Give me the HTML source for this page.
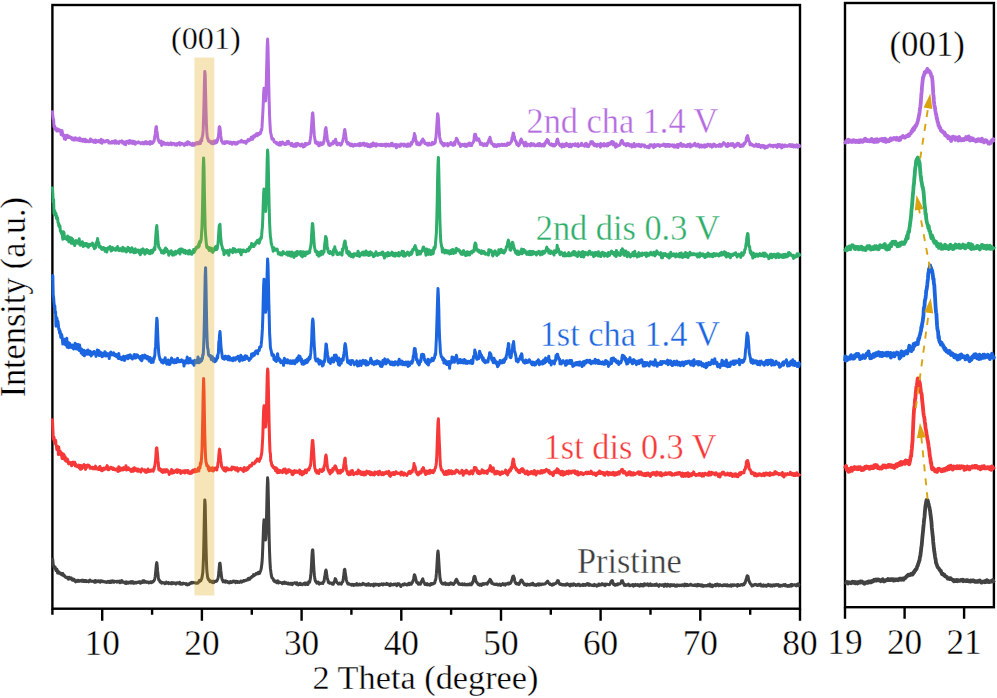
<!DOCTYPE html><html><head><meta charset="utf-8"><style>text{stroke:#fff;stroke-width:0.35px}html,body{margin:0;padding:0;background:#fff;overflow:hidden}svg{display:block}</style></head><body><svg width="997" height="698" viewBox="0 0 997 698">
<rect width="997" height="698" fill="#fff"/>
<g fill="none" stroke="#000" stroke-width="2.4">
<rect x="52.4" y="5" width="747.6" height="603.7"/>
<rect x="845.0" y="3" width="148.89999999999998" height="604.2"/>
<path d="M52.4,608.7 v6 M102.2,608.7 v12 M152.1,608.7 v6 M201.9,608.7 v12 M251.8,608.7 v6 M301.6,608.7 v12 M351.4,608.7 v6 M401.3,608.7 v12 M451.1,608.7 v6 M501.0,608.7 v12 M550.8,608.7 v6 M600.6,608.7 v12 M650.5,608.7 v6 M700.3,608.7 v12 M750.2,608.7 v6 M800.0,608.7 v12 M845.0,607.2 v11.5 M904.6,607.2 v11.5 M964.1,607.2 v11.5" stroke-linecap="butt"/>
</g>
<g fill="none" stroke-width="3.0" stroke-linejoin="round" stroke-linecap="butt">
<path stroke="#B46BE0" d="M52.4,110.3 L52.8,115.6 L53.2,119.2 L53.6,119.3 L54.0,126.6 L54.4,126.8 L54.8,126.2 L55.2,129.3 L55.6,129.7 L56.0,130.1 L56.4,130.0 L56.8,130.9 L57.2,128.8 L57.6,129.7 L58.0,129.2 L58.4,130.9 L58.8,130.3 L59.2,130.1 L59.6,129.8 L60.0,130.9 L60.4,131.7 L60.8,131.9 L61.2,134.7 L61.6,134.9 L62.0,130.6 L62.4,132.4 L62.8,135.1 L63.2,135.1 L63.6,136.2 L64.0,136.4 L64.4,139.0 L64.8,135.2 L65.2,136.3 L65.6,139.4 L66.0,137.8 L66.4,137.9 L66.8,136.5 L67.2,135.2 L67.6,137.4 L68.0,137.4 L68.4,135.9 L68.8,136.7 L69.2,137.4 L69.6,136.6 L70.0,137.6 L70.4,137.8 L70.8,137.9 L71.2,137.4 L71.6,138.8 L72.0,139.3 L72.4,138.9 L72.8,138.0 L73.2,139.8 L73.6,138.6 L74.0,140.1 L74.4,138.1 L74.8,140.1 L75.2,139.1 L75.6,137.9 L76.0,138.9 L76.4,139.4 L76.8,139.8 L77.2,138.7 L77.6,138.7 L78.0,140.0 L78.4,139.4 L78.8,140.0 L79.2,140.4 L79.6,138.1 L80.0,139.8 L80.4,140.7 L80.8,139.4 L81.2,139.0 L81.6,140.6 L82.0,140.4 L82.4,141.2 L82.8,140.3 L83.2,139.4 L83.6,140.7 L84.0,140.4 L84.4,141.4 L84.8,140.9 L85.2,139.3 L85.6,139.8 L86.0,141.7 L86.4,141.6 L86.8,140.5 L87.2,141.1 L87.6,141.4 L88.0,141.4 L88.4,141.7 L88.8,141.1 L89.2,140.7 L89.6,140.6 L90.0,141.6 L90.4,138.9 L90.8,140.7 L91.2,140.8 L91.6,139.7 L92.0,141.2 L92.4,140.4 L92.8,141.7 L93.2,141.0 L93.6,141.7 L94.0,142.2 L94.4,141.5 L94.8,140.5 L95.2,140.0 L95.6,142.6 L96.0,141.1 L96.4,140.6 L96.8,141.2 L97.2,140.9 L97.6,141.8 L98.0,141.1 L98.4,141.2 L98.8,140.7 L99.2,141.7 L99.6,140.6 L100.0,141.9 L100.4,142.6 L100.8,140.2 L101.2,139.4 L101.6,141.7 L102.0,143.2 L102.4,140.5 L102.8,140.4 L103.2,141.9 L103.6,140.9 L104.0,141.2 L104.4,141.3 L104.8,142.0 L105.2,141.2 L105.6,141.6 L106.0,141.2 L106.4,140.6 L106.8,141.0 L107.2,140.5 L107.6,141.3 L108.0,140.6 L108.4,140.9 L108.8,143.1 L109.2,142.2 L109.6,142.4 L110.0,143.0 L110.4,142.3 L110.8,142.5 L111.2,142.9 L111.6,142.7 L112.0,141.5 L112.4,142.9 L112.8,141.7 L113.2,141.2 L113.6,141.3 L114.0,141.7 L114.4,143.2 L114.8,141.1 L115.2,142.3 L115.6,140.6 L116.0,142.3 L116.4,143.1 L116.8,142.2 L117.2,141.9 L117.6,142.4 L118.0,142.7 L118.4,142.5 L118.8,143.4 L119.2,142.0 L119.6,141.3 L120.0,141.6 L120.4,141.6 L120.8,141.8 L121.2,141.8 L121.6,142.0 L122.0,140.8 L122.4,142.9 L122.8,142.0 L123.2,141.8 L123.6,143.3 L124.0,144.0 L124.4,143.4 L124.8,143.0 L125.2,142.1 L125.6,144.8 L126.0,143.1 L126.4,141.5 L126.8,141.7 L127.2,142.4 L127.6,141.2 L128.0,142.5 L128.4,142.1 L128.8,143.4 L129.2,143.2 L129.6,140.4 L130.0,142.4 L130.4,141.1 L130.8,143.1 L131.2,142.2 L131.6,142.4 L132.0,141.1 L132.4,143.3 L132.8,143.5 L133.2,141.3 L133.6,142.5 L134.0,141.9 L134.4,142.5 L134.8,141.7 L135.2,144.2 L135.6,142.1 L136.0,142.6 L136.4,143.2 L136.8,142.3 L137.2,142.5 L137.6,142.2 L138.0,142.6 L138.4,141.8 L138.8,142.4 L139.2,142.7 L139.6,142.7 L140.0,143.0 L140.4,142.8 L140.8,143.6 L141.2,142.8 L141.6,143.0 L142.0,142.7 L142.4,142.9 L142.8,142.4 L143.2,143.9 L143.6,142.7 L144.0,143.0 L144.4,143.8 L144.8,143.7 L145.2,142.9 L145.6,141.6 L146.0,143.3 L146.4,143.2 L146.8,142.0 L147.2,143.8 L147.6,142.9 L148.0,142.6 L148.4,143.5 L148.8,143.2 L149.2,143.3 L149.6,141.7 L150.0,144.2 L150.4,142.3 L150.8,141.7 L151.2,143.4 L151.6,142.8 L152.0,143.4 L152.4,142.8 L152.8,142.8 L153.2,142.6 L153.6,141.2 L154.0,141.3 L154.4,139.0 L154.8,136.4 L155.2,134.0 L155.6,130.5 L156.0,127.0 L156.4,126.6 L156.8,130.7 L157.2,132.6 L157.6,136.3 L158.0,139.3 L158.4,139.5 L158.8,141.3 L159.2,141.7 L159.6,142.7 L160.0,141.6 L160.4,142.0 L160.8,142.9 L161.2,141.0 L161.6,145.4 L162.0,142.7 L162.4,142.8 L162.8,144.1 L163.2,143.5 L163.6,142.2 L164.0,144.1 L164.4,144.3 L164.8,143.4 L165.2,143.6 L165.6,144.2 L166.0,143.3 L166.4,144.4 L166.8,144.3 L167.2,143.6 L167.6,143.1 L168.0,143.9 L168.4,143.4 L168.8,144.7 L169.2,143.9 L169.6,144.3 L170.0,143.7 L170.4,143.7 L170.8,142.9 L171.2,143.9 L171.6,144.8 L172.0,143.3 L172.4,143.2 L172.8,143.6 L173.2,143.5 L173.6,143.4 L174.0,144.0 L174.4,143.7 L174.8,145.0 L175.2,144.0 L175.6,144.3 L176.0,144.8 L176.4,143.9 L176.8,145.2 L177.2,143.7 L177.6,143.5 L178.0,143.8 L178.4,144.0 L178.8,143.0 L179.2,143.9 L179.6,142.6 L180.0,144.9 L180.4,143.8 L180.8,143.4 L181.2,143.3 L181.6,143.8 L182.0,144.0 L182.4,143.5 L182.8,143.8 L183.2,144.4 L183.6,144.2 L184.0,145.3 L184.4,145.4 L184.8,144.4 L185.2,144.6 L185.6,143.1 L186.0,144.5 L186.4,143.8 L186.8,144.1 L187.2,144.8 L187.6,141.7 L188.0,143.6 L188.4,142.5 L188.8,143.8 L189.2,142.5 L189.6,143.3 L190.0,144.1 L190.4,144.6 L190.8,144.4 L191.2,143.9 L191.6,144.2 L192.0,145.3 L192.4,144.7 L192.8,143.4 L193.2,145.3 L193.6,144.9 L194.0,145.2 L194.4,144.2 L194.8,144.9 L195.2,143.2 L195.6,144.2 L196.0,143.1 L196.4,143.8 L196.8,143.9 L197.2,142.5 L197.6,143.0 L198.0,143.1 L198.4,144.0 L198.8,143.6 L199.2,142.0 L199.6,143.0 L200.0,142.9 L200.4,143.5 L200.8,140.1 L201.2,140.3 L201.6,141.0 L202.0,137.9 L202.4,136.4 L202.8,134.7 L203.2,129.4 L203.6,117.9 L204.0,103.0 L204.4,83.6 L204.8,71.6 L205.2,75.2 L205.6,93.5 L206.0,110.0 L206.4,123.5 L206.8,131.4 L207.2,136.5 L207.6,138.4 L208.0,138.7 L208.4,140.7 L208.8,141.4 L209.2,141.2 L209.6,141.6 L210.0,142.0 L210.4,141.2 L210.8,142.9 L211.2,143.1 L211.6,142.4 L212.0,143.5 L212.4,141.8 L212.8,142.2 L213.2,142.1 L213.6,143.8 L214.0,140.9 L214.4,142.5 L214.8,142.7 L215.2,142.3 L215.6,142.9 L216.0,141.2 L216.4,140.3 L216.8,142.4 L217.2,140.5 L217.6,140.2 L218.0,137.8 L218.4,136.6 L218.8,132.6 L219.2,127.3 L219.6,126.7 L220.0,128.0 L220.4,131.8 L220.8,135.9 L221.2,138.6 L221.6,141.1 L222.0,141.9 L222.4,142.0 L222.8,143.3 L223.2,142.1 L223.6,142.8 L224.0,142.8 L224.4,143.4 L224.8,141.8 L225.2,143.4 L225.6,142.2 L226.0,142.0 L226.4,141.7 L226.8,142.8 L227.2,142.5 L227.6,141.7 L228.0,141.7 L228.4,142.1 L228.8,142.0 L229.2,143.2 L229.6,143.4 L230.0,143.0 L230.4,142.7 L230.8,142.2 L231.2,142.6 L231.6,143.3 L232.0,144.3 L232.4,143.4 L232.8,142.5 L233.2,142.8 L233.6,142.4 L234.0,142.2 L234.4,142.6 L234.8,142.9 L235.2,144.1 L235.6,142.7 L236.0,143.7 L236.4,144.0 L236.8,142.7 L237.2,143.8 L237.6,143.1 L238.0,142.1 L238.4,142.5 L238.8,142.1 L239.2,141.8 L239.6,141.7 L240.0,141.8 L240.4,142.0 L240.8,140.9 L241.2,141.6 L241.6,140.4 L242.0,141.8 L242.4,142.0 L242.8,141.7 L243.2,141.9 L243.6,142.1 L244.0,141.3 L244.4,141.6 L244.8,142.2 L245.2,142.5 L245.6,141.9 L246.0,143.4 L246.4,141.2 L246.8,141.8 L247.2,141.8 L247.6,140.5 L248.0,139.8 L248.4,139.3 L248.8,140.1 L249.2,140.6 L249.6,139.8 L250.0,139.6 L250.4,139.0 L250.8,139.6 L251.2,137.3 L251.6,138.8 L252.0,138.3 L252.4,136.9 L252.8,139.2 L253.2,136.2 L253.6,136.1 L254.0,135.7 L254.4,137.1 L254.8,135.2 L255.2,136.1 L255.6,135.7 L256.0,135.2 L256.4,133.8 L256.8,134.2 L257.2,135.7 L257.6,133.4 L258.0,133.6 L258.4,134.0 L258.8,134.6 L259.2,134.1 L259.6,134.2 L260.0,132.5 L260.4,133.6 L260.8,132.5 L261.2,129.7 L261.6,130.1 L262.0,127.4 L262.4,119.9 L262.8,113.1 L263.2,104.8 L263.6,93.5 L264.0,88.3 L264.4,90.9 L264.8,97.1 L265.2,101.0 L265.6,100.9 L266.0,93.4 L266.4,78.7 L266.8,62.2 L267.2,46.3 L267.6,39.0 L268.0,47.3 L268.4,65.3 L268.8,86.4 L269.2,102.2 L269.6,116.2 L270.0,124.2 L270.4,130.6 L270.8,133.6 L271.2,134.7 L271.6,137.2 L272.0,139.1 L272.4,138.2 L272.8,139.2 L273.2,139.5 L273.6,139.3 L274.0,141.5 L274.4,142.1 L274.8,142.0 L275.2,142.0 L275.6,142.2 L276.0,142.8 L276.4,142.4 L276.8,143.9 L277.2,144.3 L277.6,144.3 L278.0,143.3 L278.4,143.8 L278.8,143.6 L279.2,145.1 L279.6,143.9 L280.0,142.3 L280.4,144.0 L280.8,145.0 L281.2,144.0 L281.6,144.1 L282.0,143.5 L282.4,142.0 L282.8,142.2 L283.2,142.7 L283.6,143.6 L284.0,144.0 L284.4,144.3 L284.8,143.5 L285.2,144.5 L285.6,143.6 L286.0,143.2 L286.4,144.3 L286.8,143.0 L287.2,141.5 L287.6,142.7 L288.0,143.6 L288.4,141.3 L288.8,143.6 L289.2,143.8 L289.6,143.3 L290.0,143.4 L290.4,144.3 L290.8,144.3 L291.2,145.6 L291.6,144.9 L292.0,143.4 L292.4,143.9 L292.8,145.1 L293.2,146.1 L293.6,145.1 L294.0,145.1 L294.4,146.4 L294.8,145.0 L295.2,144.7 L295.6,143.8 L296.0,144.4 L296.4,146.3 L296.8,143.5 L297.2,144.4 L297.6,143.3 L298.0,144.4 L298.4,145.0 L298.8,144.2 L299.2,145.1 L299.6,145.1 L300.0,145.0 L300.4,146.0 L300.8,145.3 L301.2,144.4 L301.6,144.1 L302.0,144.0 L302.4,145.1 L302.8,144.6 L303.2,147.0 L303.6,146.4 L304.0,145.0 L304.4,144.9 L304.8,146.4 L305.2,143.5 L305.6,144.4 L306.0,145.2 L306.4,143.6 L306.8,143.7 L307.2,143.6 L307.6,144.2 L308.0,143.7 L308.4,143.9 L308.8,143.8 L309.2,143.1 L309.6,143.4 L310.0,141.0 L310.4,138.7 L310.8,135.4 L311.2,130.9 L311.6,125.4 L312.0,119.5 L312.4,113.5 L312.8,112.9 L313.2,117.7 L313.6,125.2 L314.0,131.5 L314.4,136.0 L314.8,138.4 L315.2,140.9 L315.6,143.1 L316.0,141.4 L316.4,143.2 L316.8,142.1 L317.2,144.0 L317.6,143.5 L318.0,142.6 L318.4,144.4 L318.8,145.9 L319.2,144.7 L319.6,145.5 L320.0,144.5 L320.4,142.8 L320.8,144.7 L321.2,143.9 L321.6,143.0 L322.0,144.6 L322.4,144.1 L322.8,143.2 L323.2,143.9 L323.6,141.8 L324.0,141.5 L324.4,137.9 L324.8,135.5 L325.2,130.0 L325.6,128.6 L326.0,127.6 L326.4,131.8 L326.8,134.3 L327.2,138.2 L327.6,141.7 L328.0,140.7 L328.4,142.9 L328.8,145.0 L329.2,144.9 L329.6,145.5 L330.0,144.6 L330.4,145.2 L330.8,144.2 L331.2,143.6 L331.6,143.3 L332.0,144.1 L332.4,144.1 L332.8,143.9 L333.2,141.6 L333.6,142.4 L334.0,142.9 L334.4,142.7 L334.8,141.0 L335.2,140.1 L335.6,139.2 L336.0,143.2 L336.4,141.7 L336.8,144.5 L337.2,144.8 L337.6,144.1 L338.0,143.5 L338.4,144.1 L338.8,143.2 L339.2,144.3 L339.6,144.1 L340.0,144.5 L340.4,144.7 L340.8,145.2 L341.2,143.4 L341.6,144.2 L342.0,142.4 L342.4,141.7 L342.8,140.8 L343.2,138.8 L343.6,137.6 L344.0,134.1 L344.4,131.2 L344.8,129.4 L345.2,132.0 L345.6,135.0 L346.0,137.7 L346.4,141.2 L346.8,142.4 L347.2,142.2 L347.6,143.9 L348.0,142.5 L348.4,143.9 L348.8,143.8 L349.2,144.0 L349.6,143.6 L350.0,145.3 L350.4,145.1 L350.8,145.7 L351.2,145.0 L351.6,144.1 L352.0,144.8 L352.4,144.3 L352.8,145.6 L353.2,146.2 L353.6,145.5 L354.0,144.9 L354.4,145.1 L354.8,145.5 L355.2,144.3 L355.6,145.6 L356.0,145.6 L356.4,144.9 L356.8,144.9 L357.2,145.2 L357.6,144.3 L358.0,144.1 L358.4,145.2 L358.8,144.7 L359.2,145.8 L359.6,143.8 L360.0,143.3 L360.4,145.4 L360.8,145.4 L361.2,144.3 L361.6,143.8 L362.0,145.0 L362.4,143.8 L362.8,144.8 L363.2,143.4 L363.6,144.8 L364.0,143.2 L364.4,144.5 L364.8,145.7 L365.2,144.3 L365.6,145.1 L366.0,144.2 L366.4,144.1 L366.8,143.8 L367.2,145.9 L367.6,145.1 L368.0,146.5 L368.4,144.4 L368.8,145.1 L369.2,145.4 L369.6,146.4 L370.0,146.8 L370.4,144.9 L370.8,144.5 L371.2,144.0 L371.6,146.2 L372.0,145.0 L372.4,144.5 L372.8,144.8 L373.2,142.9 L373.6,143.5 L374.0,145.5 L374.4,145.1 L374.8,145.0 L375.2,144.1 L375.6,145.2 L376.0,146.1 L376.4,143.8 L376.8,144.8 L377.2,144.5 L377.6,145.2 L378.0,145.1 L378.4,145.0 L378.8,144.5 L379.2,145.2 L379.6,144.7 L380.0,145.0 L380.4,145.0 L380.8,145.4 L381.2,144.4 L381.6,144.6 L382.0,145.6 L382.4,144.6 L382.8,144.6 L383.2,145.5 L383.6,145.1 L384.0,145.1 L384.4,145.3 L384.8,144.2 L385.2,145.6 L385.6,146.3 L386.0,145.7 L386.4,144.1 L386.8,145.5 L387.2,144.6 L387.6,145.0 L388.0,145.2 L388.4,144.2 L388.8,146.0 L389.2,144.9 L389.6,145.5 L390.0,145.3 L390.4,145.8 L390.8,145.6 L391.2,143.6 L391.6,144.8 L392.0,143.2 L392.4,144.6 L392.8,145.6 L393.2,145.8 L393.6,146.0 L394.0,144.7 L394.4,145.2 L394.8,144.9 L395.2,145.7 L395.6,145.9 L396.0,144.5 L396.4,147.7 L396.8,145.0 L397.2,144.8 L397.6,145.6 L398.0,145.8 L398.4,145.7 L398.8,144.8 L399.2,146.4 L399.6,145.3 L400.0,146.4 L400.4,146.2 L400.8,144.1 L401.2,144.2 L401.6,144.1 L402.0,145.0 L402.4,144.8 L402.8,145.0 L403.2,144.2 L403.6,145.2 L404.0,146.0 L404.4,144.1 L404.8,145.0 L405.2,145.4 L405.6,145.1 L406.0,145.0 L406.4,146.4 L406.8,145.9 L407.2,145.5 L407.6,144.1 L408.0,146.3 L408.4,144.8 L408.8,144.1 L409.2,144.2 L409.6,144.1 L410.0,146.1 L410.4,144.6 L410.8,144.4 L411.2,142.5 L411.6,144.4 L412.0,142.6 L412.4,141.8 L412.8,141.9 L413.2,139.2 L413.6,138.6 L414.0,136.9 L414.4,133.6 L414.8,135.2 L415.2,135.8 L415.6,139.0 L416.0,141.5 L416.4,141.1 L416.8,144.3 L417.2,143.2 L417.6,142.8 L418.0,143.8 L418.4,144.6 L418.8,143.1 L419.2,144.1 L419.6,143.0 L420.0,144.8 L420.4,143.7 L420.8,142.9 L421.2,143.4 L421.6,140.8 L422.0,140.5 L422.4,141.1 L422.8,139.0 L423.2,140.2 L423.6,140.3 L424.0,140.9 L424.4,142.3 L424.8,143.4 L425.2,143.6 L425.6,143.6 L426.0,143.8 L426.4,143.4 L426.8,144.6 L427.2,144.8 L427.6,145.1 L428.0,143.2 L428.4,145.1 L428.8,144.4 L429.2,143.2 L429.6,144.3 L430.0,144.8 L430.4,144.5 L430.8,144.6 L431.2,144.8 L431.6,144.7 L432.0,144.0 L432.4,142.4 L432.8,143.3 L433.2,144.0 L433.6,143.2 L434.0,143.8 L434.4,143.5 L434.8,142.3 L435.2,142.7 L435.6,138.9 L436.0,137.4 L436.4,131.9 L436.8,125.6 L437.2,119.7 L437.6,113.7 L438.0,114.8 L438.4,118.3 L438.8,126.1 L439.2,131.5 L439.6,136.4 L440.0,139.1 L440.4,140.2 L440.8,142.5 L441.2,141.6 L441.6,142.2 L442.0,144.0 L442.4,144.3 L442.8,144.4 L443.2,144.4 L443.6,146.0 L444.0,143.5 L444.4,143.8 L444.8,143.6 L445.2,145.0 L445.6,144.4 L446.0,145.0 L446.4,144.9 L446.8,144.0 L447.2,143.6 L447.6,143.5 L448.0,145.9 L448.4,145.0 L448.8,144.7 L449.2,144.0 L449.6,144.1 L450.0,144.0 L450.4,144.0 L450.8,142.5 L451.2,144.3 L451.6,144.1 L452.0,144.7 L452.4,144.7 L452.8,145.2 L453.2,144.6 L453.6,145.2 L454.0,142.5 L454.4,143.2 L454.8,144.7 L455.2,141.6 L455.6,141.0 L456.0,140.3 L456.4,138.2 L456.8,139.7 L457.2,139.4 L457.6,140.4 L458.0,141.8 L458.4,142.2 L458.8,143.8 L459.2,143.9 L459.6,144.6 L460.0,143.7 L460.4,146.6 L460.8,144.8 L461.2,144.9 L461.6,145.3 L462.0,144.7 L462.4,144.4 L462.8,144.8 L463.2,145.4 L463.6,145.1 L464.0,145.3 L464.4,144.2 L464.8,144.1 L465.2,146.2 L465.6,144.7 L466.0,145.4 L466.4,145.7 L466.8,146.3 L467.2,144.3 L467.6,145.0 L468.0,145.0 L468.4,145.0 L468.8,143.4 L469.2,145.1 L469.6,143.0 L470.0,145.4 L470.4,145.5 L470.8,145.5 L471.2,144.1 L471.6,145.5 L472.0,144.0 L472.4,143.4 L472.8,143.0 L473.2,142.3 L473.6,141.7 L474.0,140.2 L474.4,135.6 L474.8,134.3 L475.2,134.2 L475.6,134.5 L476.0,136.7 L476.4,137.2 L476.8,140.3 L477.2,138.8 L477.6,139.6 L478.0,139.4 L478.4,139.1 L478.8,138.8 L479.2,140.7 L479.6,141.2 L480.0,142.5 L480.4,144.4 L480.8,143.9 L481.2,144.0 L481.6,143.2 L482.0,144.5 L482.4,144.9 L482.8,143.9 L483.2,144.2 L483.6,145.7 L484.0,144.7 L484.4,144.4 L484.8,143.7 L485.2,144.1 L485.6,144.4 L486.0,145.5 L486.4,143.9 L486.8,145.5 L487.2,143.1 L487.6,143.1 L488.0,143.4 L488.4,141.6 L488.8,140.0 L489.2,139.3 L489.6,138.8 L490.0,137.2 L490.4,139.3 L490.8,140.8 L491.2,141.8 L491.6,143.6 L492.0,143.3 L492.4,143.9 L492.8,144.5 L493.2,145.3 L493.6,144.8 L494.0,146.3 L494.4,144.6 L494.8,146.3 L495.2,144.7 L495.6,145.2 L496.0,145.5 L496.4,146.6 L496.8,145.7 L497.2,144.7 L497.6,146.0 L498.0,145.0 L498.4,144.6 L498.8,145.5 L499.2,145.3 L499.6,145.8 L500.0,144.6 L500.4,145.2 L500.8,145.2 L501.2,144.9 L501.6,144.7 L502.0,144.2 L502.4,145.5 L502.8,145.1 L503.2,145.4 L503.6,144.8 L504.0,145.1 L504.4,144.2 L504.8,145.0 L505.2,145.4 L505.6,144.7 L506.0,145.2 L506.4,144.7 L506.8,145.4 L507.2,144.2 L507.6,143.1 L508.0,144.6 L508.4,144.1 L508.8,143.3 L509.2,144.4 L509.6,143.9 L510.0,143.8 L510.4,142.8 L510.8,142.5 L511.2,141.6 L511.6,141.4 L512.0,138.0 L512.4,136.8 L512.8,135.5 L513.2,133.0 L513.6,133.4 L514.0,137.5 L514.4,136.3 L514.8,139.7 L515.2,140.1 L515.6,141.3 L516.0,141.2 L516.4,142.7 L516.8,144.4 L517.2,143.0 L517.6,144.7 L518.0,144.6 L518.4,145.9 L518.8,143.9 L519.2,145.0 L519.6,144.2 L520.0,142.6 L520.4,140.6 L520.8,141.9 L521.2,139.1 L521.6,139.9 L522.0,141.7 L522.4,142.8 L522.8,142.0 L523.2,143.2 L523.6,143.4 L524.0,144.7 L524.4,145.9 L524.8,142.9 L525.2,145.1 L525.6,142.3 L526.0,144.6 L526.4,143.8 L526.8,146.1 L527.2,144.8 L527.6,144.1 L528.0,144.4 L528.4,144.4 L528.8,145.0 L529.2,144.7 L529.6,145.3 L530.0,145.9 L530.4,145.3 L530.8,143.8 L531.2,143.4 L531.6,144.1 L532.0,145.4 L532.4,144.4 L532.8,144.3 L533.2,145.0 L533.6,143.9 L534.0,144.3 L534.4,145.7 L534.8,145.2 L535.2,145.2 L535.6,145.7 L536.0,145.0 L536.4,144.8 L536.8,144.8 L537.2,145.4 L537.6,144.9 L538.0,143.8 L538.4,144.3 L538.8,145.0 L539.2,145.8 L539.6,143.5 L540.0,144.7 L540.4,144.4 L540.8,145.3 L541.2,145.2 L541.6,146.0 L542.0,145.3 L542.4,144.5 L542.8,144.4 L543.2,145.0 L543.6,144.8 L544.0,146.1 L544.4,145.5 L544.8,143.1 L545.2,144.0 L545.6,142.3 L546.0,141.4 L546.4,142.4 L546.8,141.3 L547.2,139.4 L547.6,141.4 L548.0,140.1 L548.4,140.9 L548.8,143.2 L549.2,143.7 L549.6,144.0 L550.0,144.4 L550.4,145.0 L550.8,144.9 L551.2,145.0 L551.6,143.8 L552.0,144.2 L552.4,145.6 L552.8,144.5 L553.2,145.3 L553.6,145.8 L554.0,144.5 L554.4,144.8 L554.8,145.9 L555.2,144.6 L555.6,144.9 L556.0,144.0 L556.4,142.4 L556.8,140.6 L557.2,139.3 L557.6,139.1 L558.0,141.3 L558.4,142.5 L558.8,143.1 L559.2,144.7 L559.6,144.1 L560.0,145.7 L560.4,145.0 L560.8,145.1 L561.2,145.1 L561.6,145.1 L562.0,147.1 L562.4,144.0 L562.8,145.3 L563.2,146.1 L563.6,145.7 L564.0,145.0 L564.4,146.5 L564.8,144.4 L565.2,144.2 L565.6,145.6 L566.0,144.0 L566.4,143.3 L566.8,145.7 L567.2,145.5 L567.6,145.5 L568.0,144.7 L568.4,145.3 L568.8,144.6 L569.2,146.7 L569.6,146.1 L570.0,146.1 L570.4,144.1 L570.8,146.2 L571.2,146.6 L571.6,146.2 L572.0,145.6 L572.4,144.8 L572.8,144.3 L573.2,144.8 L573.6,144.5 L574.0,144.4 L574.4,144.1 L574.8,145.7 L575.2,143.7 L575.6,144.7 L576.0,144.4 L576.4,145.6 L576.8,145.9 L577.2,145.7 L577.6,145.4 L578.0,143.8 L578.4,146.5 L578.8,145.4 L579.2,145.0 L579.6,145.2 L580.0,145.0 L580.4,145.6 L580.8,145.5 L581.2,144.9 L581.6,143.2 L582.0,145.0 L582.4,145.3 L582.8,145.3 L583.2,144.8 L583.6,145.3 L584.0,145.8 L584.4,144.8 L584.8,146.3 L585.2,143.7 L585.6,144.2 L586.0,144.5 L586.4,143.4 L586.8,144.5 L587.2,146.3 L587.6,146.3 L588.0,145.5 L588.4,146.7 L588.8,145.4 L589.2,144.6 L589.6,144.8 L590.0,144.0 L590.4,144.0 L590.8,141.7 L591.2,143.0 L591.6,141.8 L592.0,143.1 L592.4,141.8 L592.8,143.1 L593.2,143.9 L593.6,144.8 L594.0,143.4 L594.4,145.7 L594.8,144.9 L595.2,144.1 L595.6,145.4 L596.0,144.6 L596.4,145.4 L596.8,146.3 L597.2,145.2 L597.6,144.3 L598.0,144.5 L598.4,145.3 L598.8,145.2 L599.2,144.5 L599.6,144.7 L600.0,145.8 L600.4,147.1 L600.8,143.4 L601.2,145.9 L601.6,145.1 L602.0,145.8 L602.4,145.8 L602.8,145.1 L603.2,144.3 L603.6,144.0 L604.0,143.6 L604.4,145.9 L604.8,144.9 L605.2,144.8 L605.6,145.0 L606.0,144.2 L606.4,145.4 L606.8,146.0 L607.2,145.7 L607.6,143.6 L608.0,145.7 L608.4,144.0 L608.8,143.2 L609.2,143.6 L609.6,143.8 L610.0,144.3 L610.4,143.1 L610.8,142.3 L611.2,142.6 L611.6,143.8 L612.0,141.5 L612.4,142.4 L612.8,142.5 L613.2,145.0 L613.6,142.1 L614.0,144.8 L614.4,143.4 L614.8,144.1 L615.2,144.7 L615.6,147.3 L616.0,144.5 L616.4,143.9 L616.8,146.4 L617.2,145.0 L617.6,145.5 L618.0,145.7 L618.4,145.7 L618.8,145.3 L619.2,145.4 L619.6,145.1 L620.0,145.0 L620.4,143.4 L620.8,142.3 L621.2,141.0 L621.6,141.2 L622.0,140.3 L622.4,141.0 L622.8,141.8 L623.2,143.6 L623.6,143.3 L624.0,144.4 L624.4,143.5 L624.8,143.9 L625.2,144.7 L625.6,144.2 L626.0,145.8 L626.4,144.3 L626.8,145.4 L627.2,143.5 L627.6,144.5 L628.0,145.0 L628.4,145.0 L628.8,143.8 L629.2,145.2 L629.6,145.9 L630.0,145.7 L630.4,144.8 L630.8,145.0 L631.2,144.7 L631.6,146.2 L632.0,147.0 L632.4,145.6 L632.8,144.7 L633.2,146.1 L633.6,146.3 L634.0,143.5 L634.4,145.4 L634.8,146.7 L635.2,145.6 L635.6,145.4 L636.0,145.3 L636.4,145.9 L636.8,144.6 L637.2,144.8 L637.6,145.8 L638.0,145.1 L638.4,145.8 L638.8,144.2 L639.2,146.2 L639.6,146.2 L640.0,145.6 L640.4,145.7 L640.8,146.8 L641.2,144.8 L641.6,144.9 L642.0,144.8 L642.4,145.4 L642.8,145.0 L643.2,145.8 L643.6,145.4 L644.0,144.9 L644.4,144.9 L644.8,147.0 L645.2,146.1 L645.6,146.1 L646.0,146.4 L646.4,146.5 L646.8,147.3 L647.2,147.3 L647.6,146.5 L648.0,146.4 L648.4,146.2 L648.8,146.0 L649.2,147.8 L649.6,145.8 L650.0,144.7 L650.4,145.3 L650.8,145.1 L651.2,145.7 L651.6,144.7 L652.0,145.8 L652.4,145.7 L652.8,146.4 L653.2,147.1 L653.6,147.6 L654.0,146.5 L654.4,144.5 L654.8,144.9 L655.2,145.3 L655.6,146.5 L656.0,145.4 L656.4,145.7 L656.8,144.7 L657.2,145.3 L657.6,145.4 L658.0,144.5 L658.4,145.5 L658.8,145.8 L659.2,144.9 L659.6,145.8 L660.0,146.3 L660.4,145.2 L660.8,145.2 L661.2,145.0 L661.6,144.9 L662.0,145.5 L662.4,145.1 L662.8,145.2 L663.2,144.8 L663.6,144.2 L664.0,144.7 L664.4,145.6 L664.8,144.4 L665.2,144.8 L665.6,146.5 L666.0,146.1 L666.4,144.6 L666.8,145.5 L667.2,144.5 L667.6,146.1 L668.0,144.5 L668.4,145.1 L668.8,146.3 L669.2,144.7 L669.6,146.4 L670.0,144.8 L670.4,145.6 L670.8,145.3 L671.2,145.4 L671.6,145.7 L672.0,145.5 L672.4,144.8 L672.8,146.3 L673.2,146.2 L673.6,146.7 L674.0,146.9 L674.4,145.0 L674.8,147.0 L675.2,147.1 L675.6,145.7 L676.0,146.8 L676.4,147.0 L676.8,145.4 L677.2,144.6 L677.6,145.3 L678.0,147.6 L678.4,145.6 L678.8,144.5 L679.2,145.1 L679.6,144.6 L680.0,145.0 L680.4,145.3 L680.8,143.3 L681.2,145.5 L681.6,146.3 L682.0,145.2 L682.4,145.1 L682.8,146.3 L683.2,144.6 L683.6,144.7 L684.0,144.7 L684.4,145.7 L684.8,146.1 L685.2,145.8 L685.6,146.3 L686.0,146.5 L686.4,146.2 L686.8,145.1 L687.2,145.4 L687.6,146.4 L688.0,144.5 L688.4,145.0 L688.8,144.7 L689.2,144.9 L689.6,144.2 L690.0,144.1 L690.4,147.1 L690.8,146.0 L691.2,144.9 L691.6,145.4 L692.0,146.0 L692.4,145.2 L692.8,145.8 L693.2,144.7 L693.6,144.8 L694.0,144.9 L694.4,144.6 L694.8,143.2 L695.2,145.3 L695.6,145.7 L696.0,146.0 L696.4,145.0 L696.8,146.1 L697.2,146.0 L697.6,144.4 L698.0,144.0 L698.4,146.0 L698.8,144.9 L699.2,146.3 L699.6,147.1 L700.0,145.1 L700.4,145.1 L700.8,145.7 L701.2,146.3 L701.6,145.1 L702.0,147.0 L702.4,146.9 L702.8,146.7 L703.2,145.7 L703.6,146.8 L704.0,146.6 L704.4,144.9 L704.8,147.3 L705.2,145.4 L705.6,145.8 L706.0,145.1 L706.4,145.8 L706.8,146.4 L707.2,144.9 L707.6,144.2 L708.0,145.1 L708.4,144.4 L708.8,144.8 L709.2,145.3 L709.6,145.3 L710.0,146.2 L710.4,144.5 L710.8,145.5 L711.2,144.9 L711.6,146.3 L712.0,147.2 L712.4,145.5 L712.8,146.5 L713.2,144.9 L713.6,144.1 L714.0,144.4 L714.4,144.2 L714.8,144.7 L715.2,145.4 L715.6,146.6 L716.0,146.3 L716.4,146.2 L716.8,145.6 L717.2,145.4 L717.6,146.0 L718.0,146.1 L718.4,146.2 L718.8,146.2 L719.2,145.7 L719.6,144.2 L720.0,144.6 L720.4,144.6 L720.8,146.4 L721.2,144.7 L721.6,145.4 L722.0,145.8 L722.4,144.7 L722.8,143.9 L723.2,143.6 L723.6,142.6 L724.0,143.3 L724.4,143.8 L724.8,143.6 L725.2,144.2 L725.6,144.7 L726.0,146.2 L726.4,144.6 L726.8,145.5 L727.2,146.0 L727.6,146.4 L728.0,143.6 L728.4,144.9 L728.8,145.0 L729.2,144.2 L729.6,145.5 L730.0,145.0 L730.4,144.6 L730.8,143.7 L731.2,144.0 L731.6,144.3 L732.0,145.4 L732.4,144.2 L732.8,143.6 L733.2,144.1 L733.6,144.7 L734.0,146.5 L734.4,147.2 L734.8,145.0 L735.2,146.0 L735.6,146.3 L736.0,146.1 L736.4,144.9 L736.8,143.8 L737.2,144.3 L737.6,143.2 L738.0,144.7 L738.4,145.2 L738.8,143.4 L739.2,145.0 L739.6,145.5 L740.0,146.4 L740.4,146.6 L740.8,146.3 L741.2,145.1 L741.6,145.3 L742.0,146.3 L742.4,144.8 L742.8,145.0 L743.2,146.0 L743.6,144.6 L744.0,143.2 L744.4,143.6 L744.8,143.8 L745.2,142.4 L745.6,142.4 L746.0,141.2 L746.4,138.3 L746.8,137.0 L747.2,136.4 L747.6,135.6 L748.0,137.6 L748.4,138.6 L748.8,140.8 L749.2,141.1 L749.6,142.0 L750.0,144.8 L750.4,143.3 L750.8,143.9 L751.2,144.1 L751.6,144.7 L752.0,144.4 L752.4,145.3 L752.8,144.9 L753.2,145.3 L753.6,146.0 L754.0,146.3 L754.4,146.1 L754.8,145.2 L755.2,145.9 L755.6,145.5 L756.0,145.4 L756.4,144.1 L756.8,145.9 L757.2,145.2 L757.6,146.6 L758.0,145.8 L758.4,144.6 L758.8,144.5 L759.2,146.6 L759.6,145.2 L760.0,146.4 L760.4,145.6 L760.8,147.4 L761.2,145.8 L761.6,146.8 L762.0,146.7 L762.4,145.4 L762.8,145.6 L763.2,147.1 L763.6,146.1 L764.0,145.6 L764.4,147.2 L764.8,148.3 L765.2,146.4 L765.6,147.5 L766.0,146.3 L766.4,147.5 L766.8,146.3 L767.2,147.4 L767.6,146.7 L768.0,145.9 L768.4,146.1 L768.8,145.4 L769.2,144.9 L769.6,144.9 L770.0,145.7 L770.4,145.0 L770.8,146.2 L771.2,146.3 L771.6,146.3 L772.0,145.6 L772.4,146.0 L772.8,145.9 L773.2,146.9 L773.6,145.3 L774.0,145.6 L774.4,145.7 L774.8,145.8 L775.2,145.3 L775.6,145.3 L776.0,146.6 L776.4,145.3 L776.8,146.5 L777.2,147.4 L777.6,146.8 L778.0,144.5 L778.4,146.4 L778.8,146.1 L779.2,146.2 L779.6,144.5 L780.0,146.4 L780.4,145.0 L780.8,146.9 L781.2,146.8 L781.6,147.9 L782.0,145.7 L782.4,144.9 L782.8,146.8 L783.2,146.6 L783.6,145.6 L784.0,146.9 L784.4,146.4 L784.8,145.0 L785.2,145.8 L785.6,145.8 L786.0,146.1 L786.4,146.3 L786.8,145.6 L787.2,145.9 L787.6,146.4 L788.0,145.9 L788.4,145.7 L788.8,145.7 L789.2,145.8 L789.6,144.5 L790.0,146.1 L790.4,145.2 L790.8,146.1 L791.2,144.8 L791.6,146.6 L792.0,146.0 L792.4,144.7 L792.8,145.8 L793.2,145.1 L793.6,147.0 L794.0,146.1 L794.4,145.2 L794.8,146.1 L795.2,145.9 L795.6,146.9 L796.0,146.2 L796.4,146.2 L796.8,144.9 L797.2,146.3 L797.6,147.3 L798.0,146.3 L798.4,145.9 L798.8,146.1 L799.2,145.4 L799.6,146.4 L800.0,145.4"/>
<path stroke="#2EAE6A" d="M52.4,186.5 L52.8,193.0 L53.2,202.0 L53.6,199.5 L54.0,213.8 L54.4,213.5 L54.8,210.8 L55.2,215.0 L55.6,214.5 L56.0,213.3 L56.4,218.4 L56.8,216.3 L57.2,217.6 L57.6,218.0 L58.0,222.6 L58.4,222.8 L58.8,225.9 L59.2,224.5 L59.6,227.3 L60.0,226.1 L60.4,231.3 L60.8,231.0 L61.2,232.5 L61.6,233.8 L62.0,231.8 L62.4,236.1 L62.8,239.2 L63.2,231.8 L63.6,231.9 L64.0,232.7 L64.4,237.7 L64.8,236.6 L65.2,238.7 L65.6,238.4 L66.0,237.8 L66.4,238.1 L66.8,237.5 L67.2,239.7 L67.6,236.1 L68.0,237.5 L68.4,238.8 L68.8,241.7 L69.2,237.4 L69.6,237.3 L70.0,238.7 L70.4,241.9 L70.8,240.3 L71.2,243.3 L71.6,238.1 L72.0,243.3 L72.4,243.3 L72.8,239.3 L73.2,242.0 L73.6,243.8 L74.0,242.0 L74.4,243.5 L74.8,245.6 L75.2,242.2 L75.6,241.3 L76.0,240.6 L76.4,242.9 L76.8,241.7 L77.2,241.8 L77.6,242.0 L78.0,243.2 L78.4,240.7 L78.8,240.1 L79.2,238.9 L79.6,244.5 L80.0,243.1 L80.4,245.3 L80.8,243.2 L81.2,242.2 L81.6,244.1 L82.0,243.4 L82.4,241.8 L82.8,242.5 L83.2,246.5 L83.6,244.7 L84.0,244.9 L84.4,244.0 L84.8,243.5 L85.2,245.7 L85.6,244.3 L86.0,243.5 L86.4,244.4 L86.8,243.6 L87.2,245.2 L87.6,246.7 L88.0,244.2 L88.4,247.3 L88.8,244.6 L89.2,245.7 L89.6,244.4 L90.0,245.1 L90.4,245.4 L90.8,244.6 L91.2,244.1 L91.6,244.1 L92.0,244.0 L92.4,243.1 L92.8,245.0 L93.2,246.0 L93.6,246.7 L94.0,246.4 L94.4,248.7 L94.8,245.8 L95.2,244.7 L95.6,247.5 L96.0,243.3 L96.4,245.1 L96.8,241.7 L97.2,242.3 L97.6,238.6 L98.0,242.6 L98.4,242.3 L98.8,242.6 L99.2,247.1 L99.6,247.0 L100.0,246.8 L100.4,246.4 L100.8,247.7 L101.2,247.8 L101.6,249.2 L102.0,249.4 L102.4,247.8 L102.8,248.1 L103.2,248.4 L103.6,247.6 L104.0,248.7 L104.4,249.5 L104.8,250.5 L105.2,251.3 L105.6,248.6 L106.0,250.3 L106.4,249.0 L106.8,252.0 L107.2,249.2 L107.6,249.7 L108.0,247.8 L108.4,247.7 L108.8,248.9 L109.2,248.0 L109.6,248.9 L110.0,246.6 L110.4,249.4 L110.8,247.7 L111.2,251.1 L111.6,248.8 L112.0,250.6 L112.4,247.5 L112.8,249.7 L113.2,248.0 L113.6,248.5 L114.0,249.1 L114.4,248.8 L114.8,249.6 L115.2,250.3 L115.6,250.3 L116.0,249.4 L116.4,247.8 L116.8,248.4 L117.2,249.0 L117.6,246.6 L118.0,250.0 L118.4,248.9 L118.8,249.0 L119.2,250.6 L119.6,250.4 L120.0,250.0 L120.4,248.6 L120.8,250.2 L121.2,250.2 L121.6,248.7 L122.0,251.0 L122.4,250.3 L122.8,247.2 L123.2,249.7 L123.6,248.0 L124.0,251.0 L124.4,250.7 L124.8,248.5 L125.2,248.9 L125.6,250.2 L126.0,249.8 L126.4,252.0 L126.8,251.0 L127.2,249.7 L127.6,250.6 L128.0,247.3 L128.4,250.0 L128.8,250.5 L129.2,249.2 L129.6,248.6 L130.0,250.3 L130.4,252.1 L130.8,250.1 L131.2,248.6 L131.6,251.8 L132.0,247.8 L132.4,250.8 L132.8,249.6 L133.2,251.7 L133.6,249.9 L134.0,252.8 L134.4,251.7 L134.8,249.3 L135.2,248.9 L135.6,250.7 L136.0,252.4 L136.4,250.8 L136.8,250.5 L137.2,250.1 L137.6,251.3 L138.0,251.1 L138.4,251.3 L138.8,250.1 L139.2,253.0 L139.6,253.5 L140.0,250.4 L140.4,254.8 L140.8,252.9 L141.2,251.4 L141.6,249.6 L142.0,252.6 L142.4,252.3 L142.8,250.6 L143.2,248.9 L143.6,252.2 L144.0,250.0 L144.4,250.1 L144.8,254.2 L145.2,253.6 L145.6,252.4 L146.0,251.1 L146.4,252.7 L146.8,249.4 L147.2,252.5 L147.6,251.6 L148.0,251.0 L148.4,250.7 L148.8,253.2 L149.2,252.7 L149.6,252.8 L150.0,253.6 L150.4,251.5 L150.8,251.0 L151.2,250.3 L151.6,251.9 L152.0,253.0 L152.4,251.6 L152.8,252.2 L153.2,249.7 L153.6,250.1 L154.0,249.1 L154.4,247.5 L154.8,249.5 L155.2,245.4 L155.6,238.9 L156.0,233.2 L156.4,228.7 L156.8,225.6 L157.2,231.5 L157.6,235.2 L158.0,241.5 L158.4,244.5 L158.8,247.5 L159.2,247.7 L159.6,248.1 L160.0,249.1 L160.4,249.6 L160.8,250.3 L161.2,250.9 L161.6,252.8 L162.0,252.2 L162.4,251.0 L162.8,252.3 L163.2,250.7 L163.6,253.3 L164.0,252.2 L164.4,249.8 L164.8,252.2 L165.2,252.2 L165.6,248.0 L166.0,250.3 L166.4,250.8 L166.8,249.2 L167.2,250.4 L167.6,250.7 L168.0,252.6 L168.4,252.4 L168.8,255.3 L169.2,251.8 L169.6,253.8 L170.0,252.7 L170.4,253.1 L170.8,251.5 L171.2,250.7 L171.6,252.1 L172.0,254.0 L172.4,255.1 L172.8,254.0 L173.2,253.9 L173.6,252.3 L174.0,255.0 L174.4,254.6 L174.8,252.1 L175.2,252.5 L175.6,251.2 L176.0,254.0 L176.4,252.7 L176.8,252.0 L177.2,252.6 L177.6,252.6 L178.0,251.5 L178.4,250.4 L178.8,250.3 L179.2,249.6 L179.6,252.1 L180.0,254.0 L180.4,249.0 L180.8,250.9 L181.2,250.9 L181.6,249.1 L182.0,250.5 L182.4,249.1 L182.8,252.1 L183.2,250.3 L183.6,251.6 L184.0,252.7 L184.4,251.6 L184.8,250.2 L185.2,251.9 L185.6,253.5 L186.0,252.4 L186.4,252.7 L186.8,250.9 L187.2,252.1 L187.6,252.7 L188.0,251.8 L188.4,254.1 L188.8,251.6 L189.2,250.8 L189.6,250.3 L190.0,253.7 L190.4,252.3 L190.8,253.6 L191.2,252.9 L191.6,254.3 L192.0,253.7 L192.4,251.6 L192.8,252.1 L193.2,252.8 L193.6,249.6 L194.0,252.4 L194.4,251.8 L194.8,251.1 L195.2,249.3 L195.6,249.6 L196.0,247.5 L196.4,248.5 L196.8,247.2 L197.2,247.4 L197.6,246.2 L198.0,246.6 L198.4,247.2 L198.8,243.8 L199.2,246.0 L199.6,241.9 L200.0,241.0 L200.4,242.6 L200.8,241.3 L201.2,239.6 L201.6,232.8 L202.0,226.6 L202.4,212.7 L202.8,193.3 L203.2,168.6 L203.6,158.0 L204.0,167.7 L204.4,191.9 L204.8,212.6 L205.2,228.5 L205.6,235.0 L206.0,239.9 L206.4,244.3 L206.8,247.4 L207.2,246.7 L207.6,247.3 L208.0,247.0 L208.4,249.0 L208.8,248.7 L209.2,250.4 L209.6,249.0 L210.0,247.8 L210.4,248.5 L210.8,248.3 L211.2,248.2 L211.6,251.4 L212.0,251.1 L212.4,248.7 L212.8,252.4 L213.2,250.5 L213.6,249.0 L214.0,250.4 L214.4,249.7 L214.8,248.7 L215.2,247.1 L215.6,249.5 L216.0,249.7 L216.4,246.2 L216.8,249.6 L217.2,248.9 L217.6,246.0 L218.0,243.8 L218.4,238.7 L218.8,231.8 L219.2,225.9 L219.6,224.9 L220.0,224.3 L220.4,232.5 L220.8,238.5 L221.2,242.0 L221.6,245.3 L222.0,246.0 L222.4,247.9 L222.8,249.7 L223.2,250.7 L223.6,249.7 L224.0,254.7 L224.4,250.6 L224.8,251.6 L225.2,251.2 L225.6,251.0 L226.0,253.0 L226.4,250.9 L226.8,253.1 L227.2,252.9 L227.6,250.4 L228.0,253.0 L228.4,251.1 L228.8,255.3 L229.2,251.6 L229.6,251.0 L230.0,249.9 L230.4,250.7 L230.8,251.5 L231.2,250.9 L231.6,250.4 L232.0,250.8 L232.4,251.0 L232.8,252.7 L233.2,248.6 L233.6,249.8 L234.0,249.3 L234.4,248.8 L234.8,249.3 L235.2,249.9 L235.6,252.0 L236.0,250.9 L236.4,250.4 L236.8,251.7 L237.2,251.1 L237.6,250.4 L238.0,251.1 L238.4,249.7 L238.8,251.5 L239.2,251.5 L239.6,250.6 L240.0,249.7 L240.4,253.1 L240.8,251.3 L241.2,254.8 L241.6,250.2 L242.0,252.0 L242.4,250.3 L242.8,251.1 L243.2,251.8 L243.6,249.9 L244.0,250.7 L244.4,250.9 L244.8,250.8 L245.2,251.3 L245.6,251.8 L246.0,251.7 L246.4,251.1 L246.8,250.4 L247.2,249.5 L247.6,249.9 L248.0,249.9 L248.4,250.9 L248.8,249.2 L249.2,247.6 L249.6,249.3 L250.0,247.0 L250.4,246.5 L250.8,246.7 L251.2,247.2 L251.6,243.4 L252.0,244.7 L252.4,246.1 L252.8,245.3 L253.2,244.5 L253.6,244.6 L254.0,246.6 L254.4,244.0 L254.8,245.0 L255.2,244.6 L255.6,242.7 L256.0,243.4 L256.4,242.0 L256.8,241.5 L257.2,240.6 L257.6,242.7 L258.0,241.0 L258.4,240.6 L258.8,239.8 L259.2,243.2 L259.6,241.7 L260.0,240.4 L260.4,239.3 L260.8,237.6 L261.2,238.5 L261.6,236.3 L262.0,230.4 L262.4,227.3 L262.8,218.0 L263.2,204.7 L263.6,194.2 L264.0,188.9 L264.4,193.0 L264.8,200.8 L265.2,205.8 L265.6,211.4 L266.0,205.4 L266.4,195.1 L266.8,178.5 L267.2,159.3 L267.6,150.1 L268.0,155.3 L268.4,172.1 L268.8,191.1 L269.2,208.4 L269.6,222.6 L270.0,230.7 L270.4,236.8 L270.8,238.7 L271.2,243.7 L271.6,244.1 L272.0,246.0 L272.4,247.6 L272.8,248.8 L273.2,251.2 L273.6,249.5 L274.0,247.8 L274.4,249.8 L274.8,249.0 L275.2,250.3 L275.6,249.1 L276.0,249.3 L276.4,249.8 L276.8,250.1 L277.2,249.1 L277.6,250.9 L278.0,252.2 L278.4,254.0 L278.8,252.5 L279.2,252.6 L279.6,253.8 L280.0,253.7 L280.4,254.9 L280.8,253.6 L281.2,252.9 L281.6,254.7 L282.0,255.0 L282.4,252.8 L282.8,253.7 L283.2,251.6 L283.6,253.3 L284.0,252.7 L284.4,253.5 L284.8,253.2 L285.2,253.5 L285.6,253.5 L286.0,254.1 L286.4,253.8 L286.8,252.8 L287.2,252.0 L287.6,255.1 L288.0,255.4 L288.4,253.2 L288.8,254.5 L289.2,252.0 L289.6,252.0 L290.0,253.7 L290.4,255.9 L290.8,252.9 L291.2,253.2 L291.6,256.2 L292.0,252.0 L292.4,255.1 L292.8,254.9 L293.2,254.0 L293.6,254.5 L294.0,257.4 L294.4,252.9 L294.8,253.9 L295.2,253.9 L295.6,253.3 L296.0,252.4 L296.4,255.8 L296.8,254.0 L297.2,251.5 L297.6,252.7 L298.0,254.0 L298.4,254.1 L298.8,252.0 L299.2,253.7 L299.6,254.2 L300.0,254.4 L300.4,254.3 L300.8,251.6 L301.2,255.9 L301.6,253.8 L302.0,255.7 L302.4,256.9 L302.8,253.2 L303.2,251.8 L303.6,254.4 L304.0,253.2 L304.4,252.9 L304.8,252.4 L305.2,255.7 L305.6,253.3 L306.0,252.1 L306.4,253.3 L306.8,252.3 L307.2,253.7 L307.6,252.8 L308.0,251.7 L308.4,253.3 L308.8,251.4 L309.2,252.5 L309.6,252.5 L310.0,249.6 L310.4,247.6 L310.8,245.9 L311.2,242.3 L311.6,235.3 L312.0,228.7 L312.4,223.5 L312.8,224.0 L313.2,229.6 L313.6,234.9 L314.0,241.3 L314.4,246.3 L314.8,248.2 L315.2,250.6 L315.6,251.7 L316.0,251.5 L316.4,251.1 L316.8,251.3 L317.2,254.8 L317.6,254.2 L318.0,252.1 L318.4,252.8 L318.8,256.2 L319.2,255.8 L319.6,254.2 L320.0,255.3 L320.4,252.1 L320.8,253.8 L321.2,254.6 L321.6,251.3 L322.0,252.4 L322.4,254.0 L322.8,254.1 L323.2,251.5 L323.6,251.9 L324.0,252.2 L324.4,247.7 L324.8,243.3 L325.2,240.6 L325.6,236.4 L326.0,237.2 L326.4,238.4 L326.8,241.2 L327.2,248.7 L327.6,247.9 L328.0,250.8 L328.4,252.0 L328.8,252.8 L329.2,252.6 L329.6,253.4 L330.0,252.9 L330.4,251.5 L330.8,253.2 L331.2,253.3 L331.6,253.5 L332.0,253.8 L332.4,252.8 L332.8,254.9 L333.2,254.8 L333.6,249.6 L334.0,251.4 L334.4,249.6 L334.8,246.7 L335.2,250.4 L335.6,249.8 L336.0,250.9 L336.4,251.3 L336.8,253.9 L337.2,254.5 L337.6,253.7 L338.0,254.4 L338.4,253.7 L338.8,254.1 L339.2,253.1 L339.6,254.0 L340.0,252.9 L340.4,254.0 L340.8,254.2 L341.2,253.2 L341.6,253.8 L342.0,255.1 L342.4,248.9 L342.8,250.7 L343.2,249.0 L343.6,247.6 L344.0,244.1 L344.4,243.1 L344.8,241.0 L345.2,241.3 L345.6,244.5 L346.0,247.0 L346.4,247.2 L346.8,252.8 L347.2,252.2 L347.6,252.1 L348.0,254.0 L348.4,253.2 L348.8,251.6 L349.2,255.4 L349.6,252.4 L350.0,254.3 L350.4,254.8 L350.8,256.4 L351.2,256.4 L351.6,255.3 L352.0,254.3 L352.4,254.7 L352.8,256.5 L353.2,257.1 L353.6,255.5 L354.0,253.8 L354.4,255.7 L354.8,253.9 L355.2,253.8 L355.6,253.8 L356.0,254.8 L356.4,254.4 L356.8,255.2 L357.2,255.6 L357.6,254.7 L358.0,251.2 L358.4,252.0 L358.8,254.2 L359.2,254.0 L359.6,256.6 L360.0,253.9 L360.4,253.7 L360.8,254.9 L361.2,255.0 L361.6,253.3 L362.0,254.1 L362.4,252.2 L362.8,252.4 L363.2,255.1 L363.6,252.0 L364.0,254.9 L364.4,254.7 L364.8,254.9 L365.2,255.0 L365.6,254.4 L366.0,251.0 L366.4,252.3 L366.8,252.8 L367.2,254.7 L367.6,252.3 L368.0,252.9 L368.4,253.5 L368.8,255.6 L369.2,252.4 L369.6,252.6 L370.0,255.0 L370.4,251.8 L370.8,254.8 L371.2,254.0 L371.6,252.7 L372.0,254.3 L372.4,253.7 L372.8,255.3 L373.2,255.5 L373.6,256.8 L374.0,254.8 L374.4,254.7 L374.8,253.6 L375.2,254.1 L375.6,255.4 L376.0,251.8 L376.4,255.0 L376.8,253.6 L377.2,254.4 L377.6,254.7 L378.0,255.3 L378.4,254.5 L378.8,253.6 L379.2,254.4 L379.6,253.8 L380.0,253.4 L380.4,253.8 L380.8,254.5 L381.2,253.7 L381.6,253.8 L382.0,252.2 L382.4,253.8 L382.8,252.0 L383.2,255.2 L383.6,253.3 L384.0,256.0 L384.4,258.0 L384.8,253.9 L385.2,255.9 L385.6,254.8 L386.0,253.7 L386.4,253.4 L386.8,255.1 L387.2,256.1 L387.6,254.8 L388.0,252.4 L388.4,252.9 L388.8,253.8 L389.2,255.6 L389.6,254.1 L390.0,254.1 L390.4,255.1 L390.8,253.4 L391.2,253.7 L391.6,253.8 L392.0,252.1 L392.4,255.0 L392.8,255.1 L393.2,255.8 L393.6,253.3 L394.0,253.7 L394.4,255.8 L394.8,255.0 L395.2,256.2 L395.6,253.3 L396.0,254.5 L396.4,253.3 L396.8,254.4 L397.2,253.5 L397.6,254.9 L398.0,255.7 L398.4,255.4 L398.8,252.6 L399.2,256.0 L399.6,255.4 L400.0,253.5 L400.4,253.5 L400.8,254.3 L401.2,254.7 L401.6,253.1 L402.0,251.3 L402.4,253.4 L402.8,253.1 L403.2,255.8 L403.6,251.5 L404.0,256.2 L404.4,255.6 L404.8,254.1 L405.2,256.0 L405.6,254.3 L406.0,255.3 L406.4,253.2 L406.8,254.1 L407.2,252.7 L407.6,252.0 L408.0,253.5 L408.4,253.1 L408.8,254.6 L409.2,255.5 L409.6,253.8 L410.0,254.2 L410.4,254.4 L410.8,252.1 L411.2,254.3 L411.6,253.7 L412.0,253.2 L412.4,251.3 L412.8,249.4 L413.2,250.3 L413.6,249.4 L414.0,249.0 L414.4,247.1 L414.8,246.5 L415.2,245.6 L415.6,247.9 L416.0,247.9 L416.4,250.4 L416.8,251.9 L417.2,254.8 L417.6,252.4 L418.0,250.9 L418.4,254.3 L418.8,251.8 L419.2,252.6 L419.6,252.3 L420.0,251.4 L420.4,254.0 L420.8,252.9 L421.2,251.3 L421.6,251.7 L422.0,250.5 L422.4,250.9 L422.8,248.6 L423.2,247.2 L423.6,247.0 L424.0,247.9 L424.4,249.8 L424.8,249.4 L425.2,251.3 L425.6,252.6 L426.0,255.2 L426.4,253.6 L426.8,249.1 L427.2,252.1 L427.6,252.2 L428.0,253.0 L428.4,254.4 L428.8,253.4 L429.2,249.7 L429.6,252.9 L430.0,252.8 L430.4,253.3 L430.8,254.5 L431.2,251.6 L431.6,254.1 L432.0,250.5 L432.4,252.1 L432.8,252.0 L433.2,253.7 L433.6,249.4 L434.0,247.5 L434.4,249.4 L434.8,246.7 L435.2,247.6 L435.6,242.2 L436.0,237.5 L436.4,232.3 L436.8,218.6 L437.2,202.4 L437.6,178.9 L438.0,164.7 L438.4,157.4 L438.8,171.1 L439.2,188.9 L439.6,207.4 L440.0,223.7 L440.4,234.0 L440.8,241.8 L441.2,243.9 L441.6,246.5 L442.0,247.9 L442.4,252.0 L442.8,248.2 L443.2,251.4 L443.6,250.4 L444.0,251.4 L444.4,250.8 L444.8,253.1 L445.2,250.3 L445.6,250.3 L446.0,251.6 L446.4,250.5 L446.8,252.7 L447.2,252.9 L447.6,250.9 L448.0,252.7 L448.4,250.9 L448.8,251.6 L449.2,251.6 L449.6,253.9 L450.0,251.7 L450.4,250.7 L450.8,250.8 L451.2,253.5 L451.6,250.1 L452.0,251.6 L452.4,251.8 L452.8,249.4 L453.2,251.8 L453.6,253.5 L454.0,252.6 L454.4,251.0 L454.8,252.5 L455.2,251.7 L455.6,252.7 L456.0,248.5 L456.4,248.3 L456.8,248.9 L457.2,249.3 L457.6,250.3 L458.0,250.7 L458.4,250.5 L458.8,249.7 L459.2,251.3 L459.6,250.6 L460.0,251.3 L460.4,252.2 L460.8,253.6 L461.2,254.2 L461.6,252.1 L462.0,253.7 L462.4,254.3 L462.8,253.2 L463.2,251.2 L463.6,250.5 L464.0,254.1 L464.4,254.3 L464.8,253.8 L465.2,252.4 L465.6,255.6 L466.0,255.4 L466.4,254.0 L466.8,253.9 L467.2,251.8 L467.6,255.0 L468.0,252.1 L468.4,254.7 L468.8,254.5 L469.2,253.5 L469.6,254.9 L470.0,252.3 L470.4,253.0 L470.8,253.0 L471.2,252.1 L471.6,251.2 L472.0,253.1 L472.4,252.0 L472.8,251.1 L473.2,250.6 L473.6,250.1 L474.0,251.4 L474.4,246.9 L474.8,244.7 L475.2,242.9 L475.6,243.5 L476.0,244.5 L476.4,248.9 L476.8,250.1 L477.2,249.7 L477.6,249.7 L478.0,251.3 L478.4,251.1 L478.8,250.1 L479.2,252.1 L479.6,251.9 L480.0,251.7 L480.4,252.7 L480.8,251.0 L481.2,253.5 L481.6,250.8 L482.0,252.8 L482.4,253.1 L482.8,252.2 L483.2,253.2 L483.6,251.4 L484.0,251.4 L484.4,253.1 L484.8,252.5 L485.2,254.1 L485.6,253.5 L486.0,254.2 L486.4,253.8 L486.8,253.7 L487.2,253.6 L487.6,253.0 L488.0,252.6 L488.4,255.1 L488.8,249.8 L489.2,250.8 L489.6,251.3 L490.0,250.1 L490.4,251.7 L490.8,251.5 L491.2,250.3 L491.6,252.3 L492.0,251.8 L492.4,255.1 L492.8,255.9 L493.2,253.6 L493.6,254.5 L494.0,253.0 L494.4,251.4 L494.8,252.4 L495.2,250.9 L495.6,252.3 L496.0,253.5 L496.4,254.5 L496.8,255.5 L497.2,253.7 L497.6,254.5 L498.0,254.5 L498.4,254.3 L498.8,249.7 L499.2,251.7 L499.6,253.1 L500.0,250.4 L500.4,251.8 L500.8,252.4 L501.2,249.3 L501.6,251.5 L502.0,252.2 L502.4,252.2 L502.8,250.5 L503.2,252.8 L503.6,251.6 L504.0,253.1 L504.4,252.3 L504.8,250.8 L505.2,251.2 L505.6,249.6 L506.0,248.9 L506.4,246.8 L506.8,246.9 L507.2,246.3 L507.6,243.3 L508.0,241.3 L508.4,240.1 L508.8,241.5 L509.2,245.0 L509.6,244.3 L510.0,249.8 L510.4,247.9 L510.8,250.3 L511.2,248.2 L511.6,244.6 L512.0,244.1 L512.4,242.2 L512.8,242.6 L513.2,244.9 L513.6,245.6 L514.0,247.7 L514.4,249.6 L514.8,249.5 L515.2,251.6 L515.6,252.7 L516.0,253.1 L516.4,253.3 L516.8,252.8 L517.2,254.3 L517.6,251.0 L518.0,253.1 L518.4,253.2 L518.8,254.5 L519.2,254.1 L519.6,253.9 L520.0,252.7 L520.4,253.5 L520.8,250.8 L521.2,251.9 L521.6,249.1 L522.0,253.7 L522.4,253.6 L522.8,251.0 L523.2,250.8 L523.6,249.5 L524.0,250.3 L524.4,252.4 L524.8,252.2 L525.2,250.7 L525.6,252.0 L526.0,252.0 L526.4,253.7 L526.8,254.3 L527.2,253.5 L527.6,254.2 L528.0,254.2 L528.4,251.8 L528.8,254.5 L529.2,254.0 L529.6,254.7 L530.0,251.3 L530.4,254.2 L530.8,252.4 L531.2,253.5 L531.6,254.6 L532.0,251.5 L532.4,251.6 L532.8,254.3 L533.2,251.6 L533.6,251.7 L534.0,253.4 L534.4,252.3 L534.8,253.4 L535.2,252.9 L535.6,252.5 L536.0,253.7 L536.4,255.0 L536.8,252.2 L537.2,254.0 L537.6,253.5 L538.0,252.3 L538.4,252.8 L538.8,251.3 L539.2,251.9 L539.6,253.2 L540.0,253.1 L540.4,254.9 L540.8,251.9 L541.2,253.2 L541.6,252.7 L542.0,253.1 L542.4,254.4 L542.8,251.3 L543.2,253.6 L543.6,251.6 L544.0,251.8 L544.4,253.1 L544.8,251.3 L545.2,252.1 L545.6,250.8 L546.0,249.9 L546.4,249.1 L546.8,247.1 L547.2,248.4 L547.6,250.0 L548.0,250.7 L548.4,249.4 L548.8,253.0 L549.2,253.0 L549.6,251.0 L550.0,251.5 L550.4,253.5 L550.8,250.9 L551.2,252.1 L551.6,252.9 L552.0,252.7 L552.4,252.7 L552.8,253.2 L553.2,251.7 L553.6,252.0 L554.0,255.0 L554.4,250.8 L554.8,251.8 L555.2,252.2 L555.6,250.9 L556.0,252.5 L556.4,250.2 L556.8,250.0 L557.2,245.3 L557.6,249.7 L558.0,250.2 L558.4,248.8 L558.8,252.2 L559.2,251.7 L559.6,253.1 L560.0,254.7 L560.4,253.0 L560.8,252.1 L561.2,253.6 L561.6,252.4 L562.0,253.1 L562.4,253.3 L562.8,253.4 L563.2,255.8 L563.6,255.5 L564.0,253.5 L564.4,256.0 L564.8,252.7 L565.2,253.9 L565.6,254.4 L566.0,255.8 L566.4,255.1 L566.8,254.6 L567.2,255.5 L567.6,254.8 L568.0,255.7 L568.4,253.3 L568.8,252.5 L569.2,254.2 L569.6,255.8 L570.0,255.1 L570.4,255.8 L570.8,255.4 L571.2,254.9 L571.6,255.0 L572.0,253.0 L572.4,255.0 L572.8,252.3 L573.2,253.2 L573.6,251.6 L574.0,253.8 L574.4,251.4 L574.8,255.1 L575.2,252.0 L575.6,254.2 L576.0,254.0 L576.4,253.4 L576.8,256.1 L577.2,254.2 L577.6,256.5 L578.0,253.4 L578.4,253.5 L578.8,251.9 L579.2,254.8 L579.6,255.1 L580.0,254.1 L580.4,253.6 L580.8,252.7 L581.2,256.8 L581.6,255.1 L582.0,252.2 L582.4,254.2 L582.8,251.6 L583.2,256.6 L583.6,257.0 L584.0,256.2 L584.4,254.3 L584.8,253.5 L585.2,252.4 L585.6,254.6 L586.0,253.0 L586.4,253.3 L586.8,252.8 L587.2,253.0 L587.6,254.2 L588.0,254.9 L588.4,252.9 L588.8,252.7 L589.2,251.2 L589.6,251.1 L590.0,251.4 L590.4,253.8 L590.8,253.3 L591.2,254.4 L591.6,254.1 L592.0,253.5 L592.4,252.8 L592.8,254.0 L593.2,252.8 L593.6,256.7 L594.0,254.4 L594.4,253.2 L594.8,255.7 L595.2,252.5 L595.6,253.5 L596.0,252.7 L596.4,253.5 L596.8,252.9 L597.2,254.3 L597.6,255.7 L598.0,252.7 L598.4,251.7 L598.8,256.1 L599.2,254.6 L599.6,255.5 L600.0,254.0 L600.4,256.2 L600.8,256.5 L601.2,252.9 L601.6,255.0 L602.0,253.4 L602.4,252.2 L602.8,253.8 L603.2,254.9 L603.6,252.7 L604.0,253.0 L604.4,256.2 L604.8,254.8 L605.2,255.3 L605.6,253.4 L606.0,253.9 L606.4,254.8 L606.8,254.8 L607.2,254.7 L607.6,256.4 L608.0,254.6 L608.4,252.5 L608.8,253.2 L609.2,254.1 L609.6,255.4 L610.0,252.7 L610.4,252.7 L610.8,252.7 L611.2,251.4 L611.6,251.0 L612.0,251.7 L612.4,253.5 L612.8,253.4 L613.2,253.0 L613.6,254.3 L614.0,252.4 L614.4,255.3 L614.8,255.0 L615.2,254.5 L615.6,252.2 L616.0,256.6 L616.4,250.6 L616.8,253.0 L617.2,253.1 L617.6,255.1 L618.0,252.4 L618.4,254.5 L618.8,253.9 L619.2,253.7 L619.6,255.0 L620.0,255.5 L620.4,254.1 L620.8,253.0 L621.2,250.2 L621.6,254.2 L622.0,251.4 L622.4,248.8 L622.8,250.8 L623.2,252.4 L623.6,251.1 L624.0,250.6 L624.4,255.4 L624.8,253.8 L625.2,253.8 L625.6,254.8 L626.0,251.1 L626.4,253.7 L626.8,253.7 L627.2,256.7 L627.6,253.4 L628.0,253.5 L628.4,252.6 L628.8,253.4 L629.2,254.3 L629.6,254.8 L630.0,254.3 L630.4,256.9 L630.8,255.0 L631.2,255.1 L631.6,256.0 L632.0,255.1 L632.4,253.8 L632.8,252.6 L633.2,255.0 L633.6,253.4 L634.0,255.9 L634.4,253.2 L634.8,251.3 L635.2,254.0 L635.6,255.5 L636.0,254.1 L636.4,254.9 L636.8,255.0 L637.2,257.0 L637.6,255.2 L638.0,254.7 L638.4,254.0 L638.8,252.6 L639.2,256.3 L639.6,256.0 L640.0,253.5 L640.4,255.4 L640.8,255.1 L641.2,254.3 L641.6,254.4 L642.0,255.6 L642.4,253.1 L642.8,253.8 L643.2,254.1 L643.6,254.0 L644.0,253.7 L644.4,254.2 L644.8,254.7 L645.2,253.1 L645.6,254.4 L646.0,253.8 L646.4,256.4 L646.8,253.0 L647.2,254.5 L647.6,255.8 L648.0,254.7 L648.4,254.7 L648.8,254.4 L649.2,255.3 L649.6,253.3 L650.0,254.4 L650.4,254.2 L650.8,252.3 L651.2,254.3 L651.6,253.3 L652.0,254.3 L652.4,255.0 L652.8,254.5 L653.2,252.7 L653.6,254.6 L654.0,252.2 L654.4,253.2 L654.8,255.9 L655.2,253.6 L655.6,255.1 L656.0,252.6 L656.4,252.5 L656.8,250.9 L657.2,253.4 L657.6,252.2 L658.0,253.5 L658.4,253.7 L658.8,254.2 L659.2,254.4 L659.6,254.4 L660.0,254.8 L660.4,254.2 L660.8,252.6 L661.2,255.9 L661.6,257.8 L662.0,256.5 L662.4,257.9 L662.8,255.6 L663.2,253.7 L663.6,253.6 L664.0,255.6 L664.4,255.0 L664.8,254.4 L665.2,255.5 L665.6,253.6 L666.0,255.4 L666.4,254.6 L666.8,255.3 L667.2,256.7 L667.6,255.1 L668.0,256.9 L668.4,256.8 L668.8,254.3 L669.2,258.0 L669.6,253.7 L670.0,255.1 L670.4,256.0 L670.8,252.3 L671.2,256.2 L671.6,256.2 L672.0,254.6 L672.4,254.9 L672.8,254.7 L673.2,254.1 L673.6,255.6 L674.0,253.9 L674.4,254.5 L674.8,255.3 L675.2,256.2 L675.6,256.9 L676.0,254.2 L676.4,253.8 L676.8,256.2 L677.2,256.3 L677.6,254.9 L678.0,256.3 L678.4,256.3 L678.8,255.7 L679.2,256.9 L679.6,253.5 L680.0,254.6 L680.4,256.8 L680.8,255.3 L681.2,253.1 L681.6,254.8 L682.0,256.2 L682.4,257.5 L682.8,256.0 L683.2,256.7 L683.6,254.0 L684.0,254.9 L684.4,256.6 L684.8,253.8 L685.2,254.9 L685.6,252.6 L686.0,256.7 L686.4,254.9 L686.8,255.9 L687.2,253.4 L687.6,253.7 L688.0,257.6 L688.4,254.9 L688.8,254.5 L689.2,255.6 L689.6,255.5 L690.0,252.2 L690.4,253.3 L690.8,254.4 L691.2,254.3 L691.6,254.7 L692.0,253.8 L692.4,254.1 L692.8,254.7 L693.2,253.7 L693.6,253.5 L694.0,253.9 L694.4,254.6 L694.8,254.4 L695.2,254.0 L695.6,254.3 L696.0,254.7 L696.4,255.3 L696.8,255.7 L697.2,254.0 L697.6,257.0 L698.0,254.1 L698.4,256.8 L698.8,255.1 L699.2,256.4 L699.6,256.8 L700.0,253.0 L700.4,255.8 L700.8,255.4 L701.2,254.5 L701.6,255.5 L702.0,254.4 L702.4,255.1 L702.8,253.7 L703.2,256.0 L703.6,255.9 L704.0,256.2 L704.4,254.6 L704.8,257.6 L705.2,257.6 L705.6,255.0 L706.0,254.4 L706.4,254.4 L706.8,255.8 L707.2,256.3 L707.6,254.4 L708.0,253.0 L708.4,256.1 L708.8,255.6 L709.2,255.8 L709.6,256.2 L710.0,254.1 L710.4,255.3 L710.8,254.7 L711.2,255.4 L711.6,256.3 L712.0,254.9 L712.4,254.0 L712.8,256.7 L713.2,256.3 L713.6,255.4 L714.0,253.5 L714.4,254.6 L714.8,255.6 L715.2,255.9 L715.6,254.4 L716.0,255.3 L716.4,253.9 L716.8,254.1 L717.2,255.2 L717.6,254.2 L718.0,254.7 L718.4,255.6 L718.8,256.0 L719.2,254.0 L719.6,254.5 L720.0,253.2 L720.4,253.3 L720.8,255.2 L721.2,254.1 L721.6,252.3 L722.0,255.0 L722.4,253.1 L722.8,253.5 L723.2,254.3 L723.6,254.3 L724.0,253.9 L724.4,251.8 L724.8,255.2 L725.2,254.1 L725.6,253.5 L726.0,252.7 L726.4,257.1 L726.8,255.6 L727.2,255.5 L727.6,256.1 L728.0,255.2 L728.4,253.5 L728.8,256.1 L729.2,256.6 L729.6,256.0 L730.0,257.3 L730.4,257.7 L730.8,254.3 L731.2,254.6 L731.6,255.9 L732.0,254.9 L732.4,254.7 L732.8,255.4 L733.2,255.1 L733.6,253.7 L734.0,254.5 L734.4,253.7 L734.8,254.5 L735.2,253.6 L735.6,252.7 L736.0,254.5 L736.4,254.4 L736.8,256.2 L737.2,257.0 L737.6,255.1 L738.0,255.6 L738.4,254.4 L738.8,254.1 L739.2,255.0 L739.6,255.1 L740.0,255.9 L740.4,255.6 L740.8,257.4 L741.2,254.9 L741.6,252.8 L742.0,254.7 L742.4,253.4 L742.8,254.2 L743.2,255.1 L743.6,252.7 L744.0,252.8 L744.4,252.7 L744.8,249.6 L745.2,249.2 L745.6,247.2 L746.0,244.6 L746.4,241.7 L746.8,237.9 L747.2,235.7 L747.6,233.5 L748.0,234.0 L748.4,239.2 L748.8,245.4 L749.2,246.8 L749.6,246.5 L750.0,250.5 L750.4,252.8 L750.8,251.0 L751.2,254.4 L751.6,252.6 L752.0,255.4 L752.4,254.3 L752.8,258.1 L753.2,253.0 L753.6,255.2 L754.0,253.4 L754.4,256.8 L754.8,255.8 L755.2,256.8 L755.6,255.9 L756.0,254.3 L756.4,254.8 L756.8,254.0 L757.2,254.1 L757.6,255.3 L758.0,256.3 L758.4,256.0 L758.8,255.5 L759.2,254.1 L759.6,255.3 L760.0,253.6 L760.4,254.9 L760.8,255.7 L761.2,254.5 L761.6,254.3 L762.0,254.4 L762.4,255.7 L762.8,254.5 L763.2,253.1 L763.6,254.3 L764.0,253.5 L764.4,256.5 L764.8,254.8 L765.2,253.1 L765.6,255.2 L766.0,255.9 L766.4,255.6 L766.8,254.9 L767.2,255.7 L767.6,256.0 L768.0,257.0 L768.4,256.4 L768.8,258.8 L769.2,255.9 L769.6,258.0 L770.0,256.2 L770.4,254.2 L770.8,254.9 L771.2,254.2 L771.6,254.3 L772.0,257.8 L772.4,255.4 L772.8,256.8 L773.2,254.8 L773.6,255.7 L774.0,254.3 L774.4,256.4 L774.8,254.9 L775.2,254.6 L775.6,254.9 L776.0,257.7 L776.4,255.7 L776.8,256.3 L777.2,254.0 L777.6,254.9 L778.0,256.2 L778.4,253.7 L778.8,257.5 L779.2,256.1 L779.6,255.6 L780.0,255.3 L780.4,255.1 L780.8,254.8 L781.2,257.1 L781.6,256.3 L782.0,257.1 L782.4,255.4 L782.8,254.8 L783.2,257.5 L783.6,254.4 L784.0,255.2 L784.4,256.8 L784.8,257.2 L785.2,254.3 L785.6,255.6 L786.0,255.9 L786.4,255.8 L786.8,255.0 L787.2,256.8 L787.6,255.3 L788.0,255.5 L788.4,252.8 L788.8,255.0 L789.2,252.5 L789.6,255.3 L790.0,254.9 L790.4,253.6 L790.8,254.6 L791.2,254.8 L791.6,254.9 L792.0,255.9 L792.4,255.7 L792.8,255.6 L793.2,255.4 L793.6,258.5 L794.0,256.8 L794.4,256.5 L794.8,257.3 L795.2,255.8 L795.6,255.5 L796.0,256.6 L796.4,256.8 L796.8,256.3 L797.2,253.7 L797.6,255.5 L798.0,255.4 L798.4,255.9 L798.8,254.3 L799.2,254.1 L799.6,255.2 L800.0,254.4"/>
<path stroke="#1B66E0" d="M52.4,280.7 L52.8,275.5 L53.2,294.7 L53.6,297.3 L54.0,302.8 L54.4,307.7 L54.8,305.8 L55.2,312.8 L55.6,311.9 L56.0,326.2 L56.4,317.9 L56.8,317.8 L57.2,319.9 L57.6,320.7 L58.0,321.6 L58.4,325.5 L58.8,329.6 L59.2,328.8 L59.6,333.1 L60.0,330.9 L60.4,332.5 L60.8,337.5 L61.2,336.0 L61.6,334.5 L62.0,336.5 L62.4,339.5 L62.8,344.0 L63.2,339.3 L63.6,339.8 L64.0,343.3 L64.4,339.3 L64.8,341.3 L65.2,344.5 L65.6,344.3 L66.0,343.7 L66.4,345.5 L66.8,338.3 L67.2,347.3 L67.6,343.5 L68.0,342.4 L68.4,346.8 L68.8,347.6 L69.2,344.9 L69.6,343.1 L70.0,344.9 L70.4,344.4 L70.8,347.2 L71.2,346.0 L71.6,345.3 L72.0,347.6 L72.4,345.7 L72.8,345.0 L73.2,348.5 L73.6,348.9 L74.0,347.7 L74.4,346.7 L74.8,348.4 L75.2,343.2 L75.6,348.7 L76.0,348.2 L76.4,344.3 L76.8,347.5 L77.2,345.9 L77.6,349.2 L78.0,344.5 L78.4,346.7 L78.8,349.6 L79.2,350.5 L79.6,345.0 L80.0,348.1 L80.4,349.9 L80.8,348.8 L81.2,353.1 L81.6,348.9 L82.0,352.1 L82.4,350.2 L82.8,354.7 L83.2,352.7 L83.6,352.4 L84.0,350.3 L84.4,355.8 L84.8,354.2 L85.2,354.0 L85.6,354.4 L86.0,352.9 L86.4,351.1 L86.8,350.8 L87.2,350.7 L87.6,354.2 L88.0,349.9 L88.4,351.5 L88.8,352.2 L89.2,353.4 L89.6,354.4 L90.0,351.9 L90.4,351.4 L90.8,354.1 L91.2,355.9 L91.6,354.9 L92.0,353.8 L92.4,352.6 L92.8,353.3 L93.2,352.3 L93.6,353.9 L94.0,351.4 L94.4,352.8 L94.8,352.4 L95.2,353.4 L95.6,352.9 L96.0,356.4 L96.4,354.9 L96.8,355.1 L97.2,350.0 L97.6,352.8 L98.0,352.7 L98.4,354.5 L98.8,350.4 L99.2,355.6 L99.6,355.4 L100.0,351.9 L100.4,352.4 L100.8,352.6 L101.2,353.9 L101.6,354.7 L102.0,356.7 L102.4,353.3 L102.8,354.6 L103.2,353.6 L103.6,355.9 L104.0,354.4 L104.4,355.3 L104.8,351.8 L105.2,353.2 L105.6,352.5 L106.0,356.0 L106.4,355.0 L106.8,353.8 L107.2,353.8 L107.6,355.4 L108.0,353.9 L108.4,353.7 L108.8,355.7 L109.2,358.5 L109.6,354.5 L110.0,353.8 L110.4,352.7 L110.8,352.1 L111.2,354.6 L111.6,354.9 L112.0,353.7 L112.4,354.3 L112.8,354.3 L113.2,354.7 L113.6,352.7 L114.0,354.5 L114.4,355.6 L114.8,354.5 L115.2,354.9 L115.6,354.4 L116.0,355.0 L116.4,356.6 L116.8,354.7 L117.2,355.1 L117.6,356.6 L118.0,356.6 L118.4,358.5 L118.8,353.6 L119.2,358.3 L119.6,356.7 L120.0,357.8 L120.4,358.9 L120.8,359.3 L121.2,359.1 L121.6,357.7 L122.0,359.7 L122.4,356.9 L122.8,356.9 L123.2,358.2 L123.6,356.3 L124.0,360.2 L124.4,358.7 L124.8,360.4 L125.2,357.3 L125.6,356.7 L126.0,357.4 L126.4,358.0 L126.8,355.9 L127.2,357.2 L127.6,356.5 L128.0,358.8 L128.4,355.6 L128.8,358.0 L129.2,355.7 L129.6,355.2 L130.0,355.5 L130.4,354.9 L130.8,356.7 L131.2,358.0 L131.6,356.8 L132.0,357.5 L132.4,359.0 L132.8,357.2 L133.2,357.2 L133.6,356.6 L134.0,354.7 L134.4,358.0 L134.8,354.4 L135.2,357.6 L135.6,356.5 L136.0,357.9 L136.4,355.9 L136.8,354.7 L137.2,356.3 L137.6,355.1 L138.0,356.0 L138.4,356.9 L138.8,357.3 L139.2,357.9 L139.6,357.7 L140.0,359.1 L140.4,356.6 L140.8,359.4 L141.2,357.8 L141.6,360.7 L142.0,360.4 L142.4,355.4 L142.8,357.9 L143.2,357.2 L143.6,355.8 L144.0,358.0 L144.4,356.7 L144.8,355.1 L145.2,357.3 L145.6,357.6 L146.0,357.9 L146.4,356.1 L146.8,358.7 L147.2,358.9 L147.6,356.4 L148.0,357.2 L148.4,358.2 L148.8,357.7 L149.2,361.1 L149.6,359.1 L150.0,357.5 L150.4,358.0 L150.8,359.1 L151.2,362.6 L151.6,359.2 L152.0,359.6 L152.4,360.1 L152.8,359.2 L153.2,362.2 L153.6,357.9 L154.0,359.0 L154.4,357.0 L154.8,355.5 L155.2,349.1 L155.6,346.9 L156.0,335.5 L156.4,326.0 L156.8,318.3 L157.2,320.7 L157.6,331.0 L158.0,341.0 L158.4,348.1 L158.8,353.8 L159.2,356.2 L159.6,357.2 L160.0,359.5 L160.4,360.0 L160.8,359.6 L161.2,361.2 L161.6,362.3 L162.0,361.0 L162.4,360.2 L162.8,361.6 L163.2,363.1 L163.6,360.0 L164.0,359.9 L164.4,359.8 L164.8,361.7 L165.2,357.7 L165.6,361.3 L166.0,362.9 L166.4,360.6 L166.8,364.2 L167.2,363.0 L167.6,361.5 L168.0,362.6 L168.4,360.1 L168.8,361.4 L169.2,364.6 L169.6,360.7 L170.0,364.3 L170.4,361.4 L170.8,362.7 L171.2,361.2 L171.6,357.9 L172.0,360.4 L172.4,361.7 L172.8,360.2 L173.2,360.2 L173.6,362.7 L174.0,361.3 L174.4,359.7 L174.8,360.9 L175.2,362.6 L175.6,360.4 L176.0,362.0 L176.4,362.5 L176.8,360.2 L177.2,358.5 L177.6,358.3 L178.0,360.2 L178.4,361.6 L178.8,361.0 L179.2,361.6 L179.6,360.5 L180.0,361.8 L180.4,361.0 L180.8,361.4 L181.2,360.2 L181.6,359.8 L182.0,361.3 L182.4,360.4 L182.8,360.6 L183.2,362.8 L183.6,361.7 L184.0,366.0 L184.4,363.2 L184.8,360.9 L185.2,362.8 L185.6,362.1 L186.0,360.5 L186.4,363.0 L186.8,360.3 L187.2,357.1 L187.6,362.5 L188.0,360.3 L188.4,363.1 L188.8,359.7 L189.2,358.7 L189.6,362.3 L190.0,358.6 L190.4,360.5 L190.8,362.6 L191.2,361.1 L191.6,361.3 L192.0,362.0 L192.4,363.3 L192.8,361.1 L193.2,363.2 L193.6,363.0 L194.0,365.3 L194.4,361.4 L194.8,360.4 L195.2,362.6 L195.6,360.9 L196.0,361.8 L196.4,361.5 L196.8,362.8 L197.2,360.1 L197.6,360.7 L198.0,357.1 L198.4,359.4 L198.8,362.8 L199.2,359.9 L199.6,360.0 L200.0,359.4 L200.4,361.9 L200.8,361.1 L201.2,358.8 L201.6,360.7 L202.0,359.2 L202.4,358.6 L202.8,354.7 L203.2,354.9 L203.6,347.5 L204.0,336.6 L204.4,319.3 L204.8,296.6 L205.2,275.6 L205.6,267.7 L206.0,285.9 L206.4,309.2 L206.8,330.1 L207.2,342.2 L207.6,348.1 L208.0,349.0 L208.4,353.9 L208.8,355.5 L209.2,355.3 L209.6,356.3 L210.0,355.3 L210.4,355.9 L210.8,355.7 L211.2,359.4 L211.6,358.2 L212.0,357.6 L212.4,356.7 L212.8,358.7 L213.2,361.1 L213.6,360.0 L214.0,358.5 L214.4,361.6 L214.8,361.7 L215.2,361.0 L215.6,360.6 L216.0,360.8 L216.4,359.5 L216.8,359.1 L217.2,356.1 L217.6,358.0 L218.0,354.0 L218.4,353.1 L218.8,342.4 L219.2,339.9 L219.6,334.6 L220.0,331.4 L220.4,336.9 L220.8,343.8 L221.2,349.3 L221.6,351.7 L222.0,354.6 L222.4,357.5 L222.8,358.5 L223.2,357.3 L223.6,357.5 L224.0,357.9 L224.4,359.2 L224.8,356.4 L225.2,356.1 L225.6,358.1 L226.0,356.4 L226.4,357.2 L226.8,358.2 L227.2,358.9 L227.6,356.9 L228.0,359.7 L228.4,356.3 L228.8,359.7 L229.2,356.8 L229.6,357.3 L230.0,360.1 L230.4,358.7 L230.8,358.3 L231.2,358.8 L231.6,360.1 L232.0,359.4 L232.4,359.3 L232.8,360.7 L233.2,358.0 L233.6,358.2 L234.0,357.9 L234.4,360.1 L234.8,359.7 L235.2,360.0 L235.6,358.0 L236.0,357.7 L236.4,359.1 L236.8,357.2 L237.2,358.7 L237.6,358.3 L238.0,356.2 L238.4,357.0 L238.8,357.0 L239.2,359.7 L239.6,361.2 L240.0,357.7 L240.4,358.2 L240.8,355.3 L241.2,359.0 L241.6,358.9 L242.0,357.6 L242.4,360.3 L242.8,357.0 L243.2,358.9 L243.6,359.2 L244.0,357.0 L244.4,359.6 L244.8,359.5 L245.2,355.9 L245.6,355.7 L246.0,358.5 L246.4,357.7 L246.8,356.2 L247.2,357.7 L247.6,358.0 L248.0,358.0 L248.4,359.3 L248.8,358.6 L249.2,360.4 L249.6,359.5 L250.0,358.3 L250.4,358.5 L250.8,358.5 L251.2,357.2 L251.6,354.0 L252.0,356.3 L252.4,354.6 L252.8,356.2 L253.2,353.6 L253.6,353.9 L254.0,353.4 L254.4,355.2 L254.8,352.8 L255.2,351.9 L255.6,352.4 L256.0,351.0 L256.4,351.6 L256.8,351.2 L257.2,351.6 L257.6,353.8 L258.0,350.4 L258.4,350.8 L258.8,349.9 L259.2,350.5 L259.6,347.2 L260.0,347.1 L260.4,347.2 L260.8,346.9 L261.2,344.4 L261.6,340.9 L262.0,335.3 L262.4,328.9 L262.8,318.0 L263.2,301.2 L263.6,286.1 L264.0,279.2 L264.4,282.3 L264.8,295.3 L265.2,306.3 L265.6,312.3 L266.0,309.6 L266.4,298.4 L266.8,286.5 L267.2,271.1 L267.6,259.0 L268.0,264.7 L268.4,280.8 L268.8,301.3 L269.2,315.5 L269.6,333.1 L270.0,339.3 L270.4,347.4 L270.8,349.2 L271.2,350.8 L271.6,352.7 L272.0,355.3 L272.4,353.8 L272.8,355.3 L273.2,355.9 L273.6,354.8 L274.0,359.5 L274.4,359.0 L274.8,358.6 L275.2,360.5 L275.6,357.7 L276.0,359.0 L276.4,361.4 L276.8,360.2 L277.2,355.5 L277.6,353.7 L278.0,356.9 L278.4,360.0 L278.8,358.2 L279.2,359.1 L279.6,360.9 L280.0,359.5 L280.4,361.5 L280.8,362.7 L281.2,362.4 L281.6,362.4 L282.0,361.0 L282.4,362.6 L282.8,361.3 L283.2,363.6 L283.6,365.3 L284.0,360.5 L284.4,358.3 L284.8,360.6 L285.2,361.7 L285.6,362.6 L286.0,362.6 L286.4,360.0 L286.8,360.0 L287.2,362.9 L287.6,359.7 L288.0,362.8 L288.4,361.1 L288.8,362.7 L289.2,362.8 L289.6,363.1 L290.0,363.3 L290.4,360.8 L290.8,362.5 L291.2,362.0 L291.6,362.3 L292.0,363.4 L292.4,361.3 L292.8,360.7 L293.2,360.7 L293.6,361.4 L294.0,363.1 L294.4,361.0 L294.8,363.8 L295.2,362.5 L295.6,361.6 L296.0,359.8 L296.4,361.7 L296.8,362.0 L297.2,358.0 L297.6,361.2 L298.0,360.6 L298.4,357.2 L298.8,355.9 L299.2,358.0 L299.6,357.3 L300.0,356.3 L300.4,359.3 L300.8,360.6 L301.2,361.6 L301.6,359.1 L302.0,363.9 L302.4,362.2 L302.8,363.5 L303.2,363.0 L303.6,364.3 L304.0,362.3 L304.4,361.1 L304.8,362.5 L305.2,363.3 L305.6,360.6 L306.0,362.7 L306.4,361.0 L306.8,359.7 L307.2,362.4 L307.6,358.9 L308.0,361.2 L308.4,358.8 L308.8,359.8 L309.2,357.1 L309.6,357.1 L310.0,358.8 L310.4,355.9 L310.8,352.7 L311.2,347.2 L311.6,341.3 L312.0,329.8 L312.4,321.6 L312.8,319.1 L313.2,321.8 L313.6,330.5 L314.0,340.3 L314.4,347.5 L314.8,352.4 L315.2,358.3 L315.6,359.4 L316.0,361.0 L316.4,360.1 L316.8,360.1 L317.2,359.3 L317.6,361.2 L318.0,359.0 L318.4,361.2 L318.8,363.0 L319.2,364.1 L319.6,363.2 L320.0,360.6 L320.4,362.6 L320.8,361.0 L321.2,363.4 L321.6,362.2 L322.0,363.5 L322.4,365.9 L322.8,363.5 L323.2,365.3 L323.6,361.9 L324.0,360.7 L324.4,361.8 L324.8,360.2 L325.2,353.7 L325.6,350.1 L326.0,343.9 L326.4,344.5 L326.8,348.8 L327.2,351.8 L327.6,355.0 L328.0,356.6 L328.4,360.7 L328.8,362.0 L329.2,361.9 L329.6,361.4 L330.0,359.2 L330.4,363.4 L330.8,360.9 L331.2,360.7 L331.6,361.9 L332.0,357.9 L332.4,360.8 L332.8,360.7 L333.2,361.2 L333.6,362.0 L334.0,359.8 L334.4,355.2 L334.8,355.8 L335.2,355.6 L335.6,355.7 L336.0,355.0 L336.4,355.9 L336.8,360.3 L337.2,360.9 L337.6,361.1 L338.0,359.2 L338.4,364.4 L338.8,358.1 L339.2,361.8 L339.6,365.2 L340.0,362.0 L340.4,362.4 L340.8,360.1 L341.2,363.3 L341.6,359.2 L342.0,361.0 L342.4,360.5 L342.8,358.3 L343.2,360.1 L343.6,355.2 L344.0,353.3 L344.4,350.2 L344.8,345.1 L345.2,343.6 L345.6,345.5 L346.0,348.3 L346.4,352.7 L346.8,356.6 L347.2,359.2 L347.6,362.3 L348.0,361.5 L348.4,362.7 L348.8,362.1 L349.2,361.0 L349.6,363.4 L350.0,360.8 L350.4,362.3 L350.8,364.5 L351.2,361.0 L351.6,362.5 L352.0,360.5 L352.4,362.1 L352.8,360.7 L353.2,362.3 L353.6,362.1 L354.0,362.9 L354.4,364.8 L354.8,362.9 L355.2,363.5 L355.6,362.6 L356.0,362.5 L356.4,361.9 L356.8,360.8 L357.2,363.6 L357.6,365.9 L358.0,364.3 L358.4,362.8 L358.8,365.7 L359.2,362.6 L359.6,362.1 L360.0,361.0 L360.4,361.2 L360.8,362.2 L361.2,365.4 L361.6,362.4 L362.0,361.3 L362.4,361.9 L362.8,362.4 L363.2,360.2 L363.6,362.7 L364.0,363.4 L364.4,362.9 L364.8,363.4 L365.2,361.0 L365.6,360.6 L366.0,365.1 L366.4,365.1 L366.8,361.6 L367.2,364.2 L367.6,363.9 L368.0,364.6 L368.4,363.9 L368.8,362.7 L369.2,363.4 L369.6,363.1 L370.0,362.6 L370.4,360.0 L370.8,358.3 L371.2,361.4 L371.6,360.2 L372.0,363.0 L372.4,363.8 L372.8,363.3 L373.2,362.6 L373.6,363.2 L374.0,364.6 L374.4,361.7 L374.8,363.8 L375.2,363.2 L375.6,362.4 L376.0,364.0 L376.4,360.9 L376.8,363.3 L377.2,360.8 L377.6,361.3 L378.0,361.2 L378.4,363.6 L378.8,361.9 L379.2,363.4 L379.6,361.8 L380.0,364.9 L380.4,366.1 L380.8,363.9 L381.2,366.0 L381.6,364.4 L382.0,366.5 L382.4,363.4 L382.8,360.6 L383.2,364.4 L383.6,361.7 L384.0,360.1 L384.4,360.4 L384.8,358.9 L385.2,361.1 L385.6,360.0 L386.0,363.9 L386.4,363.0 L386.8,359.9 L387.2,360.3 L387.6,361.7 L388.0,359.8 L388.4,362.3 L388.8,362.4 L389.2,361.3 L389.6,361.6 L390.0,363.0 L390.4,364.3 L390.8,364.5 L391.2,362.6 L391.6,363.9 L392.0,362.0 L392.4,364.0 L392.8,362.4 L393.2,365.1 L393.6,362.5 L394.0,362.9 L394.4,364.2 L394.8,364.8 L395.2,361.8 L395.6,362.9 L396.0,363.7 L396.4,363.8 L396.8,362.2 L397.2,363.4 L397.6,362.7 L398.0,364.9 L398.4,363.5 L398.8,360.7 L399.2,359.3 L399.6,362.5 L400.0,364.0 L400.4,362.6 L400.8,363.7 L401.2,362.0 L401.6,361.0 L402.0,364.3 L402.4,363.7 L402.8,364.7 L403.2,362.0 L403.6,364.2 L404.0,362.9 L404.4,364.8 L404.8,362.6 L405.2,362.3 L405.6,362.1 L406.0,364.7 L406.4,363.1 L406.8,362.3 L407.2,362.3 L407.6,362.6 L408.0,366.4 L408.4,361.9 L408.8,363.1 L409.2,365.0 L409.6,365.3 L410.0,363.0 L410.4,363.8 L410.8,363.3 L411.2,363.1 L411.6,361.4 L412.0,363.2 L412.4,360.6 L412.8,361.5 L413.2,356.3 L413.6,357.1 L414.0,351.5 L414.4,348.6 L414.8,349.9 L415.2,348.7 L415.6,352.8 L416.0,353.5 L416.4,359.8 L416.8,359.6 L417.2,359.4 L417.6,362.1 L418.0,363.4 L418.4,361.2 L418.8,362.9 L419.2,364.9 L419.6,363.0 L420.0,361.5 L420.4,360.4 L420.8,361.5 L421.2,357.7 L421.6,354.5 L422.0,356.3 L422.4,354.3 L422.8,357.2 L423.2,355.0 L423.6,354.7 L424.0,356.1 L424.4,360.0 L424.8,359.5 L425.2,360.8 L425.6,362.1 L426.0,362.6 L426.4,362.6 L426.8,362.4 L427.2,363.8 L427.6,364.1 L428.0,359.3 L428.4,365.1 L428.8,361.6 L429.2,363.1 L429.6,360.1 L430.0,361.4 L430.4,361.0 L430.8,360.6 L431.2,361.3 L431.6,360.8 L432.0,358.3 L432.4,359.4 L432.8,360.6 L433.2,360.5 L433.6,359.0 L434.0,358.7 L434.4,358.3 L434.8,355.9 L435.2,353.8 L435.6,354.6 L436.0,346.5 L436.4,338.6 L436.8,325.1 L437.2,312.5 L437.6,298.2 L438.0,288.6 L438.4,296.0 L438.8,308.8 L439.2,327.4 L439.6,338.3 L440.0,344.1 L440.4,352.2 L440.8,354.2 L441.2,356.2 L441.6,357.4 L442.0,356.9 L442.4,357.7 L442.8,359.9 L443.2,359.3 L443.6,358.5 L444.0,363.1 L444.4,360.3 L444.8,360.2 L445.2,360.3 L445.6,362.7 L446.0,363.5 L446.4,363.0 L446.8,364.5 L447.2,361.8 L447.6,363.8 L448.0,364.0 L448.4,364.8 L448.8,365.3 L449.2,361.5 L449.6,368.3 L450.0,362.1 L450.4,363.2 L450.8,363.4 L451.2,363.0 L451.6,361.8 L452.0,357.1 L452.4,359.6 L452.8,362.1 L453.2,359.8 L453.6,359.5 L454.0,357.6 L454.4,362.3 L454.8,360.8 L455.2,358.1 L455.6,358.1 L456.0,357.2 L456.4,355.3 L456.8,357.1 L457.2,359.3 L457.6,361.1 L458.0,363.1 L458.4,361.9 L458.8,361.3 L459.2,362.4 L459.6,360.7 L460.0,359.5 L460.4,362.8 L460.8,360.6 L461.2,361.5 L461.6,362.4 L462.0,360.1 L462.4,362.7 L462.8,362.6 L463.2,362.0 L463.6,362.9 L464.0,361.4 L464.4,359.4 L464.8,362.0 L465.2,360.9 L465.6,363.2 L466.0,362.1 L466.4,360.9 L466.8,361.6 L467.2,363.4 L467.6,363.1 L468.0,362.0 L468.4,362.2 L468.8,361.3 L469.2,361.7 L469.6,363.0 L470.0,362.2 L470.4,363.0 L470.8,361.2 L471.2,360.4 L471.6,360.2 L472.0,361.6 L472.4,363.6 L472.8,362.7 L473.2,358.6 L473.6,356.3 L474.0,357.6 L474.4,354.7 L474.8,350.0 L475.2,352.5 L475.6,352.3 L476.0,356.1 L476.4,356.8 L476.8,359.2 L477.2,359.3 L477.6,357.9 L478.0,358.8 L478.4,357.5 L478.8,358.5 L479.2,354.1 L479.6,351.2 L480.0,352.7 L480.4,353.3 L480.8,355.3 L481.2,356.9 L481.6,355.2 L482.0,357.7 L482.4,358.9 L482.8,360.3 L483.2,357.8 L483.6,361.1 L484.0,361.7 L484.4,360.0 L484.8,361.4 L485.2,362.7 L485.6,360.9 L486.0,362.2 L486.4,362.2 L486.8,361.4 L487.2,361.4 L487.6,360.3 L488.0,362.1 L488.4,358.8 L488.8,357.1 L489.2,357.0 L489.6,352.8 L490.0,352.8 L490.4,353.6 L490.8,353.9 L491.2,356.1 L491.6,359.1 L492.0,360.3 L492.4,358.0 L492.8,358.8 L493.2,362.7 L493.6,361.6 L494.0,358.2 L494.4,359.4 L494.8,361.6 L495.2,360.5 L495.6,363.0 L496.0,362.9 L496.4,363.9 L496.8,362.0 L497.2,364.7 L497.6,366.7 L498.0,362.8 L498.4,365.6 L498.8,364.9 L499.2,364.0 L499.6,362.5 L500.0,360.5 L500.4,360.5 L500.8,362.5 L501.2,362.6 L501.6,362.9 L502.0,362.7 L502.4,362.8 L502.8,361.1 L503.2,360.1 L503.6,362.0 L504.0,362.3 L504.4,361.4 L504.8,358.8 L505.2,359.7 L505.6,357.7 L506.0,358.8 L506.4,355.5 L506.8,354.4 L507.2,352.1 L507.6,348.6 L508.0,347.7 L508.4,343.6 L508.8,343.8 L509.2,351.2 L509.6,354.8 L510.0,357.2 L510.4,357.0 L510.8,357.7 L511.2,356.5 L511.6,352.8 L512.0,351.2 L512.4,349.4 L512.8,344.5 L513.2,345.9 L513.6,341.6 L514.0,345.7 L514.4,351.1 L514.8,351.7 L515.2,353.3 L515.6,354.8 L516.0,357.0 L516.4,361.1 L516.8,360.3 L517.2,360.9 L517.6,359.8 L518.0,361.9 L518.4,360.8 L518.8,359.0 L519.2,359.1 L519.6,359.1 L520.0,359.2 L520.4,356.1 L520.8,355.5 L521.2,356.9 L521.6,353.7 L522.0,354.8 L522.4,359.8 L522.8,360.6 L523.2,361.0 L523.6,362.2 L524.0,361.7 L524.4,362.9 L524.8,361.6 L525.2,363.0 L525.6,360.0 L526.0,360.3 L526.4,361.6 L526.8,360.7 L527.2,362.5 L527.6,361.6 L528.0,361.0 L528.4,362.1 L528.8,361.1 L529.2,359.7 L529.6,360.3 L530.0,360.9 L530.4,361.4 L530.8,362.3 L531.2,363.5 L531.6,363.0 L532.0,364.6 L532.4,363.9 L532.8,361.9 L533.2,364.7 L533.6,364.3 L534.0,362.4 L534.4,363.8 L534.8,365.1 L535.2,363.9 L535.6,364.7 L536.0,363.4 L536.4,363.2 L536.8,361.3 L537.2,362.0 L537.6,361.0 L538.0,362.7 L538.4,359.8 L538.8,363.1 L539.2,364.7 L539.6,363.9 L540.0,363.1 L540.4,363.9 L540.8,361.8 L541.2,361.7 L541.6,362.3 L542.0,362.5 L542.4,364.0 L542.8,361.2 L543.2,363.7 L543.6,359.9 L544.0,360.7 L544.4,361.5 L544.8,362.9 L545.2,360.3 L545.6,358.1 L546.0,361.7 L546.4,361.0 L546.8,359.3 L547.2,358.9 L547.6,358.6 L548.0,358.8 L548.4,359.1 L548.8,356.3 L549.2,362.4 L549.6,360.0 L550.0,360.3 L550.4,362.3 L550.8,361.8 L551.2,365.0 L551.6,363.3 L552.0,361.3 L552.4,361.3 L552.8,361.2 L553.2,361.5 L553.6,362.9 L554.0,361.0 L554.4,363.9 L554.8,361.0 L555.2,360.2 L555.6,360.7 L556.0,355.4 L556.4,355.3 L556.8,356.0 L557.2,354.2 L557.6,354.4 L558.0,356.4 L558.4,356.9 L558.8,359.2 L559.2,358.8 L559.6,358.9 L560.0,363.8 L560.4,360.9 L560.8,361.2 L561.2,364.1 L561.6,363.6 L562.0,361.3 L562.4,361.2 L562.8,361.8 L563.2,360.6 L563.6,362.7 L564.0,362.2 L564.4,362.3 L564.8,363.4 L565.2,363.5 L565.6,365.3 L566.0,365.1 L566.4,360.7 L566.8,364.3 L567.2,361.4 L567.6,360.8 L568.0,363.6 L568.4,361.4 L568.8,361.6 L569.2,363.3 L569.6,360.7 L570.0,360.3 L570.4,362.1 L570.8,363.7 L571.2,363.1 L571.6,360.6 L572.0,362.3 L572.4,363.3 L572.8,366.4 L573.2,365.1 L573.6,365.1 L574.0,365.7 L574.4,363.7 L574.8,364.8 L575.2,364.9 L575.6,362.8 L576.0,364.1 L576.4,364.8 L576.8,362.4 L577.2,364.8 L577.6,364.6 L578.0,364.8 L578.4,362.2 L578.8,363.4 L579.2,365.3 L579.6,364.3 L580.0,362.0 L580.4,363.4 L580.8,365.0 L581.2,362.9 L581.6,363.5 L582.0,366.6 L582.4,362.9 L582.8,362.9 L583.2,361.7 L583.6,362.2 L584.0,365.2 L584.4,362.9 L584.8,361.4 L585.2,361.5 L585.6,362.5 L586.0,363.1 L586.4,360.6 L586.8,362.3 L587.2,360.3 L587.6,361.4 L588.0,361.7 L588.4,362.0 L588.8,360.9 L589.2,361.5 L589.6,362.7 L590.0,360.3 L590.4,362.5 L590.8,363.0 L591.2,363.8 L591.6,362.3 L592.0,362.1 L592.4,362.6 L592.8,361.3 L593.2,362.1 L593.6,363.0 L594.0,362.8 L594.4,361.0 L594.8,361.9 L595.2,359.3 L595.6,363.3 L596.0,361.3 L596.4,362.4 L596.8,360.5 L597.2,361.9 L597.6,362.7 L598.0,363.4 L598.4,360.2 L598.8,363.4 L599.2,362.1 L599.6,361.5 L600.0,363.5 L600.4,362.7 L600.8,362.9 L601.2,362.5 L601.6,363.8 L602.0,363.6 L602.4,363.2 L602.8,361.9 L603.2,362.3 L603.6,363.4 L604.0,364.3 L604.4,362.3 L604.8,364.2 L605.2,362.1 L605.6,360.6 L606.0,363.0 L606.4,360.7 L606.8,362.6 L607.2,363.6 L607.6,361.8 L608.0,362.4 L608.4,366.4 L608.8,363.6 L609.2,363.9 L609.6,364.7 L610.0,363.3 L610.4,363.0 L610.8,363.2 L611.2,358.8 L611.6,363.4 L612.0,359.1 L612.4,358.3 L612.8,360.0 L613.2,359.2 L613.6,358.0 L614.0,360.7 L614.4,359.4 L614.8,360.3 L615.2,359.3 L615.6,360.2 L616.0,361.9 L616.4,361.5 L616.8,361.9 L617.2,362.9 L617.6,361.7 L618.0,361.0 L618.4,361.7 L618.8,364.5 L619.2,362.4 L619.6,363.0 L620.0,362.5 L620.4,363.0 L620.8,362.9 L621.2,361.6 L621.6,360.1 L622.0,357.5 L622.4,355.3 L622.8,355.4 L623.2,355.4 L623.6,356.3 L624.0,356.4 L624.4,356.5 L624.8,359.6 L625.2,360.4 L625.6,358.1 L626.0,361.9 L626.4,362.1 L626.8,364.1 L627.2,360.6 L627.6,360.5 L628.0,363.4 L628.4,359.4 L628.8,360.5 L629.2,359.5 L629.6,359.1 L630.0,357.6 L630.4,359.9 L630.8,361.9 L631.2,361.5 L631.6,361.9 L632.0,361.1 L632.4,363.8 L632.8,362.6 L633.2,363.2 L633.6,359.5 L634.0,362.1 L634.4,360.2 L634.8,362.5 L635.2,362.6 L635.6,361.0 L636.0,363.0 L636.4,364.6 L636.8,363.7 L637.2,363.7 L637.6,361.6 L638.0,361.6 L638.4,360.8 L638.8,362.3 L639.2,363.6 L639.6,362.5 L640.0,361.8 L640.4,360.3 L640.8,362.5 L641.2,361.7 L641.6,359.7 L642.0,360.2 L642.4,362.5 L642.8,362.1 L643.2,366.0 L643.6,363.9 L644.0,362.5 L644.4,363.2 L644.8,366.1 L645.2,362.4 L645.6,364.7 L646.0,364.1 L646.4,365.4 L646.8,364.0 L647.2,362.6 L647.6,363.9 L648.0,363.3 L648.4,364.6 L648.8,363.2 L649.2,366.0 L649.6,363.0 L650.0,363.5 L650.4,361.8 L650.8,362.8 L651.2,362.6 L651.6,362.9 L652.0,364.1 L652.4,362.3 L652.8,362.0 L653.2,364.9 L653.6,363.1 L654.0,362.6 L654.4,365.2 L654.8,364.6 L655.2,359.8 L655.6,363.0 L656.0,364.7 L656.4,364.9 L656.8,363.2 L657.2,366.2 L657.6,363.0 L658.0,363.8 L658.4,364.1 L658.8,363.7 L659.2,364.5 L659.6,364.5 L660.0,362.8 L660.4,364.5 L660.8,361.4 L661.2,361.8 L661.6,364.4 L662.0,362.1 L662.4,363.5 L662.8,361.5 L663.2,361.8 L663.6,362.1 L664.0,362.4 L664.4,361.5 L664.8,361.8 L665.2,362.6 L665.6,363.3 L666.0,361.8 L666.4,362.7 L666.8,363.3 L667.2,360.7 L667.6,360.2 L668.0,364.7 L668.4,364.3 L668.8,362.5 L669.2,363.0 L669.6,361.3 L670.0,360.8 L670.4,363.4 L670.8,361.1 L671.2,364.6 L671.6,362.3 L672.0,363.5 L672.4,365.6 L672.8,365.3 L673.2,362.2 L673.6,364.0 L674.0,361.2 L674.4,361.9 L674.8,363.3 L675.2,364.7 L675.6,361.9 L676.0,363.4 L676.4,362.8 L676.8,360.9 L677.2,362.6 L677.6,364.9 L678.0,362.8 L678.4,363.7 L678.8,364.2 L679.2,362.2 L679.6,365.0 L680.0,365.5 L680.4,365.7 L680.8,365.3 L681.2,362.7 L681.6,362.5 L682.0,362.2 L682.4,362.0 L682.8,362.3 L683.2,364.8 L683.6,365.6 L684.0,362.8 L684.4,364.9 L684.8,362.1 L685.2,363.4 L685.6,362.4 L686.0,361.5 L686.4,363.6 L686.8,363.4 L687.2,362.4 L687.6,362.0 L688.0,361.2 L688.4,362.3 L688.8,361.6 L689.2,363.0 L689.6,361.1 L690.0,363.3 L690.4,363.9 L690.8,365.1 L691.2,365.0 L691.6,363.9 L692.0,362.8 L692.4,361.1 L692.8,363.6 L693.2,365.4 L693.6,365.7 L694.0,359.8 L694.4,362.4 L694.8,363.1 L695.2,362.2 L695.6,364.0 L696.0,363.8 L696.4,363.1 L696.8,363.7 L697.2,361.6 L697.6,362.5 L698.0,362.6 L698.4,365.1 L698.8,361.5 L699.2,363.3 L699.6,364.5 L700.0,363.1 L700.4,364.2 L700.8,362.0 L701.2,363.4 L701.6,364.0 L702.0,365.9 L702.4,364.0 L702.8,365.2 L703.2,363.6 L703.6,364.0 L704.0,366.4 L704.4,365.2 L704.8,366.4 L705.2,365.5 L705.6,367.4 L706.0,367.7 L706.4,363.2 L706.8,366.9 L707.2,364.8 L707.6,364.8 L708.0,364.0 L708.4,365.1 L708.8,362.5 L709.2,362.9 L709.6,362.7 L710.0,364.0 L710.4,364.6 L710.8,364.1 L711.2,363.3 L711.6,361.8 L712.0,360.0 L712.4,362.9 L712.8,362.3 L713.2,362.4 L713.6,363.8 L714.0,361.5 L714.4,361.5 L714.8,358.7 L715.2,363.0 L715.6,362.5 L716.0,361.9 L716.4,363.9 L716.8,362.2 L717.2,363.1 L717.6,366.7 L718.0,365.0 L718.4,365.3 L718.8,365.1 L719.2,365.0 L719.6,364.4 L720.0,367.4 L720.4,364.2 L720.8,365.3 L721.2,363.8 L721.6,363.5 L722.0,360.3 L722.4,360.8 L722.8,365.5 L723.2,365.3 L723.6,362.6 L724.0,363.1 L724.4,364.0 L724.8,361.7 L725.2,365.7 L725.6,361.9 L726.0,362.6 L726.4,360.0 L726.8,366.2 L727.2,364.4 L727.6,366.7 L728.0,363.0 L728.4,364.7 L728.8,364.2 L729.2,364.1 L729.6,366.4 L730.0,366.4 L730.4,364.8 L730.8,362.0 L731.2,363.5 L731.6,363.9 L732.0,362.7 L732.4,362.8 L732.8,362.8 L733.2,360.9 L733.6,362.6 L734.0,364.6 L734.4,361.0 L734.8,362.6 L735.2,363.9 L735.6,361.1 L736.0,363.0 L736.4,360.9 L736.8,362.5 L737.2,361.3 L737.6,361.9 L738.0,362.4 L738.4,362.6 L738.8,362.5 L739.2,359.3 L739.6,364.8 L740.0,362.0 L740.4,360.7 L740.8,361.2 L741.2,362.4 L741.6,360.5 L742.0,361.3 L742.4,361.1 L742.8,362.4 L743.2,360.3 L743.6,361.6 L744.0,360.7 L744.4,358.9 L744.8,359.0 L745.2,354.7 L745.6,349.4 L746.0,346.8 L746.4,341.2 L746.8,336.0 L747.2,333.1 L747.6,335.9 L748.0,336.0 L748.4,341.3 L748.8,345.6 L749.2,352.6 L749.6,354.5 L750.0,356.4 L750.4,357.7 L750.8,361.4 L751.2,362.4 L751.6,359.5 L752.0,360.9 L752.4,362.9 L752.8,363.4 L753.2,360.1 L753.6,361.3 L754.0,363.1 L754.4,361.3 L754.8,361.6 L755.2,361.7 L755.6,360.8 L756.0,362.9 L756.4,363.3 L756.8,361.0 L757.2,363.2 L757.6,364.6 L758.0,363.3 L758.4,364.2 L758.8,361.9 L759.2,364.4 L759.6,361.2 L760.0,364.9 L760.4,361.5 L760.8,361.2 L761.2,361.1 L761.6,362.0 L762.0,362.2 L762.4,362.2 L762.8,362.8 L763.2,364.3 L763.6,364.7 L764.0,363.0 L764.4,365.2 L764.8,362.0 L765.2,361.8 L765.6,361.5 L766.0,363.7 L766.4,360.5 L766.8,360.5 L767.2,364.1 L767.6,364.7 L768.0,364.2 L768.4,360.3 L768.8,362.5 L769.2,363.7 L769.6,362.7 L770.0,360.2 L770.4,361.9 L770.8,359.9 L771.2,360.5 L771.6,365.3 L772.0,363.4 L772.4,360.6 L772.8,360.9 L773.2,364.0 L773.6,362.9 L774.0,364.9 L774.4,363.4 L774.8,364.1 L775.2,364.6 L775.6,362.7 L776.0,361.3 L776.4,362.2 L776.8,362.8 L777.2,363.5 L777.6,363.7 L778.0,363.8 L778.4,364.8 L778.8,362.9 L779.2,366.3 L779.6,367.3 L780.0,365.1 L780.4,365.0 L780.8,366.5 L781.2,365.6 L781.6,364.9 L782.0,364.2 L782.4,363.2 L782.8,362.4 L783.2,364.7 L783.6,365.2 L784.0,361.8 L784.4,363.0 L784.8,363.1 L785.2,362.0 L785.6,361.4 L786.0,361.9 L786.4,359.7 L786.8,362.5 L787.2,362.4 L787.6,366.0 L788.0,364.5 L788.4,362.8 L788.8,363.4 L789.2,365.8 L789.6,365.6 L790.0,363.6 L790.4,363.1 L790.8,361.2 L791.2,362.7 L791.6,362.7 L792.0,361.7 L792.4,364.9 L792.8,359.7 L793.2,362.1 L793.6,363.0 L794.0,363.4 L794.4,365.5 L794.8,361.6 L795.2,362.9 L795.6,364.5 L796.0,364.8 L796.4,364.3 L796.8,363.9 L797.2,366.4 L797.6,363.3 L798.0,363.8 L798.4,366.4 L798.8,366.5 L799.2,365.1 L799.6,362.6 L800.0,362.6"/>
<path stroke="#F73838" d="M52.4,418.4 L52.8,426.7 L53.2,437.1 L53.6,439.6 L54.0,437.2 L54.4,441.8 L54.8,441.2 L55.2,443.5 L55.6,440.2 L56.0,444.8 L56.4,445.7 L56.8,449.5 L57.2,448.0 L57.6,449.5 L58.0,446.6 L58.4,454.6 L58.8,447.1 L59.2,453.4 L59.6,451.3 L60.0,450.8 L60.4,451.9 L60.8,452.6 L61.2,455.2 L61.6,455.0 L62.0,458.4 L62.4,453.3 L62.8,456.9 L63.2,455.9 L63.6,458.9 L64.0,454.6 L64.4,457.8 L64.8,459.1 L65.2,456.7 L65.6,460.9 L66.0,459.8 L66.4,461.3 L66.8,461.4 L67.2,458.9 L67.6,459.7 L68.0,461.2 L68.4,463.2 L68.8,463.9 L69.2,462.2 L69.6,462.7 L70.0,462.6 L70.4,462.8 L70.8,463.1 L71.2,463.0 L71.6,465.8 L72.0,462.4 L72.4,462.7 L72.8,463.8 L73.2,462.1 L73.6,463.0 L74.0,463.7 L74.4,464.8 L74.8,462.3 L75.2,465.9 L75.6,464.0 L76.0,465.0 L76.4,466.1 L76.8,466.1 L77.2,466.8 L77.6,466.0 L78.0,465.9 L78.4,466.5 L78.8,465.1 L79.2,467.9 L79.6,465.7 L80.0,465.3 L80.4,469.3 L80.8,466.8 L81.2,465.6 L81.6,469.0 L82.0,466.5 L82.4,468.0 L82.8,465.8 L83.2,466.5 L83.6,464.8 L84.0,464.6 L84.4,465.6 L84.8,466.6 L85.2,467.6 L85.6,469.4 L86.0,465.6 L86.4,467.8 L86.8,466.1 L87.2,466.5 L87.6,465.0 L88.0,464.9 L88.4,465.7 L88.8,465.3 L89.2,466.7 L89.6,466.1 L90.0,468.2 L90.4,467.2 L90.8,467.2 L91.2,468.3 L91.6,467.7 L92.0,467.2 L92.4,467.3 L92.8,467.5 L93.2,468.9 L93.6,468.7 L94.0,468.3 L94.4,468.6 L94.8,467.1 L95.2,468.1 L95.6,466.1 L96.0,468.9 L96.4,467.8 L96.8,468.0 L97.2,468.6 L97.6,468.2 L98.0,468.0 L98.4,469.5 L98.8,468.3 L99.2,467.2 L99.6,468.5 L100.0,466.4 L100.4,469.8 L100.8,468.1 L101.2,468.4 L101.6,470.7 L102.0,470.7 L102.4,468.6 L102.8,469.0 L103.2,469.4 L103.6,469.8 L104.0,468.0 L104.4,468.2 L104.8,469.3 L105.2,468.3 L105.6,468.8 L106.0,468.7 L106.4,467.0 L106.8,467.3 L107.2,465.6 L107.6,468.1 L108.0,469.7 L108.4,467.4 L108.8,469.7 L109.2,469.5 L109.6,468.4 L110.0,468.3 L110.4,468.2 L110.8,467.2 L111.2,467.7 L111.6,467.9 L112.0,468.6 L112.4,469.0 L112.8,467.8 L113.2,469.6 L113.6,468.3 L114.0,469.1 L114.4,469.8 L114.8,469.5 L115.2,469.4 L115.6,469.8 L116.0,469.0 L116.4,468.8 L116.8,469.3 L117.2,470.5 L117.6,469.5 L118.0,471.5 L118.4,469.9 L118.8,466.7 L119.2,469.1 L119.6,470.9 L120.0,469.2 L120.4,468.6 L120.8,468.0 L121.2,470.0 L121.6,469.6 L122.0,469.2 L122.4,469.0 L122.8,470.0 L123.2,469.5 L123.6,467.6 L124.0,469.5 L124.4,468.8 L124.8,468.5 L125.2,469.3 L125.6,468.6 L126.0,465.8 L126.4,470.1 L126.8,469.7 L127.2,468.6 L127.6,468.4 L128.0,469.1 L128.4,467.8 L128.8,469.5 L129.2,469.2 L129.6,469.4 L130.0,469.0 L130.4,469.4 L130.8,471.2 L131.2,471.4 L131.6,470.6 L132.0,470.0 L132.4,469.1 L132.8,470.5 L133.2,471.3 L133.6,468.2 L134.0,470.8 L134.4,467.7 L134.8,469.5 L135.2,470.3 L135.6,468.8 L136.0,468.7 L136.4,470.4 L136.8,471.0 L137.2,469.6 L137.6,471.2 L138.0,469.0 L138.4,471.2 L138.8,469.6 L139.2,469.7 L139.6,470.1 L140.0,470.0 L140.4,471.5 L140.8,472.0 L141.2,470.5 L141.6,469.9 L142.0,468.9 L142.4,469.4 L142.8,470.1 L143.2,470.1 L143.6,470.3 L144.0,470.6 L144.4,471.3 L144.8,469.7 L145.2,470.2 L145.6,472.3 L146.0,472.0 L146.4,470.6 L146.8,472.3 L147.2,470.3 L147.6,470.6 L148.0,469.0 L148.4,471.5 L148.8,470.6 L149.2,471.5 L149.6,471.0 L150.0,470.4 L150.4,470.3 L150.8,471.3 L151.2,469.9 L151.6,469.9 L152.0,470.0 L152.4,470.6 L152.8,470.5 L153.2,471.2 L153.6,468.9 L154.0,469.5 L154.4,466.7 L154.8,466.2 L155.2,462.9 L155.6,460.3 L156.0,453.9 L156.4,448.1 L156.8,447.8 L157.2,451.1 L157.6,455.9 L158.0,460.9 L158.4,463.8 L158.8,469.6 L159.2,468.5 L159.6,470.2 L160.0,468.7 L160.4,469.2 L160.8,470.4 L161.2,470.7 L161.6,471.7 L162.0,470.0 L162.4,471.5 L162.8,472.4 L163.2,470.0 L163.6,471.7 L164.0,469.8 L164.4,470.9 L164.8,470.8 L165.2,472.1 L165.6,469.8 L166.0,470.7 L166.4,471.7 L166.8,469.8 L167.2,471.1 L167.6,470.5 L168.0,470.8 L168.4,472.4 L168.8,472.6 L169.2,474.5 L169.6,473.5 L170.0,473.4 L170.4,472.0 L170.8,471.8 L171.2,472.0 L171.6,469.6 L172.0,473.2 L172.4,470.9 L172.8,470.5 L173.2,471.1 L173.6,472.4 L174.0,472.7 L174.4,471.2 L174.8,472.0 L175.2,471.5 L175.6,470.6 L176.0,471.7 L176.4,471.5 L176.8,469.9 L177.2,472.4 L177.6,469.8 L178.0,471.4 L178.4,470.2 L178.8,470.4 L179.2,470.6 L179.6,472.2 L180.0,470.5 L180.4,471.6 L180.8,473.4 L181.2,471.3 L181.6,471.8 L182.0,472.4 L182.4,471.1 L182.8,472.1 L183.2,471.0 L183.6,472.2 L184.0,471.6 L184.4,470.7 L184.8,472.9 L185.2,471.4 L185.6,471.2 L186.0,470.6 L186.4,471.1 L186.8,471.5 L187.2,471.8 L187.6,472.8 L188.0,470.5 L188.4,471.6 L188.8,473.1 L189.2,472.2 L189.6,472.5 L190.0,473.6 L190.4,472.3 L190.8,472.3 L191.2,471.7 L191.6,473.2 L192.0,472.3 L192.4,470.5 L192.8,471.6 L193.2,470.0 L193.6,472.1 L194.0,471.7 L194.4,471.0 L194.8,470.7 L195.2,469.4 L195.6,471.8 L196.0,470.8 L196.4,470.6 L196.8,471.4 L197.2,469.8 L197.6,469.5 L198.0,469.0 L198.4,467.9 L198.8,471.0 L199.2,468.0 L199.6,467.3 L200.0,467.8 L200.4,463.0 L200.8,464.6 L201.2,462.2 L201.6,456.9 L202.0,450.0 L202.4,433.4 L202.8,414.7 L203.2,392.7 L203.6,378.5 L204.0,390.4 L204.4,414.3 L204.8,435.1 L205.2,448.6 L205.6,457.8 L206.0,462.1 L206.4,463.1 L206.8,465.8 L207.2,465.7 L207.6,465.6 L208.0,465.8 L208.4,469.4 L208.8,468.5 L209.2,470.8 L209.6,467.7 L210.0,469.0 L210.4,469.9 L210.8,469.7 L211.2,470.4 L211.6,470.2 L212.0,469.4 L212.4,467.7 L212.8,468.8 L213.2,471.1 L213.6,469.9 L214.0,470.3 L214.4,468.3 L214.8,468.6 L215.2,468.0 L215.6,469.2 L216.0,468.9 L216.4,469.1 L216.8,470.0 L217.2,466.9 L217.6,467.1 L218.0,462.8 L218.4,461.7 L218.8,455.6 L219.2,451.1 L219.6,449.1 L220.0,452.8 L220.4,456.0 L220.8,460.2 L221.2,463.0 L221.6,466.5 L222.0,466.7 L222.4,467.7 L222.8,468.5 L223.2,469.3 L223.6,468.2 L224.0,469.6 L224.4,470.7 L224.8,467.7 L225.2,470.4 L225.6,471.1 L226.0,468.5 L226.4,469.6 L226.8,467.8 L227.2,469.5 L227.6,469.1 L228.0,469.9 L228.4,468.9 L228.8,469.2 L229.2,469.7 L229.6,469.4 L230.0,469.4 L230.4,469.7 L230.8,468.7 L231.2,469.4 L231.6,469.8 L232.0,466.9 L232.4,469.1 L232.8,468.0 L233.2,467.5 L233.6,467.3 L234.0,467.8 L234.4,468.0 L234.8,469.1 L235.2,467.7 L235.6,470.0 L236.0,468.2 L236.4,469.7 L236.8,470.0 L237.2,467.8 L237.6,470.0 L238.0,471.2 L238.4,468.7 L238.8,469.7 L239.2,469.1 L239.6,469.2 L240.0,468.8 L240.4,468.4 L240.8,469.4 L241.2,469.5 L241.6,468.7 L242.0,470.2 L242.4,470.1 L242.8,470.0 L243.2,468.8 L243.6,471.5 L244.0,471.0 L244.4,467.6 L244.8,468.4 L245.2,468.9 L245.6,470.1 L246.0,470.4 L246.4,468.9 L246.8,469.4 L247.2,469.7 L247.6,467.6 L248.0,469.1 L248.4,467.9 L248.8,467.9 L249.2,467.2 L249.6,465.7 L250.0,465.5 L250.4,466.1 L250.8,465.8 L251.2,465.1 L251.6,466.0 L252.0,464.3 L252.4,463.1 L252.8,463.6 L253.2,463.3 L253.6,463.0 L254.0,463.8 L254.4,462.8 L254.8,463.0 L255.2,462.2 L255.6,461.1 L256.0,461.9 L256.4,460.3 L256.8,460.5 L257.2,459.0 L257.6,459.9 L258.0,459.3 L258.4,459.9 L258.8,461.1 L259.2,461.4 L259.6,459.8 L260.0,458.4 L260.4,458.8 L260.8,457.5 L261.2,455.5 L261.6,454.0 L262.0,450.0 L262.4,443.4 L262.8,436.0 L263.2,422.3 L263.6,410.6 L264.0,405.8 L264.4,407.8 L264.8,415.8 L265.2,423.4 L265.6,426.9 L266.0,422.5 L266.4,411.4 L266.8,394.5 L267.2,377.1 L267.6,369.1 L268.0,371.6 L268.4,389.4 L268.8,408.4 L269.2,427.1 L269.6,440.9 L270.0,451.6 L270.4,453.7 L270.8,461.4 L271.2,461.5 L271.6,464.2 L272.0,465.8 L272.4,465.2 L272.8,466.5 L273.2,467.6 L273.6,467.5 L274.0,467.3 L274.4,468.6 L274.8,468.9 L275.2,467.7 L275.6,470.8 L276.0,470.0 L276.4,467.9 L276.8,469.7 L277.2,472.5 L277.6,472.7 L278.0,471.7 L278.4,469.9 L278.8,471.3 L279.2,472.5 L279.6,471.8 L280.0,471.0 L280.4,470.5 L280.8,471.9 L281.2,470.8 L281.6,471.3 L282.0,471.5 L282.4,472.6 L282.8,471.2 L283.2,471.2 L283.6,469.2 L284.0,472.0 L284.4,471.8 L284.8,471.0 L285.2,468.9 L285.6,470.6 L286.0,471.3 L286.4,473.2 L286.8,471.7 L287.2,471.8 L287.6,471.8 L288.0,472.2 L288.4,469.8 L288.8,470.1 L289.2,469.9 L289.6,470.9 L290.0,471.0 L290.4,471.7 L290.8,470.8 L291.2,472.1 L291.6,471.3 L292.0,474.2 L292.4,471.8 L292.8,474.7 L293.2,473.8 L293.6,471.1 L294.0,473.1 L294.4,472.7 L294.8,470.6 L295.2,472.5 L295.6,471.7 L296.0,472.1 L296.4,471.0 L296.8,471.8 L297.2,472.3 L297.6,471.8 L298.0,471.5 L298.4,472.0 L298.8,471.3 L299.2,472.6 L299.6,470.0 L300.0,473.9 L300.4,472.6 L300.8,473.1 L301.2,473.5 L301.6,471.5 L302.0,474.9 L302.4,471.7 L302.8,473.2 L303.2,473.1 L303.6,474.0 L304.0,472.8 L304.4,471.3 L304.8,472.8 L305.2,469.9 L305.6,471.8 L306.0,471.2 L306.4,472.7 L306.8,470.6 L307.2,470.1 L307.6,469.6 L308.0,469.2 L308.4,469.2 L308.8,470.0 L309.2,467.9 L309.6,468.4 L310.0,466.3 L310.4,465.9 L310.8,463.3 L311.2,457.4 L311.6,451.7 L312.0,445.1 L312.4,440.4 L312.8,440.5 L313.2,444.9 L313.6,451.4 L314.0,457.3 L314.4,464.3 L314.8,468.1 L315.2,469.0 L315.6,471.3 L316.0,470.1 L316.4,470.7 L316.8,472.9 L317.2,470.8 L317.6,472.4 L318.0,472.3 L318.4,472.1 L318.8,473.5 L319.2,471.0 L319.6,471.3 L320.0,469.6 L320.4,470.5 L320.8,470.9 L321.2,471.0 L321.6,471.1 L322.0,471.5 L322.4,470.4 L322.8,468.9 L323.2,470.5 L323.6,470.0 L324.0,467.1 L324.4,465.4 L324.8,464.6 L325.2,459.9 L325.6,456.3 L326.0,455.0 L326.4,457.3 L326.8,461.0 L327.2,465.9 L327.6,467.9 L328.0,469.3 L328.4,470.6 L328.8,471.0 L329.2,472.2 L329.6,470.5 L330.0,473.9 L330.4,470.6 L330.8,471.3 L331.2,472.6 L331.6,470.9 L332.0,471.2 L332.4,471.6 L332.8,468.4 L333.2,470.4 L333.6,469.2 L334.0,468.7 L334.4,467.8 L334.8,466.1 L335.2,465.8 L335.6,466.2 L336.0,467.5 L336.4,468.3 L336.8,470.8 L337.2,469.8 L337.6,471.3 L338.0,473.1 L338.4,472.7 L338.8,470.7 L339.2,471.5 L339.6,472.9 L340.0,472.6 L340.4,473.0 L340.8,470.3 L341.2,470.7 L341.6,471.6 L342.0,470.7 L342.4,471.3 L342.8,470.6 L343.2,469.6 L343.6,467.0 L344.0,464.6 L344.4,461.5 L344.8,458.7 L345.2,458.2 L345.6,463.7 L346.0,466.2 L346.4,469.3 L346.8,471.2 L347.2,470.8 L347.6,473.7 L348.0,472.9 L348.4,472.4 L348.8,474.7 L349.2,473.0 L349.6,473.4 L350.0,473.8 L350.4,474.4 L350.8,471.1 L351.2,472.2 L351.6,473.7 L352.0,472.6 L352.4,470.4 L352.8,473.8 L353.2,474.1 L353.6,474.7 L354.0,474.1 L354.4,473.4 L354.8,473.8 L355.2,473.5 L355.6,472.9 L356.0,473.4 L356.4,473.4 L356.8,472.0 L357.2,473.9 L357.6,473.6 L358.0,473.5 L358.4,470.1 L358.8,472.8 L359.2,472.6 L359.6,471.8 L360.0,473.4 L360.4,471.5 L360.8,474.2 L361.2,473.5 L361.6,472.7 L362.0,474.6 L362.4,473.7 L362.8,473.6 L363.2,472.1 L363.6,474.0 L364.0,474.9 L364.4,474.6 L364.8,472.3 L365.2,474.7 L365.6,474.7 L366.0,473.8 L366.4,472.4 L366.8,471.1 L367.2,471.6 L367.6,472.0 L368.0,472.9 L368.4,473.4 L368.8,472.3 L369.2,471.6 L369.6,472.9 L370.0,472.1 L370.4,474.7 L370.8,472.3 L371.2,474.0 L371.6,474.5 L372.0,472.8 L372.4,474.8 L372.8,473.8 L373.2,473.3 L373.6,473.1 L374.0,474.1 L374.4,475.0 L374.8,472.0 L375.2,474.2 L375.6,473.3 L376.0,472.4 L376.4,472.9 L376.8,472.8 L377.2,472.7 L377.6,473.5 L378.0,471.9 L378.4,474.8 L378.8,473.9 L379.2,472.5 L379.6,471.2 L380.0,473.0 L380.4,472.6 L380.8,473.6 L381.2,473.6 L381.6,474.7 L382.0,472.8 L382.4,473.7 L382.8,472.7 L383.2,472.8 L383.6,474.7 L384.0,473.0 L384.4,473.0 L384.8,472.6 L385.2,473.2 L385.6,473.4 L386.0,472.7 L386.4,471.8 L386.8,473.3 L387.2,472.3 L387.6,472.9 L388.0,473.6 L388.4,473.7 L388.8,471.3 L389.2,475.3 L389.6,474.5 L390.0,475.7 L390.4,476.3 L390.8,472.9 L391.2,473.2 L391.6,473.9 L392.0,474.4 L392.4,472.9 L392.8,473.1 L393.2,474.4 L393.6,472.5 L394.0,473.6 L394.4,474.5 L394.8,473.2 L395.2,474.1 L395.6,473.2 L396.0,471.7 L396.4,472.6 L396.8,472.9 L397.2,472.8 L397.6,473.2 L398.0,473.6 L398.4,473.6 L398.8,473.6 L399.2,473.1 L399.6,473.4 L400.0,473.3 L400.4,473.1 L400.8,475.0 L401.2,471.9 L401.6,474.0 L402.0,472.2 L402.4,473.2 L402.8,474.6 L403.2,473.6 L403.6,475.2 L404.0,473.0 L404.4,473.7 L404.8,473.4 L405.2,474.2 L405.6,474.0 L406.0,474.1 L406.4,474.5 L406.8,475.5 L407.2,474.4 L407.6,474.1 L408.0,473.5 L408.4,472.8 L408.8,471.9 L409.2,472.1 L409.6,473.1 L410.0,471.2 L410.4,473.5 L410.8,472.4 L411.2,471.7 L411.6,471.7 L412.0,472.2 L412.4,471.0 L412.8,469.5 L413.2,469.2 L413.6,468.1 L414.0,463.6 L414.4,466.0 L414.8,465.8 L415.2,467.1 L415.6,469.5 L416.0,472.2 L416.4,471.8 L416.8,472.1 L417.2,474.2 L417.6,473.5 L418.0,473.1 L418.4,474.9 L418.8,473.6 L419.2,472.3 L419.6,471.9 L420.0,472.3 L420.4,472.7 L420.8,473.2 L421.2,472.7 L421.6,471.4 L422.0,469.3 L422.4,470.3 L422.8,468.7 L423.2,467.6 L423.6,468.2 L424.0,470.6 L424.4,471.6 L424.8,472.8 L425.2,471.3 L425.6,474.5 L426.0,471.0 L426.4,472.6 L426.8,473.8 L427.2,473.3 L427.6,471.3 L428.0,472.6 L428.4,473.1 L428.8,472.5 L429.2,470.8 L429.6,473.3 L430.0,470.2 L430.4,471.8 L430.8,470.8 L431.2,471.5 L431.6,471.6 L432.0,472.4 L432.4,470.6 L432.8,471.9 L433.2,472.7 L433.6,471.2 L434.0,471.3 L434.4,470.7 L434.8,469.0 L435.2,468.4 L435.6,467.4 L436.0,465.2 L436.4,462.4 L436.8,455.3 L437.2,443.8 L437.6,432.6 L438.0,422.4 L438.4,418.8 L438.8,429.1 L439.2,439.5 L439.6,447.8 L440.0,457.8 L440.4,465.5 L440.8,467.0 L441.2,469.1 L441.6,470.1 L442.0,470.0 L442.4,470.3 L442.8,471.2 L443.2,472.5 L443.6,472.4 L444.0,473.4 L444.4,474.4 L444.8,473.3 L445.2,473.4 L445.6,472.2 L446.0,471.2 L446.4,474.6 L446.8,473.2 L447.2,473.7 L447.6,472.3 L448.0,471.0 L448.4,474.0 L448.8,470.6 L449.2,472.5 L449.6,472.1 L450.0,472.7 L450.4,473.3 L450.8,473.4 L451.2,470.7 L451.6,473.8 L452.0,471.2 L452.4,473.8 L452.8,472.8 L453.2,472.1 L453.6,472.7 L454.0,471.8 L454.4,472.8 L454.8,473.3 L455.2,472.5 L455.6,471.0 L456.0,471.1 L456.4,470.0 L456.8,471.7 L457.2,470.8 L457.6,470.6 L458.0,471.5 L458.4,471.5 L458.8,472.2 L459.2,472.5 L459.6,473.3 L460.0,473.3 L460.4,472.6 L460.8,472.9 L461.2,471.8 L461.6,472.0 L462.0,470.2 L462.4,471.9 L462.8,472.3 L463.2,475.3 L463.6,471.6 L464.0,473.1 L464.4,472.7 L464.8,471.4 L465.2,473.1 L465.6,472.7 L466.0,471.2 L466.4,470.2 L466.8,472.4 L467.2,471.0 L467.6,473.1 L468.0,472.2 L468.4,473.0 L468.8,472.2 L469.2,474.0 L469.6,473.1 L470.0,473.9 L470.4,472.5 L470.8,471.3 L471.2,470.8 L471.6,471.5 L472.0,472.1 L472.4,471.1 L472.8,473.9 L473.2,471.2 L473.6,471.2 L474.0,470.0 L474.4,467.6 L474.8,468.7 L475.2,467.7 L475.6,468.4 L476.0,467.8 L476.4,469.9 L476.8,470.7 L477.2,472.5 L477.6,470.5 L478.0,472.8 L478.4,473.5 L478.8,472.0 L479.2,471.7 L479.6,473.7 L480.0,472.5 L480.4,473.3 L480.8,472.8 L481.2,473.0 L481.6,471.7 L482.0,469.7 L482.4,472.2 L482.8,470.9 L483.2,472.0 L483.6,470.9 L484.0,472.9 L484.4,471.1 L484.8,472.2 L485.2,472.6 L485.6,471.5 L486.0,472.1 L486.4,471.9 L486.8,471.1 L487.2,473.4 L487.6,471.1 L488.0,470.3 L488.4,470.9 L488.8,470.9 L489.2,469.8 L489.6,468.3 L490.0,467.4 L490.4,465.6 L490.8,469.0 L491.2,471.0 L491.6,469.4 L492.0,469.0 L492.4,471.8 L492.8,471.2 L493.2,467.7 L493.6,471.0 L494.0,470.6 L494.4,471.0 L494.8,474.1 L495.2,473.2 L495.6,472.1 L496.0,472.3 L496.4,473.8 L496.8,471.3 L497.2,473.1 L497.6,471.8 L498.0,473.3 L498.4,472.8 L498.8,471.9 L499.2,473.8 L499.6,473.3 L500.0,474.7 L500.4,472.5 L500.8,473.0 L501.2,472.2 L501.6,473.9 L502.0,471.8 L502.4,472.4 L502.8,473.5 L503.2,472.6 L503.6,472.3 L504.0,472.2 L504.4,472.2 L504.8,472.5 L505.2,471.6 L505.6,470.0 L506.0,473.3 L506.4,470.9 L506.8,473.8 L507.2,472.2 L507.6,474.9 L508.0,472.9 L508.4,472.1 L508.8,472.5 L509.2,470.1 L509.6,471.6 L510.0,470.9 L510.4,471.0 L510.8,468.4 L511.2,467.4 L511.6,468.8 L512.0,466.1 L512.4,463.1 L512.8,460.9 L513.2,458.9 L513.6,459.5 L514.0,462.8 L514.4,464.4 L514.8,467.5 L515.2,467.7 L515.6,467.6 L516.0,469.2 L516.4,470.0 L516.8,469.2 L517.2,470.1 L517.6,470.1 L518.0,471.7 L518.4,471.8 L518.8,472.3 L519.2,470.6 L519.6,471.8 L520.0,472.7 L520.4,471.3 L520.8,470.6 L521.2,469.3 L521.6,470.0 L522.0,468.7 L522.4,469.4 L522.8,468.8 L523.2,471.9 L523.6,470.7 L524.0,470.2 L524.4,472.2 L524.8,472.8 L525.2,473.8 L525.6,472.2 L526.0,472.2 L526.4,472.6 L526.8,472.6 L527.2,471.0 L527.6,473.9 L528.0,474.6 L528.4,472.6 L528.8,472.4 L529.2,473.1 L529.6,472.3 L530.0,473.7 L530.4,472.2 L530.8,473.3 L531.2,471.5 L531.6,471.5 L532.0,471.5 L532.4,471.7 L532.8,473.6 L533.2,474.0 L533.6,473.3 L534.0,473.2 L534.4,470.6 L534.8,473.8 L535.2,471.4 L535.6,473.9 L536.0,475.0 L536.4,472.7 L536.8,473.3 L537.2,473.3 L537.6,471.3 L538.0,471.4 L538.4,471.7 L538.8,472.4 L539.2,473.0 L539.6,472.3 L540.0,473.3 L540.4,471.7 L540.8,470.8 L541.2,472.2 L541.6,472.0 L542.0,470.6 L542.4,472.9 L542.8,470.9 L543.2,471.0 L543.6,471.9 L544.0,470.5 L544.4,472.1 L544.8,471.7 L545.2,471.6 L545.6,470.9 L546.0,470.1 L546.4,469.3 L546.8,469.9 L547.2,470.7 L547.6,470.3 L548.0,470.4 L548.4,471.7 L548.8,472.7 L549.2,470.6 L549.6,472.2 L550.0,473.7 L550.4,472.1 L550.8,472.4 L551.2,473.6 L551.6,472.9 L552.0,474.3 L552.4,472.9 L552.8,473.8 L553.2,475.6 L553.6,474.2 L554.0,471.7 L554.4,471.9 L554.8,471.8 L555.2,472.5 L555.6,470.8 L556.0,472.1 L556.4,472.6 L556.8,471.6 L557.2,468.7 L557.6,469.1 L558.0,469.6 L558.4,469.8 L558.8,473.0 L559.2,471.3 L559.6,471.3 L560.0,473.1 L560.4,473.3 L560.8,474.6 L561.2,474.7 L561.6,473.1 L562.0,471.3 L562.4,474.0 L562.8,474.2 L563.2,475.1 L563.6,471.8 L564.0,472.1 L564.4,474.6 L564.8,474.4 L565.2,474.0 L565.6,472.5 L566.0,473.8 L566.4,472.0 L566.8,471.4 L567.2,472.7 L567.6,472.9 L568.0,473.5 L568.4,473.8 L568.8,470.9 L569.2,472.8 L569.6,473.0 L570.0,471.3 L570.4,472.4 L570.8,472.7 L571.2,473.0 L571.6,471.7 L572.0,471.8 L572.4,471.1 L572.8,472.3 L573.2,471.5 L573.6,471.1 L574.0,472.3 L574.4,471.6 L574.8,470.9 L575.2,473.4 L575.6,473.6 L576.0,473.4 L576.4,472.1 L576.8,474.3 L577.2,472.8 L577.6,471.6 L578.0,473.3 L578.4,475.1 L578.8,472.9 L579.2,473.7 L579.6,474.3 L580.0,473.1 L580.4,472.5 L580.8,472.9 L581.2,473.6 L581.6,472.7 L582.0,473.8 L582.4,474.2 L582.8,473.5 L583.2,474.6 L583.6,474.4 L584.0,473.4 L584.4,473.3 L584.8,473.5 L585.2,473.1 L585.6,473.0 L586.0,472.2 L586.4,473.3 L586.8,473.8 L587.2,473.7 L587.6,472.3 L588.0,473.6 L588.4,473.6 L588.8,472.2 L589.2,473.6 L589.6,473.0 L590.0,472.8 L590.4,473.4 L590.8,473.0 L591.2,471.1 L591.6,473.5 L592.0,472.3 L592.4,473.4 L592.8,474.2 L593.2,473.4 L593.6,473.2 L594.0,473.9 L594.4,474.3 L594.8,473.1 L595.2,473.4 L595.6,474.5 L596.0,475.5 L596.4,474.0 L596.8,474.7 L597.2,473.1 L597.6,473.8 L598.0,473.8 L598.4,472.4 L598.8,473.5 L599.2,473.3 L599.6,470.9 L600.0,473.2 L600.4,473.5 L600.8,473.4 L601.2,473.4 L601.6,472.1 L602.0,472.5 L602.4,473.1 L602.8,472.5 L603.2,473.0 L603.6,474.6 L604.0,472.6 L604.4,473.2 L604.8,475.3 L605.2,473.5 L605.6,472.7 L606.0,473.9 L606.4,473.8 L606.8,473.7 L607.2,471.9 L607.6,473.6 L608.0,473.6 L608.4,475.0 L608.8,473.7 L609.2,472.6 L609.6,473.3 L610.0,473.6 L610.4,472.9 L610.8,473.1 L611.2,474.6 L611.6,473.9 L612.0,474.1 L612.4,472.9 L612.8,474.3 L613.2,472.2 L613.6,475.1 L614.0,473.5 L614.4,474.5 L614.8,475.2 L615.2,472.8 L615.6,474.8 L616.0,473.8 L616.4,474.6 L616.8,473.0 L617.2,472.6 L617.6,474.4 L618.0,473.5 L618.4,473.1 L618.8,471.9 L619.2,474.1 L619.6,472.3 L620.0,472.1 L620.4,471.2 L620.8,471.2 L621.2,471.0 L621.6,469.7 L622.0,469.5 L622.4,469.4 L622.8,472.1 L623.2,473.0 L623.6,471.8 L624.0,471.7 L624.4,473.0 L624.8,471.4 L625.2,473.3 L625.6,473.5 L626.0,473.5 L626.4,474.9 L626.8,475.2 L627.2,473.9 L627.6,473.1 L628.0,474.3 L628.4,474.4 L628.8,472.1 L629.2,472.6 L629.6,473.0 L630.0,471.8 L630.4,472.4 L630.8,475.1 L631.2,472.5 L631.6,474.6 L632.0,473.2 L632.4,474.9 L632.8,474.4 L633.2,475.0 L633.6,472.8 L634.0,474.3 L634.4,473.4 L634.8,474.5 L635.2,474.3 L635.6,473.7 L636.0,473.2 L636.4,473.2 L636.8,473.3 L637.2,472.4 L637.6,472.4 L638.0,472.2 L638.4,471.9 L638.8,474.0 L639.2,472.0 L639.6,474.6 L640.0,474.2 L640.4,472.1 L640.8,472.1 L641.2,473.9 L641.6,472.9 L642.0,474.2 L642.4,475.0 L642.8,474.5 L643.2,474.0 L643.6,474.0 L644.0,475.5 L644.4,473.6 L644.8,475.5 L645.2,475.7 L645.6,473.5 L646.0,474.1 L646.4,475.5 L646.8,473.2 L647.2,474.3 L647.6,475.0 L648.0,473.0 L648.4,474.4 L648.8,474.2 L649.2,473.7 L649.6,475.6 L650.0,474.1 L650.4,476.4 L650.8,474.9 L651.2,473.5 L651.6,474.3 L652.0,473.1 L652.4,474.5 L652.8,474.2 L653.2,472.4 L653.6,473.1 L654.0,474.0 L654.4,473.6 L654.8,472.7 L655.2,474.7 L655.6,475.1 L656.0,472.5 L656.4,475.2 L656.8,472.0 L657.2,473.8 L657.6,473.3 L658.0,473.3 L658.4,474.0 L658.8,472.7 L659.2,473.6 L659.6,475.2 L660.0,474.1 L660.4,475.1 L660.8,474.7 L661.2,472.6 L661.6,475.9 L662.0,475.2 L662.4,475.2 L662.8,474.3 L663.2,474.2 L663.6,473.8 L664.0,474.6 L664.4,474.9 L664.8,474.6 L665.2,474.6 L665.6,472.8 L666.0,473.8 L666.4,473.6 L666.8,474.4 L667.2,473.4 L667.6,473.2 L668.0,473.5 L668.4,472.8 L668.8,472.9 L669.2,474.1 L669.6,473.0 L670.0,472.5 L670.4,474.1 L670.8,474.6 L671.2,474.7 L671.6,473.1 L672.0,475.3 L672.4,474.5 L672.8,474.5 L673.2,474.3 L673.6,474.4 L674.0,474.2 L674.4,475.0 L674.8,473.8 L675.2,473.4 L675.6,474.1 L676.0,473.4 L676.4,474.4 L676.8,473.5 L677.2,474.0 L677.6,472.8 L678.0,474.2 L678.4,473.9 L678.8,472.6 L679.2,473.1 L679.6,473.7 L680.0,472.6 L680.4,473.1 L680.8,474.8 L681.2,475.1 L681.6,476.1 L682.0,473.8 L682.4,474.7 L682.8,473.1 L683.2,476.4 L683.6,473.4 L684.0,474.2 L684.4,476.0 L684.8,475.5 L685.2,473.4 L685.6,476.3 L686.0,474.7 L686.4,473.4 L686.8,474.7 L687.2,475.2 L687.6,475.2 L688.0,472.8 L688.4,476.5 L688.8,473.4 L689.2,474.7 L689.6,476.2 L690.0,475.2 L690.4,474.7 L690.8,474.1 L691.2,475.0 L691.6,475.6 L692.0,473.6 L692.4,474.4 L692.8,473.6 L693.2,473.4 L693.6,471.9 L694.0,474.0 L694.4,474.7 L694.8,473.8 L695.2,475.0 L695.6,474.5 L696.0,475.6 L696.4,474.8 L696.8,474.4 L697.2,474.4 L697.6,474.9 L698.0,475.1 L698.4,474.1 L698.8,474.6 L699.2,473.5 L699.6,473.4 L700.0,475.1 L700.4,474.8 L700.8,475.3 L701.2,474.6 L701.6,474.7 L702.0,476.1 L702.4,473.6 L702.8,474.6 L703.2,475.7 L703.6,476.0 L704.0,474.6 L704.4,474.0 L704.8,473.2 L705.2,474.1 L705.6,474.4 L706.0,474.3 L706.4,474.8 L706.8,474.9 L707.2,473.9 L707.6,473.4 L708.0,473.8 L708.4,474.4 L708.8,475.3 L709.2,472.1 L709.6,474.4 L710.0,473.0 L710.4,474.2 L710.8,474.9 L711.2,473.7 L711.6,472.2 L712.0,473.0 L712.4,473.9 L712.8,473.4 L713.2,473.7 L713.6,473.2 L714.0,473.7 L714.4,473.4 L714.8,474.8 L715.2,474.3 L715.6,474.8 L716.0,472.8 L716.4,474.0 L716.8,473.9 L717.2,474.3 L717.6,474.0 L718.0,474.2 L718.4,476.4 L718.8,474.7 L719.2,473.8 L719.6,474.7 L720.0,476.9 L720.4,475.4 L720.8,473.8 L721.2,474.3 L721.6,474.3 L722.0,474.2 L722.4,472.3 L722.8,473.1 L723.2,473.7 L723.6,472.3 L724.0,473.7 L724.4,474.0 L724.8,474.7 L725.2,475.0 L725.6,473.8 L726.0,474.2 L726.4,474.5 L726.8,474.8 L727.2,473.9 L727.6,473.1 L728.0,474.4 L728.4,474.6 L728.8,474.0 L729.2,474.5 L729.6,475.4 L730.0,473.5 L730.4,473.4 L730.8,473.2 L731.2,474.7 L731.6,475.4 L732.0,474.2 L732.4,476.4 L732.8,474.3 L733.2,475.0 L733.6,474.6 L734.0,475.9 L734.4,474.1 L734.8,476.2 L735.2,474.7 L735.6,473.7 L736.0,474.4 L736.4,474.8 L736.8,476.5 L737.2,474.5 L737.6,474.9 L738.0,476.7 L738.4,474.9 L738.8,474.0 L739.2,473.8 L739.6,472.8 L740.0,474.3 L740.4,474.8 L740.8,473.2 L741.2,472.3 L741.6,473.3 L742.0,472.9 L742.4,472.6 L742.8,473.0 L743.2,472.5 L743.6,471.9 L744.0,472.8 L744.4,469.7 L744.8,469.6 L745.2,469.2 L745.6,466.7 L746.0,467.3 L746.4,461.7 L746.8,462.2 L747.2,460.7 L747.6,460.5 L748.0,462.0 L748.4,463.2 L748.8,465.3 L749.2,469.2 L749.6,469.4 L750.0,469.4 L750.4,470.4 L750.8,470.7 L751.2,472.7 L751.6,473.7 L752.0,472.6 L752.4,473.0 L752.8,472.5 L753.2,473.9 L753.6,474.1 L754.0,474.4 L754.4,475.6 L754.8,473.2 L755.2,475.4 L755.6,473.5 L756.0,475.7 L756.4,475.9 L756.8,475.7 L757.2,475.7 L757.6,474.8 L758.0,474.2 L758.4,475.4 L758.8,474.1 L759.2,475.2 L759.6,473.8 L760.0,475.0 L760.4,475.0 L760.8,474.1 L761.2,474.6 L761.6,475.7 L762.0,474.9 L762.4,475.3 L762.8,474.2 L763.2,474.7 L763.6,473.3 L764.0,473.9 L764.4,475.7 L764.8,475.0 L765.2,474.5 L765.6,474.5 L766.0,473.1 L766.4,474.6 L766.8,473.1 L767.2,473.5 L767.6,474.8 L768.0,473.5 L768.4,473.7 L768.8,474.1 L769.2,474.3 L769.6,475.5 L770.0,472.8 L770.4,474.1 L770.8,475.0 L771.2,474.1 L771.6,474.1 L772.0,473.6 L772.4,473.8 L772.8,474.4 L773.2,474.7 L773.6,473.6 L774.0,474.3 L774.4,473.2 L774.8,471.7 L775.2,474.0 L775.6,471.7 L776.0,473.6 L776.4,473.7 L776.8,472.7 L777.2,473.6 L777.6,473.3 L778.0,474.0 L778.4,473.7 L778.8,474.6 L779.2,473.7 L779.6,474.5 L780.0,473.9 L780.4,474.1 L780.8,474.0 L781.2,473.6 L781.6,475.2 L782.0,474.9 L782.4,472.5 L782.8,473.5 L783.2,476.2 L783.6,474.3 L784.0,477.0 L784.4,474.7 L784.8,474.6 L785.2,473.7 L785.6,473.9 L786.0,474.3 L786.4,475.0 L786.8,474.4 L787.2,474.4 L787.6,473.6 L788.0,474.2 L788.4,474.3 L788.8,474.5 L789.2,474.0 L789.6,473.6 L790.0,474.3 L790.4,472.3 L790.8,473.1 L791.2,473.7 L791.6,474.8 L792.0,473.8 L792.4,473.4 L792.8,475.0 L793.2,474.2 L793.6,475.5 L794.0,474.0 L794.4,473.5 L794.8,473.7 L795.2,475.5 L795.6,475.2 L796.0,474.0 L796.4,474.8 L796.8,472.7 L797.2,475.3 L797.6,474.7 L798.0,474.6 L798.4,474.9 L798.8,475.2 L799.2,474.6 L799.6,474.7 L800.0,473.9"/>
<path stroke="#424242" d="M52.4,557.7 L52.8,560.1 L53.2,564.3 L53.6,565.8 L54.0,567.3 L54.4,566.9 L54.8,566.8 L55.2,567.1 L55.6,569.2 L56.0,570.6 L56.4,569.8 L56.8,569.0 L57.2,570.0 L57.6,573.1 L58.0,572.4 L58.4,571.3 L58.8,573.3 L59.2,572.4 L59.6,573.0 L60.0,573.2 L60.4,573.1 L60.8,574.3 L61.2,573.9 L61.6,573.6 L62.0,574.6 L62.4,575.2 L62.8,573.5 L63.2,574.9 L63.6,574.7 L64.0,575.7 L64.4,575.3 L64.8,576.7 L65.2,577.0 L65.6,577.2 L66.0,577.0 L66.4,577.6 L66.8,577.3 L67.2,577.2 L67.6,578.3 L68.0,577.5 L68.4,579.2 L68.8,579.0 L69.2,577.3 L69.6,578.9 L70.0,578.1 L70.4,578.9 L70.8,579.0 L71.2,577.8 L71.6,579.1 L72.0,579.2 L72.4,580.1 L72.8,578.9 L73.2,580.2 L73.6,579.2 L74.0,579.8 L74.4,579.6 L74.8,581.1 L75.2,580.7 L75.6,581.9 L76.0,580.9 L76.4,581.1 L76.8,581.1 L77.2,580.3 L77.6,580.6 L78.0,581.4 L78.4,580.4 L78.8,580.8 L79.2,580.7 L79.6,581.1 L80.0,580.6 L80.4,580.8 L80.8,581.0 L81.2,580.9 L81.6,580.4 L82.0,581.3 L82.4,580.1 L82.8,580.2 L83.2,580.2 L83.6,581.5 L84.0,580.8 L84.4,580.6 L84.8,580.5 L85.2,581.4 L85.6,580.6 L86.0,580.6 L86.4,581.7 L86.8,580.8 L87.2,581.3 L87.6,581.4 L88.0,581.1 L88.4,581.2 L88.8,581.8 L89.2,580.8 L89.6,580.3 L90.0,580.0 L90.4,580.9 L90.8,580.9 L91.2,581.4 L91.6,581.1 L92.0,581.2 L92.4,581.1 L92.8,581.2 L93.2,581.4 L93.6,581.1 L94.0,581.3 L94.4,582.2 L94.8,581.5 L95.2,580.5 L95.6,582.2 L96.0,581.5 L96.4,580.9 L96.8,581.8 L97.2,581.3 L97.6,580.9 L98.0,580.9 L98.4,580.7 L98.8,581.3 L99.2,581.8 L99.6,581.1 L100.0,581.5 L100.4,582.2 L100.8,580.8 L101.2,581.5 L101.6,581.3 L102.0,581.0 L102.4,581.1 L102.8,581.6 L103.2,581.8 L103.6,581.4 L104.0,581.6 L104.4,581.9 L104.8,581.7 L105.2,581.9 L105.6,581.7 L106.0,581.8 L106.4,582.5 L106.8,582.0 L107.2,581.8 L107.6,582.1 L108.0,581.4 L108.4,581.6 L108.8,582.2 L109.2,582.1 L109.6,582.5 L110.0,581.7 L110.4,581.0 L110.8,582.5 L111.2,582.0 L111.6,581.0 L112.0,582.1 L112.4,581.6 L112.8,580.8 L113.2,581.4 L113.6,581.4 L114.0,582.3 L114.4,581.2 L114.8,581.5 L115.2,581.5 L115.6,581.5 L116.0,581.3 L116.4,581.8 L116.8,582.2 L117.2,582.0 L117.6,581.3 L118.0,581.2 L118.4,581.8 L118.8,581.4 L119.2,581.5 L119.6,581.0 L120.0,582.7 L120.4,582.2 L120.8,581.3 L121.2,582.1 L121.6,582.3 L122.0,580.6 L122.4,581.5 L122.8,581.6 L123.2,582.2 L123.6,582.0 L124.0,582.0 L124.4,582.2 L124.8,583.1 L125.2,583.2 L125.6,582.0 L126.0,581.8 L126.4,583.6 L126.8,582.0 L127.2,582.3 L127.6,582.7 L128.0,582.9 L128.4,583.1 L128.8,582.7 L129.2,582.0 L129.6,582.5 L130.0,582.2 L130.4,582.9 L130.8,582.1 L131.2,581.5 L131.6,581.7 L132.0,583.0 L132.4,582.2 L132.8,581.7 L133.2,582.5 L133.6,582.8 L134.0,583.3 L134.4,582.3 L134.8,583.0 L135.2,583.0 L135.6,582.2 L136.0,582.3 L136.4,583.0 L136.8,582.9 L137.2,582.4 L137.6,582.1 L138.0,582.5 L138.4,581.9 L138.8,581.9 L139.2,581.6 L139.6,582.0 L140.0,581.9 L140.4,583.2 L140.8,581.9 L141.2,582.5 L141.6,582.5 L142.0,581.8 L142.4,582.4 L142.8,580.8 L143.2,581.8 L143.6,582.2 L144.0,580.7 L144.4,581.3 L144.8,582.3 L145.2,581.8 L145.6,581.5 L146.0,581.8 L146.4,581.8 L146.8,582.4 L147.2,582.3 L147.6,582.0 L148.0,581.9 L148.4,582.2 L148.8,582.9 L149.2,582.5 L149.6,582.7 L150.0,582.3 L150.4,581.8 L150.8,582.1 L151.2,582.7 L151.6,582.4 L152.0,581.9 L152.4,581.5 L152.8,582.1 L153.2,581.6 L153.6,581.2 L154.0,580.6 L154.4,580.0 L154.8,578.6 L155.2,576.5 L155.6,572.9 L156.0,568.5 L156.4,564.2 L156.8,562.6 L157.2,565.8 L157.6,570.7 L158.0,574.5 L158.4,577.8 L158.8,579.9 L159.2,580.1 L159.6,580.3 L160.0,582.0 L160.4,581.8 L160.8,582.4 L161.2,581.7 L161.6,583.2 L162.0,582.8 L162.4,582.5 L162.8,582.5 L163.2,582.8 L163.6,582.8 L164.0,582.9 L164.4,582.7 L164.8,583.8 L165.2,583.3 L165.6,583.3 L166.0,583.3 L166.4,582.1 L166.8,583.3 L167.2,582.9 L167.6,583.0 L168.0,583.1 L168.4,582.7 L168.8,583.6 L169.2,582.9 L169.6,582.9 L170.0,582.9 L170.4,583.4 L170.8,583.6 L171.2,583.0 L171.6,582.5 L172.0,583.6 L172.4,582.7 L172.8,583.7 L173.2,583.1 L173.6,582.8 L174.0,582.8 L174.4,583.3 L174.8,583.5 L175.2,583.0 L175.6,583.5 L176.0,584.1 L176.4,583.1 L176.8,582.7 L177.2,582.8 L177.6,582.7 L178.0,583.1 L178.4,583.1 L178.8,582.9 L179.2,583.7 L179.6,582.3 L180.0,582.8 L180.4,584.2 L180.8,583.8 L181.2,583.5 L181.6,583.5 L182.0,584.2 L182.4,583.7 L182.8,583.6 L183.2,583.1 L183.6,583.6 L184.0,583.4 L184.4,583.4 L184.8,583.4 L185.2,583.7 L185.6,583.7 L186.0,584.4 L186.4,583.5 L186.8,584.1 L187.2,585.0 L187.6,584.2 L188.0,584.7 L188.4,584.6 L188.8,584.6 L189.2,584.2 L189.6,583.2 L190.0,583.6 L190.4,583.4 L190.8,582.7 L191.2,583.1 L191.6,582.6 L192.0,582.3 L192.4,583.0 L192.8,582.9 L193.2,582.6 L193.6,582.5 L194.0,582.7 L194.4,582.8 L194.8,582.8 L195.2,583.0 L195.6,582.8 L196.0,583.2 L196.4,583.3 L196.8,583.2 L197.2,582.7 L197.6,582.7 L198.0,583.0 L198.4,582.4 L198.8,582.2 L199.2,580.8 L199.6,580.3 L200.0,581.3 L200.4,580.8 L200.8,580.8 L201.2,579.8 L201.6,578.8 L202.0,577.5 L202.4,574.9 L202.8,572.5 L203.2,565.2 L203.6,554.0 L204.0,535.9 L204.4,514.3 L204.8,499.9 L205.2,504.7 L205.6,524.7 L206.0,545.0 L206.4,560.0 L206.8,569.8 L207.2,573.8 L207.6,577.1 L208.0,578.4 L208.4,579.4 L208.8,580.1 L209.2,579.8 L209.6,580.8 L210.0,581.7 L210.4,580.9 L210.8,581.5 L211.2,581.3 L211.6,581.9 L212.0,581.4 L212.4,582.6 L212.8,581.7 L213.2,581.2 L213.6,582.6 L214.0,582.2 L214.4,581.9 L214.8,581.7 L215.2,581.2 L215.6,581.1 L216.0,581.4 L216.4,581.3 L216.8,581.0 L217.2,580.3 L217.6,579.3 L218.0,578.1 L218.4,576.4 L218.8,573.0 L219.2,567.6 L219.6,563.4 L220.0,563.1 L220.4,565.8 L220.8,570.4 L221.2,573.7 L221.6,577.1 L222.0,578.9 L222.4,580.4 L222.8,580.1 L223.2,581.8 L223.6,581.6 L224.0,581.8 L224.4,581.1 L224.8,581.6 L225.2,582.2 L225.6,580.9 L226.0,581.8 L226.4,582.0 L226.8,581.4 L227.2,582.1 L227.6,581.6 L228.0,582.4 L228.4,582.1 L228.8,582.0 L229.2,582.9 L229.6,582.4 L230.0,582.6 L230.4,581.5 L230.8,581.7 L231.2,582.4 L231.6,582.4 L232.0,581.9 L232.4,582.2 L232.8,581.3 L233.2,581.8 L233.6,581.1 L234.0,581.8 L234.4,581.4 L234.8,581.3 L235.2,581.7 L235.6,582.6 L236.0,581.3 L236.4,581.6 L236.8,582.3 L237.2,581.6 L237.6,582.5 L238.0,581.8 L238.4,581.8 L238.8,581.9 L239.2,582.5 L239.6,582.1 L240.0,582.0 L240.4,581.9 L240.8,581.0 L241.2,581.2 L241.6,582.1 L242.0,581.7 L242.4,581.4 L242.8,581.4 L243.2,580.8 L243.6,581.2 L244.0,580.6 L244.4,581.1 L244.8,580.4 L245.2,580.5 L245.6,580.6 L246.0,580.1 L246.4,580.3 L246.8,580.0 L247.2,579.8 L247.6,580.0 L248.0,578.6 L248.4,578.4 L248.8,579.2 L249.2,579.1 L249.6,579.4 L250.0,578.5 L250.4,578.3 L250.8,577.3 L251.2,577.7 L251.6,577.4 L252.0,576.4 L252.4,576.3 L252.8,576.4 L253.2,576.3 L253.6,574.6 L254.0,575.6 L254.4,575.4 L254.8,574.9 L255.2,574.8 L255.6,574.5 L256.0,573.5 L256.4,573.9 L256.8,573.4 L257.2,573.0 L257.6,573.4 L258.0,573.8 L258.4,572.4 L258.8,572.2 L259.2,572.0 L259.6,573.4 L260.0,572.0 L260.4,571.4 L260.8,570.2 L261.2,568.7 L261.6,565.8 L262.0,562.8 L262.4,556.6 L262.8,546.6 L263.2,535.8 L263.6,525.0 L264.0,519.8 L264.4,523.3 L264.8,531.8 L265.2,538.5 L265.6,540.0 L266.0,535.1 L266.4,522.1 L266.8,505.3 L267.2,488.3 L267.6,477.8 L268.0,482.5 L268.4,498.8 L268.8,519.6 L269.2,539.1 L269.6,552.9 L270.0,562.1 L270.4,568.2 L270.8,571.4 L271.2,574.6 L271.6,576.5 L272.0,577.9 L272.4,578.0 L272.8,578.6 L273.2,578.8 L273.6,580.4 L274.0,581.2 L274.4,580.6 L274.8,581.4 L275.2,581.7 L275.6,581.7 L276.0,581.1 L276.4,582.2 L276.8,582.7 L277.2,581.8 L277.6,582.0 L278.0,580.9 L278.4,583.0 L278.8,582.7 L279.2,582.5 L279.6,582.4 L280.0,582.3 L280.4,582.6 L280.8,582.6 L281.2,582.7 L281.6,582.9 L282.0,583.1 L282.4,583.8 L282.8,582.5 L283.2,583.3 L283.6,582.9 L284.0,582.7 L284.4,582.1 L284.8,583.4 L285.2,582.7 L285.6,582.8 L286.0,583.4 L286.4,582.7 L286.8,583.2 L287.2,583.2 L287.6,583.7 L288.0,583.9 L288.4,583.1 L288.8,584.0 L289.2,583.7 L289.6,583.8 L290.0,583.7 L290.4,584.1 L290.8,583.2 L291.2,583.8 L291.6,584.2 L292.0,583.6 L292.4,584.6 L292.8,583.3 L293.2,583.6 L293.6,583.2 L294.0,583.1 L294.4,582.7 L294.8,583.0 L295.2,583.2 L295.6,582.9 L296.0,583.7 L296.4,584.1 L296.8,582.8 L297.2,584.0 L297.6,583.7 L298.0,583.8 L298.4,584.9 L298.8,584.4 L299.2,584.1 L299.6,584.2 L300.0,583.2 L300.4,584.5 L300.8,583.7 L301.2,584.1 L301.6,584.0 L302.0,584.3 L302.4,584.7 L302.8,584.2 L303.2,584.3 L303.6,583.6 L304.0,583.9 L304.4,584.0 L304.8,583.0 L305.2,584.6 L305.6,583.3 L306.0,583.0 L306.4,584.3 L306.8,584.4 L307.2,583.1 L307.6,583.0 L308.0,584.5 L308.4,582.9 L308.8,581.6 L309.2,581.8 L309.6,582.2 L310.0,580.4 L310.4,578.4 L310.8,575.3 L311.2,570.1 L311.6,563.0 L312.0,554.9 L312.4,550.3 L312.8,549.8 L313.2,555.9 L313.6,564.4 L314.0,570.5 L314.4,575.2 L314.8,578.4 L315.2,580.5 L315.6,581.6 L316.0,581.2 L316.4,582.3 L316.8,583.2 L317.2,583.0 L317.6,582.5 L318.0,582.7 L318.4,582.2 L318.8,582.9 L319.2,584.1 L319.6,583.4 L320.0,583.2 L320.4,583.3 L320.8,583.5 L321.2,583.4 L321.6,583.2 L322.0,582.9 L322.4,583.3 L322.8,583.5 L323.2,582.2 L323.6,581.7 L324.0,581.5 L324.4,578.7 L324.8,576.6 L325.2,573.6 L325.6,571.0 L326.0,570.0 L326.4,571.7 L326.8,575.4 L327.2,577.5 L327.6,579.3 L328.0,580.4 L328.4,582.4 L328.8,581.7 L329.2,582.9 L329.6,583.2 L330.0,583.3 L330.4,583.0 L330.8,582.9 L331.2,583.3 L331.6,583.2 L332.0,583.0 L332.4,584.2 L332.8,583.3 L333.2,584.3 L333.6,583.4 L334.0,582.2 L334.4,581.5 L334.8,580.6 L335.2,578.6 L335.6,579.0 L336.0,579.9 L336.4,581.5 L336.8,582.5 L337.2,582.9 L337.6,582.9 L338.0,583.2 L338.4,584.1 L338.8,584.1 L339.2,583.6 L339.6,583.0 L340.0,583.8 L340.4,583.7 L340.8,583.6 L341.2,584.2 L341.6,583.6 L342.0,582.5 L342.4,581.9 L342.8,581.8 L343.2,579.5 L343.6,577.1 L344.0,573.2 L344.4,569.6 L344.8,569.3 L345.2,572.1 L345.6,575.0 L346.0,577.5 L346.4,580.1 L346.8,581.4 L347.2,582.5 L347.6,583.4 L348.0,584.1 L348.4,583.6 L348.8,583.5 L349.2,584.0 L349.6,584.2 L350.0,584.2 L350.4,584.6 L350.8,584.7 L351.2,584.3 L351.6,585.1 L352.0,584.7 L352.4,584.4 L352.8,585.0 L353.2,584.6 L353.6,585.5 L354.0,585.0 L354.4,584.8 L354.8,584.4 L355.2,584.5 L355.6,585.0 L356.0,584.3 L356.4,584.9 L356.8,583.6 L357.2,584.7 L357.6,585.0 L358.0,584.8 L358.4,584.6 L358.8,585.0 L359.2,584.1 L359.6,584.0 L360.0,584.4 L360.4,584.9 L360.8,584.6 L361.2,584.4 L361.6,584.7 L362.0,584.8 L362.4,584.1 L362.8,583.4 L363.2,584.2 L363.6,583.9 L364.0,584.3 L364.4,584.0 L364.8,584.2 L365.2,584.7 L365.6,584.6 L366.0,584.5 L366.4,585.3 L366.8,584.3 L367.2,584.3 L367.6,585.0 L368.0,584.0 L368.4,583.7 L368.8,585.1 L369.2,584.7 L369.6,584.9 L370.0,585.0 L370.4,585.3 L370.8,584.7 L371.2,585.0 L371.6,584.5 L372.0,585.1 L372.4,585.1 L372.8,584.7 L373.2,585.1 L373.6,586.0 L374.0,584.1 L374.4,584.9 L374.8,584.9 L375.2,585.0 L375.6,584.1 L376.0,585.0 L376.4,584.8 L376.8,584.4 L377.2,584.3 L377.6,584.5 L378.0,584.8 L378.4,584.8 L378.8,585.5 L379.2,584.3 L379.6,584.8 L380.0,584.4 L380.4,584.9 L380.8,584.6 L381.2,584.2 L381.6,583.8 L382.0,584.0 L382.4,584.4 L382.8,585.0 L383.2,584.6 L383.6,583.8 L384.0,584.1 L384.4,584.3 L384.8,584.3 L385.2,584.3 L385.6,584.6 L386.0,584.4 L386.4,584.0 L386.8,583.4 L387.2,584.2 L387.6,583.8 L388.0,584.5 L388.4,584.8 L388.8,584.2 L389.2,584.7 L389.6,584.6 L390.0,585.6 L390.4,585.0 L390.8,583.9 L391.2,584.9 L391.6,584.9 L392.0,584.6 L392.4,584.5 L392.8,584.9 L393.2,584.9 L393.6,584.8 L394.0,584.2 L394.4,584.5 L394.8,583.9 L395.2,583.9 L395.6,584.3 L396.0,584.1 L396.4,584.4 L396.8,585.7 L397.2,584.9 L397.6,584.3 L398.0,583.7 L398.4,584.3 L398.8,584.1 L399.2,583.8 L399.6,585.2 L400.0,584.7 L400.4,585.2 L400.8,586.5 L401.2,585.2 L401.6,585.1 L402.0,585.1 L402.4,584.7 L402.8,584.3 L403.2,584.5 L403.6,585.0 L404.0,584.3 L404.4,583.8 L404.8,583.9 L405.2,584.0 L405.6,584.5 L406.0,584.7 L406.4,584.7 L406.8,585.0 L407.2,584.3 L407.6,584.7 L408.0,584.4 L408.4,584.5 L408.8,583.3 L409.2,584.6 L409.6,583.2 L410.0,583.3 L410.4,584.0 L410.8,583.4 L411.2,584.3 L411.6,583.4 L412.0,582.6 L412.4,582.5 L412.8,581.2 L413.2,580.6 L413.6,578.7 L414.0,576.4 L414.4,574.7 L414.8,575.2 L415.2,577.1 L415.6,578.2 L416.0,579.8 L416.4,581.8 L416.8,582.6 L417.2,582.8 L417.6,583.2 L418.0,582.7 L418.4,584.3 L418.8,583.9 L419.2,583.4 L419.6,583.5 L420.0,583.4 L420.4,584.3 L420.8,583.3 L421.2,581.6 L421.6,582.1 L422.0,581.0 L422.4,579.4 L422.8,578.8 L423.2,581.2 L423.6,581.4 L424.0,582.4 L424.4,582.9 L424.8,584.2 L425.2,584.6 L425.6,584.5 L426.0,584.1 L426.4,584.4 L426.8,584.6 L427.2,583.6 L427.6,584.9 L428.0,584.2 L428.4,584.5 L428.8,584.5 L429.2,584.8 L429.6,584.8 L430.0,585.2 L430.4,583.9 L430.8,583.6 L431.2,584.1 L431.6,583.7 L432.0,584.3 L432.4,583.5 L432.8,583.7 L433.2,583.9 L433.6,583.7 L434.0,583.1 L434.4,583.2 L434.8,582.7 L435.2,580.5 L435.6,580.0 L436.0,577.5 L436.4,573.4 L436.8,567.6 L437.2,560.7 L437.6,554.0 L438.0,550.9 L438.4,554.4 L438.8,561.1 L439.2,567.5 L439.6,573.2 L440.0,577.9 L440.4,579.6 L440.8,581.4 L441.2,582.4 L441.6,583.2 L442.0,583.3 L442.4,583.9 L442.8,583.2 L443.2,583.9 L443.6,583.4 L444.0,583.9 L444.4,583.9 L444.8,583.6 L445.2,582.9 L445.6,584.5 L446.0,584.2 L446.4,584.1 L446.8,583.7 L447.2,583.9 L447.6,584.2 L448.0,584.1 L448.4,584.6 L448.8,584.2 L449.2,583.7 L449.6,584.3 L450.0,583.6 L450.4,583.9 L450.8,582.9 L451.2,583.5 L451.6,583.9 L452.0,583.3 L452.4,583.6 L452.8,583.9 L453.2,583.7 L453.6,584.5 L454.0,583.5 L454.4,583.3 L454.8,582.9 L455.2,581.3 L455.6,580.5 L456.0,580.3 L456.4,579.2 L456.8,580.2 L457.2,580.5 L457.6,581.5 L458.0,583.0 L458.4,583.3 L458.8,584.3 L459.2,583.3 L459.6,584.2 L460.0,584.4 L460.4,584.3 L460.8,584.6 L461.2,584.6 L461.6,584.1 L462.0,583.9 L462.4,584.6 L462.8,584.2 L463.2,584.6 L463.6,584.8 L464.0,584.3 L464.4,583.9 L464.8,584.2 L465.2,584.7 L465.6,584.3 L466.0,585.0 L466.4,584.5 L466.8,584.5 L467.2,584.2 L467.6,584.4 L468.0,584.9 L468.4,584.2 L468.8,584.2 L469.2,584.0 L469.6,584.7 L470.0,583.7 L470.4,584.0 L470.8,584.7 L471.2,584.8 L471.6,583.9 L472.0,584.1 L472.4,582.3 L472.8,582.7 L473.2,581.2 L473.6,578.9 L474.0,576.9 L474.4,576.2 L474.8,576.5 L475.2,577.8 L475.6,579.4 L476.0,581.2 L476.4,582.3 L476.8,582.2 L477.2,583.1 L477.6,583.4 L478.0,584.3 L478.4,583.8 L478.8,584.6 L479.2,584.3 L479.6,585.3 L480.0,584.3 L480.4,584.3 L480.8,584.3 L481.2,584.4 L481.6,585.4 L482.0,584.0 L482.4,583.8 L482.8,584.0 L483.2,584.3 L483.6,583.5 L484.0,584.3 L484.4,584.2 L484.8,583.8 L485.2,583.7 L485.6,583.4 L486.0,583.6 L486.4,583.3 L486.8,584.1 L487.2,584.2 L487.6,583.2 L488.0,583.0 L488.4,581.8 L488.8,581.7 L489.2,581.2 L489.6,580.2 L490.0,579.4 L490.4,579.8 L490.8,580.3 L491.2,581.2 L491.6,583.2 L492.0,582.4 L492.4,583.2 L492.8,583.7 L493.2,583.9 L493.6,583.9 L494.0,584.2 L494.4,584.0 L494.8,584.3 L495.2,584.6 L495.6,584.4 L496.0,584.4 L496.4,584.0 L496.8,583.9 L497.2,584.3 L497.6,584.9 L498.0,584.6 L498.4,585.0 L498.8,584.9 L499.2,585.0 L499.6,584.1 L500.0,585.0 L500.4,584.8 L500.8,585.4 L501.2,584.7 L501.6,584.6 L502.0,584.3 L502.4,584.5 L502.8,583.6 L503.2,584.3 L503.6,584.4 L504.0,584.9 L504.4,584.1 L504.8,584.4 L505.2,585.1 L505.6,583.9 L506.0,584.4 L506.4,583.7 L506.8,583.8 L507.2,583.9 L507.6,584.0 L508.0,583.3 L508.4,583.0 L508.8,584.1 L509.2,583.4 L509.6,583.6 L510.0,583.6 L510.4,583.3 L510.8,582.5 L511.2,582.0 L511.6,580.4 L512.0,579.9 L512.4,577.9 L512.8,576.4 L513.2,576.2 L513.6,576.1 L514.0,577.3 L514.4,578.5 L514.8,581.1 L515.2,582.7 L515.6,582.6 L516.0,583.7 L516.4,583.7 L516.8,584.0 L517.2,584.0 L517.6,583.5 L518.0,583.9 L518.4,583.4 L518.8,584.5 L519.2,584.1 L519.6,583.2 L520.0,582.6 L520.4,581.5 L520.8,580.6 L521.2,579.9 L521.6,579.9 L522.0,580.7 L522.4,581.1 L522.8,582.0 L523.2,582.8 L523.6,583.6 L524.0,583.6 L524.4,584.8 L524.8,584.1 L525.2,584.1 L525.6,584.5 L526.0,584.9 L526.4,585.3 L526.8,584.9 L527.2,584.1 L527.6,584.3 L528.0,584.8 L528.4,584.5 L528.8,584.7 L529.2,584.3 L529.6,585.1 L530.0,585.0 L530.4,584.9 L530.8,584.5 L531.2,583.7 L531.6,583.8 L532.0,584.6 L532.4,584.7 L532.8,583.2 L533.2,584.4 L533.6,585.1 L534.0,585.1 L534.4,584.6 L534.8,585.1 L535.2,584.9 L535.6,584.8 L536.0,585.4 L536.4,585.4 L536.8,584.6 L537.2,584.3 L537.6,584.1 L538.0,583.9 L538.4,584.9 L538.8,585.1 L539.2,584.2 L539.6,584.6 L540.0,583.8 L540.4,584.2 L540.8,584.8 L541.2,584.7 L541.6,584.6 L542.0,583.9 L542.4,584.0 L542.8,584.3 L543.2,584.2 L543.6,584.2 L544.0,583.9 L544.4,583.9 L544.8,583.9 L545.2,583.9 L545.6,583.5 L546.0,582.8 L546.4,582.4 L546.8,582.4 L547.2,581.5 L547.6,581.1 L548.0,581.5 L548.4,582.6 L548.8,583.1 L549.2,583.8 L549.6,583.5 L550.0,584.5 L550.4,583.9 L550.8,584.2 L551.2,584.2 L551.6,584.8 L552.0,585.2 L552.4,584.7 L552.8,584.5 L553.2,583.9 L553.6,584.6 L554.0,584.3 L554.4,584.2 L554.8,583.8 L555.2,583.5 L555.6,583.5 L556.0,583.4 L556.4,583.1 L556.8,581.9 L557.2,581.3 L557.6,580.6 L558.0,580.7 L558.4,580.8 L558.8,582.6 L559.2,583.3 L559.6,584.3 L560.0,583.8 L560.4,584.3 L560.8,584.0 L561.2,584.6 L561.6,584.4 L562.0,584.8 L562.4,584.5 L562.8,584.9 L563.2,584.5 L563.6,585.0 L564.0,584.7 L564.4,584.7 L564.8,584.9 L565.2,585.1 L565.6,584.3 L566.0,584.2 L566.4,584.9 L566.8,584.7 L567.2,583.8 L567.6,583.9 L568.0,584.3 L568.4,584.8 L568.8,584.7 L569.2,585.2 L569.6,585.3 L570.0,585.9 L570.4,584.3 L570.8,584.9 L571.2,585.4 L571.6,584.3 L572.0,584.2 L572.4,584.9 L572.8,585.2 L573.2,585.2 L573.6,583.9 L574.0,584.1 L574.4,584.6 L574.8,584.4 L575.2,584.8 L575.6,584.7 L576.0,585.5 L576.4,584.7 L576.8,584.8 L577.2,584.7 L577.6,585.1 L578.0,584.2 L578.4,584.8 L578.8,584.4 L579.2,584.2 L579.6,585.4 L580.0,585.2 L580.4,585.7 L580.8,585.2 L581.2,585.3 L581.6,585.0 L582.0,585.2 L582.4,584.6 L582.8,585.5 L583.2,584.3 L583.6,585.4 L584.0,584.6 L584.4,585.1 L584.8,584.8 L585.2,584.9 L585.6,585.4 L586.0,584.7 L586.4,584.2 L586.8,584.7 L587.2,584.8 L587.6,583.5 L588.0,585.0 L588.4,585.2 L588.8,584.0 L589.2,584.8 L589.6,585.3 L590.0,584.4 L590.4,584.7 L590.8,584.7 L591.2,585.1 L591.6,585.4 L592.0,585.0 L592.4,585.1 L592.8,585.5 L593.2,585.3 L593.6,585.0 L594.0,585.7 L594.4,584.4 L594.8,585.1 L595.2,584.9 L595.6,584.9 L596.0,585.2 L596.4,585.1 L596.8,586.1 L597.2,585.2 L597.6,585.0 L598.0,585.6 L598.4,585.3 L598.8,584.0 L599.2,584.9 L599.6,585.2 L600.0,584.6 L600.4,584.9 L600.8,584.6 L601.2,584.9 L601.6,583.9 L602.0,583.6 L602.4,584.1 L602.8,584.4 L603.2,584.9 L603.6,584.2 L604.0,584.0 L604.4,584.9 L604.8,584.6 L605.2,585.6 L605.6,584.8 L606.0,584.0 L606.4,584.5 L606.8,584.4 L607.2,584.2 L607.6,584.4 L608.0,584.5 L608.4,584.6 L608.8,584.5 L609.2,584.8 L609.6,584.6 L610.0,584.1 L610.4,583.5 L610.8,581.9 L611.2,581.2 L611.6,580.8 L612.0,581.1 L612.4,580.6 L612.8,581.9 L613.2,583.0 L613.6,584.5 L614.0,584.3 L614.4,584.3 L614.8,585.2 L615.2,584.9 L615.6,584.7 L616.0,585.2 L616.4,584.3 L616.8,584.7 L617.2,584.5 L617.6,584.8 L618.0,583.8 L618.4,583.7 L618.8,584.1 L619.2,584.1 L619.6,584.1 L620.0,583.6 L620.4,583.5 L620.8,583.0 L621.2,582.0 L621.6,580.8 L622.0,581.5 L622.4,580.7 L622.8,582.0 L623.2,583.3 L623.6,583.3 L624.0,584.7 L624.4,585.3 L624.8,585.4 L625.2,585.0 L625.6,585.3 L626.0,584.7 L626.4,585.2 L626.8,585.2 L627.2,585.1 L627.6,585.1 L628.0,584.9 L628.4,584.1 L628.8,585.1 L629.2,585.0 L629.6,585.8 L630.0,585.2 L630.4,585.0 L630.8,585.4 L631.2,585.3 L631.6,585.1 L632.0,585.0 L632.4,584.6 L632.8,585.4 L633.2,586.1 L633.6,584.6 L634.0,585.0 L634.4,585.7 L634.8,585.4 L635.2,585.4 L635.6,584.3 L636.0,584.7 L636.4,585.1 L636.8,585.2 L637.2,585.1 L637.6,584.7 L638.0,585.5 L638.4,584.8 L638.8,585.1 L639.2,585.0 L639.6,586.2 L640.0,585.3 L640.4,585.4 L640.8,584.3 L641.2,585.7 L641.6,585.4 L642.0,584.4 L642.4,584.4 L642.8,585.9 L643.2,584.7 L643.6,585.9 L644.0,584.7 L644.4,583.7 L644.8,585.2 L645.2,584.8 L645.6,584.9 L646.0,584.3 L646.4,584.4 L646.8,585.0 L647.2,584.3 L647.6,583.9 L648.0,585.3 L648.4,584.7 L648.8,585.6 L649.2,584.9 L649.6,584.9 L650.0,584.9 L650.4,583.9 L650.8,585.5 L651.2,584.6 L651.6,584.8 L652.0,585.5 L652.4,584.8 L652.8,585.2 L653.2,584.9 L653.6,585.1 L654.0,584.9 L654.4,585.3 L654.8,584.7 L655.2,585.1 L655.6,584.6 L656.0,585.5 L656.4,584.0 L656.8,585.0 L657.2,585.2 L657.6,585.2 L658.0,585.2 L658.4,585.9 L658.8,586.3 L659.2,585.1 L659.6,584.5 L660.0,584.8 L660.4,584.8 L660.8,585.0 L661.2,584.9 L661.6,585.4 L662.0,584.7 L662.4,584.9 L662.8,585.0 L663.2,584.6 L663.6,584.9 L664.0,586.4 L664.4,585.1 L664.8,584.7 L665.2,584.2 L665.6,585.6 L666.0,585.0 L666.4,584.8 L666.8,586.2 L667.2,585.7 L667.6,584.3 L668.0,584.9 L668.4,585.6 L668.8,585.6 L669.2,584.8 L669.6,586.2 L670.0,586.2 L670.4,584.9 L670.8,584.5 L671.2,584.6 L671.6,585.4 L672.0,585.6 L672.4,585.1 L672.8,584.8 L673.2,585.1 L673.6,585.5 L674.0,584.8 L674.4,584.7 L674.8,585.5 L675.2,586.2 L675.6,585.8 L676.0,585.8 L676.4,585.4 L676.8,586.1 L677.2,584.9 L677.6,585.6 L678.0,585.3 L678.4,585.4 L678.8,585.0 L679.2,585.7 L679.6,585.3 L680.0,585.0 L680.4,585.5 L680.8,585.2 L681.2,585.0 L681.6,585.0 L682.0,585.6 L682.4,584.7 L682.8,585.0 L683.2,584.9 L683.6,585.1 L684.0,584.8 L684.4,585.9 L684.8,584.1 L685.2,585.2 L685.6,584.9 L686.0,585.4 L686.4,584.3 L686.8,585.6 L687.2,584.5 L687.6,585.6 L688.0,585.6 L688.4,585.4 L688.8,585.1 L689.2,585.0 L689.6,585.3 L690.0,584.9 L690.4,584.2 L690.8,584.2 L691.2,585.3 L691.6,585.3 L692.0,585.2 L692.4,585.1 L692.8,585.4 L693.2,585.5 L693.6,585.5 L694.0,585.0 L694.4,585.1 L694.8,584.8 L695.2,585.4 L695.6,584.8 L696.0,585.2 L696.4,585.8 L696.8,585.0 L697.2,585.6 L697.6,585.9 L698.0,584.4 L698.4,584.6 L698.8,585.4 L699.2,584.9 L699.6,585.4 L700.0,585.5 L700.4,584.9 L700.8,585.5 L701.2,586.0 L701.6,585.7 L702.0,584.9 L702.4,585.4 L702.8,585.3 L703.2,586.4 L703.6,585.6 L704.0,585.5 L704.4,585.8 L704.8,586.0 L705.2,585.5 L705.6,585.7 L706.0,585.6 L706.4,585.9 L706.8,585.9 L707.2,585.6 L707.6,585.2 L708.0,585.6 L708.4,584.9 L708.8,585.7 L709.2,585.3 L709.6,585.3 L710.0,584.1 L710.4,586.3 L710.8,586.0 L711.2,585.9 L711.6,585.4 L712.0,585.7 L712.4,586.7 L712.8,585.1 L713.2,585.8 L713.6,585.7 L714.0,585.5 L714.4,585.6 L714.8,584.9 L715.2,585.6 L715.6,584.6 L716.0,585.9 L716.4,585.4 L716.8,584.6 L717.2,584.0 L717.6,585.0 L718.0,585.2 L718.4,584.6 L718.8,585.9 L719.2,585.3 L719.6,585.1 L720.0,584.7 L720.4,585.3 L720.8,585.3 L721.2,585.6 L721.6,585.7 L722.0,585.2 L722.4,585.3 L722.8,585.7 L723.2,585.3 L723.6,584.9 L724.0,585.4 L724.4,584.9 L724.8,585.4 L725.2,585.3 L725.6,584.8 L726.0,585.6 L726.4,585.3 L726.8,585.6 L727.2,584.7 L727.6,585.9 L728.0,586.0 L728.4,585.3 L728.8,585.5 L729.2,585.6 L729.6,585.5 L730.0,585.9 L730.4,585.1 L730.8,584.8 L731.2,585.2 L731.6,586.1 L732.0,585.0 L732.4,584.7 L732.8,584.7 L733.2,585.1 L733.6,585.6 L734.0,584.7 L734.4,585.1 L734.8,585.2 L735.2,585.3 L735.6,585.1 L736.0,585.5 L736.4,585.4 L736.8,584.8 L737.2,586.2 L737.6,584.5 L738.0,584.5 L738.4,585.6 L738.8,585.2 L739.2,585.0 L739.6,585.2 L740.0,585.4 L740.4,584.9 L740.8,584.8 L741.2,584.5 L741.6,584.5 L742.0,584.4 L742.4,585.2 L742.8,584.7 L743.2,584.8 L743.6,584.1 L744.0,584.7 L744.4,583.1 L744.8,583.5 L745.2,582.8 L745.6,581.1 L746.0,579.5 L746.4,578.7 L746.8,576.7 L747.2,575.7 L747.6,576.0 L748.0,576.4 L748.4,578.2 L748.8,580.7 L749.2,581.0 L749.6,582.7 L750.0,582.7 L750.4,583.9 L750.8,584.2 L751.2,584.6 L751.6,585.2 L752.0,586.0 L752.4,585.0 L752.8,585.7 L753.2,585.2 L753.6,585.3 L754.0,584.8 L754.4,584.6 L754.8,584.8 L755.2,584.6 L755.6,584.9 L756.0,584.4 L756.4,584.9 L756.8,584.9 L757.2,585.6 L757.6,585.6 L758.0,585.0 L758.4,584.6 L758.8,585.1 L759.2,585.2 L759.6,584.7 L760.0,584.5 L760.4,584.1 L760.8,585.0 L761.2,586.0 L761.6,585.2 L762.0,585.6 L762.4,585.8 L762.8,585.9 L763.2,586.1 L763.6,584.9 L764.0,585.7 L764.4,585.8 L764.8,585.5 L765.2,586.0 L765.6,585.2 L766.0,585.7 L766.4,586.1 L766.8,585.2 L767.2,585.4 L767.6,585.2 L768.0,585.7 L768.4,584.4 L768.8,584.7 L769.2,585.1 L769.6,585.7 L770.0,585.5 L770.4,584.9 L770.8,586.1 L771.2,585.5 L771.6,585.2 L772.0,585.8 L772.4,586.1 L772.8,585.5 L773.2,584.8 L773.6,585.2 L774.0,585.4 L774.4,585.8 L774.8,584.9 L775.2,585.4 L775.6,584.8 L776.0,585.3 L776.4,584.7 L776.8,585.1 L777.2,584.7 L777.6,585.0 L778.0,584.7 L778.4,584.6 L778.8,586.1 L779.2,586.2 L779.6,585.9 L780.0,585.5 L780.4,586.2 L780.8,585.4 L781.2,585.6 L781.6,585.8 L782.0,585.3 L782.4,585.8 L782.8,585.0 L783.2,585.0 L783.6,585.1 L784.0,584.6 L784.4,584.7 L784.8,585.6 L785.2,584.5 L785.6,585.8 L786.0,585.5 L786.4,586.0 L786.8,585.8 L787.2,585.8 L787.6,586.3 L788.0,585.5 L788.4,585.5 L788.8,586.1 L789.2,585.3 L789.6,586.1 L790.0,585.8 L790.4,585.2 L790.8,584.8 L791.2,584.4 L791.6,586.1 L792.0,584.5 L792.4,584.5 L792.8,585.4 L793.2,585.2 L793.6,585.1 L794.0,585.0 L794.4,584.9 L794.8,584.7 L795.2,584.9 L795.6,585.5 L796.0,585.8 L796.4,585.9 L796.8,585.3 L797.2,584.3 L797.6,585.5 L798.0,585.1 L798.4,583.9 L798.8,585.7 L799.2,585.2 L799.6,585.1 L800.0,585.3"/>
</g>
<rect x="194.4" y="57.5" width="19.9" height="538" fill="rgb(222,162,0)" fill-opacity="0.28"/>
<g fill="none" stroke-width="3.8" stroke-linejoin="round" stroke-linecap="butt">
<path stroke="#B46BE0" d="M845.0,141.6 L845.4,142.6 L845.7,142.6 L846.1,141.3 L846.4,141.4 L846.8,141.1 L847.1,141.7 L847.5,141.2 L847.8,141.6 L848.2,139.7 L848.5,142.0 L848.9,140.7 L849.2,141.2 L849.6,140.6 L849.9,140.4 L850.3,141.1 L850.6,141.5 L851.0,140.9 L851.3,141.2 L851.7,141.9 L852.0,140.9 L852.4,140.5 L852.7,141.8 L853.1,141.1 L853.4,140.3 L853.8,141.1 L854.1,141.4 L854.5,140.9 L854.8,140.6 L855.2,141.5 L855.5,141.9 L855.9,141.0 L856.2,140.7 L856.6,141.5 L856.9,141.8 L857.3,141.0 L857.6,141.6 L858.0,141.9 L858.3,141.0 L858.7,140.6 L859.0,141.5 L859.4,141.5 L859.7,142.1 L860.1,140.5 L860.4,141.0 L860.8,140.9 L861.1,140.2 L861.5,141.4 L861.8,141.6 L862.2,140.6 L862.5,141.9 L862.9,141.3 L863.2,141.0 L863.6,140.7 L863.9,140.9 L864.3,139.1 L864.6,140.4 L865.0,140.3 L865.3,138.7 L865.7,140.3 L866.0,140.0 L866.4,140.9 L866.7,140.1 L867.1,140.5 L867.4,140.9 L867.8,140.1 L868.1,141.1 L868.5,140.6 L868.8,141.1 L869.2,140.3 L869.5,141.4 L869.9,140.9 L870.2,140.2 L870.6,140.6 L870.9,141.0 L871.3,141.3 L871.6,139.0 L872.0,140.9 L872.3,140.8 L872.7,140.6 L873.0,140.1 L873.4,141.8 L873.7,140.1 L874.1,141.4 L874.4,141.9 L874.8,139.7 L875.1,140.6 L875.5,139.7 L875.8,140.7 L876.2,141.5 L876.5,141.8 L876.9,139.1 L877.2,140.0 L877.6,141.0 L877.9,141.6 L878.3,140.8 L878.6,140.0 L879.0,140.5 L879.3,140.2 L879.7,139.9 L880.0,139.4 L880.4,140.2 L880.7,140.2 L881.1,139.9 L881.4,139.8 L881.8,139.0 L882.1,139.5 L882.5,140.7 L882.8,139.8 L883.2,138.9 L883.5,140.9 L883.9,140.4 L884.2,141.4 L884.6,139.9 L884.9,139.5 L885.3,138.8 L885.6,140.9 L886.0,141.9 L886.3,139.8 L886.7,140.1 L887.0,141.1 L887.4,140.1 L887.7,140.5 L888.1,140.4 L888.4,140.7 L888.8,141.2 L889.1,140.3 L889.5,140.9 L889.8,139.8 L890.2,140.2 L890.5,138.4 L890.9,138.7 L891.2,140.1 L891.6,138.8 L891.9,139.3 L892.3,139.0 L892.6,139.3 L893.0,138.8 L893.3,138.9 L893.7,138.1 L894.0,137.9 L894.4,138.1 L894.7,138.6 L895.1,138.5 L895.4,139.1 L895.8,139.5 L896.1,139.6 L896.5,139.1 L896.8,137.8 L897.2,138.9 L897.5,139.0 L897.9,139.6 L898.2,139.2 L898.6,138.4 L898.9,138.3 L899.3,140.2 L899.6,139.3 L900.0,139.8 L900.3,139.8 L900.7,137.4 L901.0,137.9 L901.4,137.6 L901.7,137.4 L902.1,137.2 L902.4,136.9 L902.8,137.0 L903.1,136.0 L903.5,137.1 L903.8,136.8 L904.2,137.4 L904.5,136.9 L904.9,137.5 L905.2,137.5 L905.6,136.9 L905.9,136.6 L906.3,136.3 L906.6,135.8 L907.0,135.8 L907.3,135.5 L907.7,136.0 L908.0,135.6 L908.4,135.9 L908.7,134.3 L909.1,135.7 L909.4,134.3 L909.8,134.1 L910.1,134.1 L910.5,133.4 L910.8,133.5 L911.2,132.3 L911.5,131.3 L911.9,130.8 L912.2,131.7 L912.6,130.3 L912.9,129.0 L913.3,129.4 L913.6,128.0 L914.0,129.9 L914.3,127.2 L914.7,128.1 L915.0,127.6 L915.4,125.7 L915.7,126.2 L916.1,126.0 L916.4,124.9 L916.8,123.9 L917.1,123.5 L917.5,122.0 L917.8,121.0 L918.2,119.3 L918.5,118.3 L918.9,115.5 L919.2,114.8 L919.6,111.9 L919.9,109.1 L920.3,107.0 L920.6,104.3 L921.0,99.8 L921.3,94.9 L921.7,91.7 L922.0,86.7 L922.4,83.0 L922.7,80.3 L923.1,76.9 L923.4,77.5 L923.8,75.5 L924.1,74.7 L924.5,73.1 L924.8,72.2 L925.2,71.8 L925.5,72.5 L925.9,72.6 L926.2,71.0 L926.6,71.5 L926.9,70.3 L927.3,68.9 L927.6,70.3 L928.0,70.6 L928.3,70.2 L928.7,71.0 L929.0,71.7 L929.4,71.2 L929.7,71.3 L930.1,72.7 L930.4,73.2 L930.8,73.6 L931.1,75.2 L931.5,76.6 L931.8,76.2 L932.2,78.5 L932.5,81.3 L932.9,86.8 L933.2,93.2 L933.6,96.5 L933.9,100.7 L934.3,104.5 L934.6,106.3 L935.0,107.6 L935.3,110.5 L935.7,112.9 L936.0,114.2 L936.4,115.4 L936.7,118.7 L937.1,118.4 L937.4,121.2 L937.8,122.2 L938.1,122.5 L938.5,125.4 L938.8,125.8 L939.2,125.8 L939.5,127.9 L939.9,128.1 L940.2,127.8 L940.6,129.3 L940.9,130.4 L941.3,131.0 L941.6,131.0 L942.0,131.1 L942.3,131.6 L942.7,131.3 L943.0,132.5 L943.4,132.1 L943.7,132.5 L944.1,133.1 L944.4,132.4 L944.8,133.1 L945.1,135.2 L945.5,134.9 L945.8,134.9 L946.2,135.8 L946.5,135.7 L946.9,136.6 L947.2,136.2 L947.6,137.1 L947.9,136.0 L948.3,138.3 L948.6,137.3 L949.0,136.9 L949.3,138.1 L949.7,138.2 L950.0,138.6 L950.4,137.7 L950.7,138.7 L951.1,141.0 L951.4,137.5 L951.8,138.6 L952.1,138.0 L952.5,138.3 L952.8,136.7 L953.2,137.1 L953.5,138.1 L953.9,137.6 L954.2,138.8 L954.6,137.1 L954.9,137.8 L955.3,139.8 L955.6,137.3 L956.0,137.3 L956.3,138.1 L956.7,138.2 L957.0,138.9 L957.4,138.5 L957.7,138.0 L958.1,138.8 L958.4,140.6 L958.8,139.7 L959.1,136.9 L959.5,138.7 L959.8,138.2 L960.2,139.3 L960.5,138.8 L960.9,140.3 L961.2,139.7 L961.6,139.8 L961.9,139.3 L962.3,139.1 L962.6,139.4 L963.0,140.0 L963.3,139.5 L963.7,138.9 L964.0,140.1 L964.4,139.4 L964.7,139.2 L965.1,138.7 L965.4,138.8 L965.8,138.7 L966.1,137.0 L966.5,139.4 L966.8,138.8 L967.2,138.0 L967.5,138.7 L967.9,138.2 L968.2,138.2 L968.6,136.4 L968.9,138.2 L969.3,139.1 L969.6,140.1 L970.0,140.5 L970.3,140.4 L970.7,138.7 L971.0,138.0 L971.4,139.9 L971.7,139.5 L972.1,140.1 L972.4,139.3 L972.8,139.6 L973.1,138.5 L973.5,140.0 L973.8,139.4 L974.2,140.1 L974.5,140.4 L974.9,140.2 L975.2,140.8 L975.6,140.8 L975.9,141.4 L976.3,141.1 L976.6,140.1 L977.0,139.7 L977.3,141.0 L977.7,139.5 L978.0,140.1 L978.4,139.7 L978.7,139.2 L979.1,139.3 L979.4,140.2 L979.8,140.5 L980.1,140.8 L980.5,139.6 L980.8,140.0 L981.2,140.3 L981.5,141.4 L981.9,138.6 L982.2,140.7 L982.6,140.1 L982.9,141.1 L983.3,140.6 L983.6,141.4 L984.0,142.3 L984.3,141.4 L984.7,141.3 L985.0,141.2 L985.4,140.3 L985.7,141.1 L986.1,140.6 L986.4,140.4 L986.8,141.2 L987.1,141.4 L987.5,142.4 L987.8,142.2 L988.2,142.1 L988.5,143.7 L988.9,143.5 L989.2,143.7 L989.6,143.2 L989.9,142.6 L990.3,142.2 L990.6,142.2 L991.0,142.8 L991.3,142.0 L991.7,140.5 L992.0,141.2 L992.4,139.9 L992.7,140.7 L993.1,139.5 L993.4,139.3 L993.8,140.2 L993.9,140.1"/>
<path stroke="#2EAE6A" d="M845.0,248.8 L845.4,249.9 L845.7,249.6 L846.1,249.5 L846.4,250.4 L846.8,247.6 L847.1,248.1 L847.5,247.4 L847.8,248.5 L848.2,249.5 L848.5,248.4 L848.9,248.8 L849.2,246.3 L849.6,248.2 L849.9,246.9 L850.3,249.3 L850.6,247.9 L851.0,247.5 L851.3,246.0 L851.7,246.3 L852.0,246.2 L852.4,245.2 L852.7,245.3 L853.1,246.1 L853.4,246.1 L853.8,246.6 L854.1,247.3 L854.5,247.2 L854.8,248.8 L855.2,246.6 L855.5,249.1 L855.9,247.7 L856.2,247.8 L856.6,246.9 L856.9,247.9 L857.3,247.6 L857.6,247.8 L858.0,247.0 L858.3,247.6 L858.7,249.4 L859.0,248.1 L859.4,247.2 L859.7,248.8 L860.1,247.8 L860.4,248.6 L860.8,248.8 L861.1,248.0 L861.5,246.6 L861.8,248.4 L862.2,249.4 L862.5,248.5 L862.9,249.2 L863.2,249.6 L863.6,247.9 L863.9,249.5 L864.3,249.8 L864.6,249.2 L865.0,249.1 L865.3,249.0 L865.7,250.0 L866.0,248.0 L866.4,247.8 L866.7,248.5 L867.1,247.0 L867.4,246.3 L867.8,246.9 L868.1,248.1 L868.5,248.3 L868.8,246.3 L869.2,246.0 L869.5,247.6 L869.9,247.8 L870.2,248.0 L870.6,248.8 L870.9,249.5 L871.3,248.6 L871.6,249.0 L872.0,247.4 L872.3,247.3 L872.7,248.8 L873.0,249.2 L873.4,249.2 L873.7,248.9 L874.1,248.9 L874.4,248.8 L874.8,246.1 L875.1,247.1 L875.5,248.2 L875.8,248.3 L876.2,246.2 L876.5,248.8 L876.9,247.2 L877.2,247.5 L877.6,248.3 L877.9,248.9 L878.3,246.9 L878.6,249.3 L879.0,248.2 L879.3,247.1 L879.7,247.4 L880.0,245.2 L880.4,246.5 L880.7,247.2 L881.1,246.1 L881.4,246.3 L881.8,246.2 L882.1,246.2 L882.5,246.9 L882.8,245.6 L883.2,245.2 L883.5,245.8 L883.9,247.3 L884.2,244.8 L884.6,245.8 L884.9,244.0 L885.3,247.5 L885.6,247.5 L886.0,248.9 L886.3,248.2 L886.7,247.6 L887.0,249.6 L887.4,249.3 L887.7,247.2 L888.1,246.1 L888.4,247.6 L888.8,246.6 L889.1,249.1 L889.5,245.6 L889.8,245.5 L890.2,245.7 L890.5,243.8 L890.9,244.3 L891.2,246.4 L891.6,244.1 L891.9,243.1 L892.3,241.9 L892.6,243.2 L893.0,242.9 L893.3,242.4 L893.7,241.8 L894.0,242.7 L894.4,243.1 L894.7,242.4 L895.1,244.1 L895.4,241.7 L895.8,242.9 L896.1,244.2 L896.5,244.6 L896.8,243.8 L897.2,245.5 L897.5,246.3 L897.9,245.8 L898.2,245.5 L898.6,246.0 L898.9,245.4 L899.3,243.7 L899.6,244.4 L900.0,245.6 L900.3,242.8 L900.7,243.8 L901.0,243.1 L901.4,242.5 L901.7,242.4 L902.1,243.5 L902.4,243.9 L902.8,244.0 L903.1,242.4 L903.5,243.5 L903.8,243.8 L904.2,243.9 L904.5,243.0 L904.9,242.5 L905.2,242.1 L905.6,241.3 L905.9,239.1 L906.3,239.5 L906.6,238.2 L907.0,235.8 L907.3,235.6 L907.7,238.3 L908.0,233.9 L908.4,231.4 L908.7,231.5 L909.1,231.8 L909.4,228.2 L909.8,226.4 L910.1,223.4 L910.5,220.7 L910.8,218.6 L911.2,214.5 L911.5,209.9 L911.9,207.1 L912.2,203.4 L912.6,198.1 L912.9,194.5 L913.3,190.5 L913.6,185.7 L914.0,183.7 L914.3,178.7 L914.7,174.8 L915.0,170.2 L915.4,167.0 L915.7,166.4 L916.1,161.0 L916.4,160.9 L916.8,159.2 L917.1,159.4 L917.5,159.0 L917.8,157.5 L918.2,158.3 L918.5,159.3 L918.9,160.4 L919.2,161.6 L919.6,163.0 L919.9,166.5 L920.3,171.3 L920.6,175.0 L921.0,177.4 L921.3,180.8 L921.7,182.3 L922.0,184.2 L922.4,187.1 L922.7,186.8 L923.1,189.1 L923.4,190.9 L923.8,194.8 L924.1,198.4 L924.5,204.5 L924.8,206.9 L925.2,209.0 L925.5,214.3 L925.9,213.7 L926.2,218.4 L926.6,220.8 L926.9,222.4 L927.3,223.3 L927.6,224.8 L928.0,225.8 L928.3,228.0 L928.7,226.0 L929.0,228.9 L929.4,230.8 L929.7,231.3 L930.1,231.3 L930.4,234.0 L930.8,234.5 L931.1,236.9 L931.5,238.1 L931.8,237.3 L932.2,235.7 L932.5,237.9 L932.9,237.6 L933.2,239.7 L933.6,241.2 L933.9,240.4 L934.3,242.8 L934.6,242.8 L935.0,242.5 L935.3,241.4 L935.7,242.8 L936.0,241.7 L936.4,244.6 L936.7,244.2 L937.1,246.0 L937.4,245.4 L937.8,243.6 L938.1,246.5 L938.5,247.0 L938.8,247.7 L939.2,244.9 L939.5,244.7 L939.9,245.5 L940.2,244.4 L940.6,244.2 L940.9,244.8 L941.3,248.9 L941.6,246.2 L942.0,246.2 L942.3,247.0 L942.7,247.5 L943.0,248.7 L943.4,248.1 L943.7,247.6 L944.1,246.5 L944.4,246.4 L944.8,245.6 L945.1,244.7 L945.5,248.4 L945.8,246.1 L946.2,247.8 L946.5,246.7 L946.9,247.1 L947.2,247.2 L947.6,246.2 L947.9,247.8 L948.3,248.4 L948.6,248.9 L949.0,248.4 L949.3,248.7 L949.7,247.6 L950.0,246.9 L950.4,244.6 L950.7,245.7 L951.1,247.7 L951.4,246.3 L951.8,247.1 L952.1,246.3 L952.5,246.2 L952.8,249.1 L953.2,247.7 L953.5,249.0 L953.9,248.2 L954.2,247.5 L954.6,245.5 L954.9,247.6 L955.3,245.6 L955.6,244.5 L956.0,247.6 L956.3,246.7 L956.7,246.3 L957.0,245.6 L957.4,245.6 L957.7,246.3 L958.1,246.3 L958.4,246.6 L958.8,247.6 L959.1,244.6 L959.5,247.9 L959.8,246.3 L960.2,247.7 L960.5,247.9 L960.9,245.8 L961.2,247.3 L961.6,247.3 L961.9,245.8 L962.3,246.1 L962.6,246.7 L963.0,244.5 L963.3,246.3 L963.7,247.0 L964.0,246.4 L964.4,245.3 L964.7,246.5 L965.1,248.4 L965.4,248.2 L965.8,246.6 L966.1,245.7 L966.5,246.3 L966.8,246.1 L967.2,245.4 L967.5,245.7 L967.9,246.7 L968.2,247.0 L968.6,243.6 L968.9,247.0 L969.3,246.2 L969.6,247.2 L970.0,246.2 L970.3,247.0 L970.7,248.5 L971.0,244.2 L971.4,249.1 L971.7,247.8 L972.1,245.9 L972.4,245.0 L972.8,247.9 L973.1,246.5 L973.5,248.5 L973.8,247.7 L974.2,247.4 L974.5,248.6 L974.9,247.7 L975.2,248.2 L975.6,248.1 L975.9,247.5 L976.3,247.9 L976.6,248.0 L977.0,245.9 L977.3,247.2 L977.7,247.5 L978.0,247.4 L978.4,246.3 L978.7,247.4 L979.1,248.3 L979.4,248.2 L979.8,249.5 L980.1,247.3 L980.5,247.3 L980.8,247.0 L981.2,246.9 L981.5,246.4 L981.9,244.9 L982.2,247.0 L982.6,247.6 L982.9,247.7 L983.3,245.4 L983.6,246.2 L984.0,248.1 L984.3,246.0 L984.7,246.5 L985.0,246.0 L985.4,247.3 L985.7,247.3 L986.1,248.8 L986.4,247.1 L986.8,247.2 L987.1,245.7 L987.5,246.7 L987.8,246.6 L988.2,247.2 L988.5,246.3 L988.9,248.7 L989.2,246.2 L989.6,247.3 L989.9,245.7 L990.3,247.3 L990.6,248.8 L991.0,246.6 L991.3,248.0 L991.7,247.9 L992.0,248.4 L992.4,248.7 L992.7,247.7 L993.1,248.2 L993.4,247.7 L993.8,247.3 L993.9,246.7"/>
<path stroke="#1B66E0" d="M845.0,361.0 L845.4,356.4 L845.7,360.5 L846.1,359.5 L846.4,360.5 L846.8,359.1 L847.1,360.2 L847.5,358.1 L847.8,357.4 L848.2,358.5 L848.5,358.5 L848.9,357.8 L849.2,358.0 L849.6,358.9 L849.9,358.7 L850.3,357.2 L850.6,357.0 L851.0,355.2 L851.3,358.3 L851.7,356.2 L852.0,357.7 L852.4,356.8 L852.7,358.5 L853.1,358.3 L853.4,357.3 L853.8,358.6 L854.1,356.2 L854.5,358.2 L854.8,355.1 L855.2,356.5 L855.5,356.7 L855.9,355.5 L856.2,354.5 L856.6,353.9 L856.9,354.2 L857.3,355.6 L857.6,355.5 L858.0,354.6 L858.3,354.0 L858.7,356.5 L859.0,355.1 L859.4,356.7 L859.7,357.2 L860.1,359.1 L860.4,358.6 L860.8,358.7 L861.1,358.1 L861.5,356.7 L861.8,357.4 L862.2,357.9 L862.5,356.0 L862.9,356.3 L863.2,355.3 L863.6,356.4 L863.9,356.2 L864.3,356.7 L864.6,356.5 L865.0,358.0 L865.3,355.9 L865.7,355.7 L866.0,354.9 L866.4,355.5 L866.7,353.7 L867.1,353.3 L867.4,354.4 L867.8,354.9 L868.1,354.5 L868.5,351.5 L868.8,353.7 L869.2,354.1 L869.5,354.4 L869.9,355.7 L870.2,358.4 L870.6,356.6 L870.9,356.5 L871.3,358.1 L871.6,357.5 L872.0,357.5 L872.3,356.4 L872.7,356.8 L873.0,356.9 L873.4,354.2 L873.7,354.3 L874.1,356.8 L874.4,356.3 L874.8,354.8 L875.1,353.9 L875.5,354.4 L875.8,353.1 L876.2,353.7 L876.5,355.5 L876.9,353.7 L877.2,354.6 L877.6,353.0 L877.9,353.6 L878.3,354.6 L878.6,352.1 L879.0,353.3 L879.3,353.7 L879.7,354.4 L880.0,355.9 L880.4,355.2 L880.7,353.0 L881.1,354.2 L881.4,353.5 L881.8,353.4 L882.1,356.2 L882.5,353.0 L882.8,354.2 L883.2,353.2 L883.5,354.8 L883.9,354.2 L884.2,354.0 L884.6,353.8 L884.9,355.1 L885.3,353.1 L885.6,353.5 L886.0,353.2 L886.3,355.6 L886.7,353.8 L887.0,352.8 L887.4,353.0 L887.7,355.5 L888.1,352.6 L888.4,353.6 L888.8,353.5 L889.1,353.5 L889.5,353.4 L889.8,354.3 L890.2,354.6 L890.5,352.9 L890.9,357.7 L891.2,355.9 L891.6,355.0 L891.9,354.6 L892.3,354.0 L892.6,355.7 L893.0,354.5 L893.3,355.1 L893.7,353.2 L894.0,354.9 L894.4,356.4 L894.7,354.0 L895.1,354.8 L895.4,353.7 L895.8,354.5 L896.1,354.2 L896.5,353.1 L896.8,352.5 L897.2,353.4 L897.5,353.4 L897.9,353.1 L898.2,354.6 L898.6,355.1 L898.9,354.2 L899.3,355.4 L899.6,358.5 L900.0,356.3 L900.3,355.2 L900.7,357.1 L901.0,353.6 L901.4,351.3 L901.7,351.8 L902.1,352.2 L902.4,354.2 L902.8,355.1 L903.1,352.1 L903.5,355.4 L903.8,352.9 L904.2,354.1 L904.5,353.9 L904.9,353.5 L905.2,352.7 L905.6,352.6 L905.9,351.1 L906.3,352.3 L906.6,352.7 L907.0,352.3 L907.3,353.5 L907.7,351.4 L908.0,350.5 L908.4,350.9 L908.7,349.0 L909.1,347.0 L909.4,345.8 L909.8,349.1 L910.1,348.4 L910.5,348.9 L910.8,348.1 L911.2,349.2 L911.5,351.1 L911.9,349.6 L912.2,348.0 L912.6,348.3 L912.9,349.4 L913.3,346.2 L913.6,344.0 L914.0,343.7 L914.3,344.2 L914.7,346.0 L915.0,345.1 L915.4,344.1 L915.7,343.3 L916.1,344.3 L916.4,344.0 L916.8,343.3 L917.1,343.2 L917.5,342.2 L917.8,344.2 L918.2,339.1 L918.5,340.4 L918.9,337.9 L919.2,338.2 L919.6,335.8 L919.9,334.9 L920.3,333.6 L920.6,331.8 L921.0,331.0 L921.3,326.9 L921.7,327.6 L922.0,324.5 L922.4,322.8 L922.7,321.4 L923.1,318.1 L923.4,316.0 L923.8,308.8 L924.1,307.1 L924.5,306.1 L924.8,301.2 L925.2,299.3 L925.5,298.5 L925.9,295.0 L926.2,290.7 L926.6,289.7 L926.9,287.5 L927.3,284.4 L927.6,281.3 L928.0,278.2 L928.3,273.3 L928.7,272.0 L929.0,268.9 L929.4,268.6 L929.7,267.4 L930.1,265.4 L930.4,267.0 L930.8,267.4 L931.1,268.0 L931.5,269.8 L931.8,269.9 L932.2,271.2 L932.5,273.4 L932.9,275.5 L933.2,279.3 L933.6,278.6 L933.9,283.7 L934.3,285.1 L934.6,290.7 L935.0,296.6 L935.3,302.0 L935.7,308.3 L936.0,312.2 L936.4,313.5 L936.7,319.3 L937.1,325.7 L937.4,329.0 L937.8,330.6 L938.1,331.8 L938.5,338.1 L938.8,336.1 L939.2,340.3 L939.5,341.3 L939.9,342.5 L940.2,341.6 L940.6,342.8 L940.9,344.6 L941.3,343.3 L941.6,342.7 L942.0,344.4 L942.3,344.8 L942.7,345.1 L943.0,345.0 L943.4,347.1 L943.7,347.2 L944.1,346.9 L944.4,349.1 L944.8,349.5 L945.1,350.1 L945.5,348.6 L945.8,349.7 L946.2,351.0 L946.5,351.5 L946.9,350.9 L947.2,350.7 L947.6,351.4 L947.9,351.8 L948.3,352.8 L948.6,351.9 L949.0,351.3 L949.3,352.9 L949.7,351.0 L950.0,353.6 L950.4,353.6 L950.7,354.4 L951.1,355.0 L951.4,354.6 L951.8,353.1 L952.1,354.1 L952.5,353.6 L952.8,354.5 L953.2,355.2 L953.5,354.2 L953.9,356.3 L954.2,357.3 L954.6,356.0 L954.9,357.2 L955.3,355.1 L955.6,356.2 L956.0,357.8 L956.3,355.3 L956.7,356.8 L957.0,356.7 L957.4,359.1 L957.7,359.5 L958.1,357.8 L958.4,358.6 L958.8,355.6 L959.1,358.8 L959.5,358.0 L959.8,358.8 L960.2,354.9 L960.5,357.5 L960.9,356.7 L961.2,354.3 L961.6,356.0 L961.9,356.3 L962.3,357.0 L962.6,356.4 L963.0,355.9 L963.3,357.1 L963.7,356.9 L964.0,356.7 L964.4,356.5 L964.7,357.8 L965.1,357.8 L965.4,359.4 L965.8,356.9 L966.1,358.8 L966.5,357.2 L966.8,357.9 L967.2,355.7 L967.5,355.9 L967.9,356.9 L968.2,358.8 L968.6,358.8 L968.9,360.1 L969.3,360.3 L969.6,361.3 L970.0,360.4 L970.3,359.4 L970.7,359.8 L971.0,358.8 L971.4,359.8 L971.7,357.3 L972.1,357.2 L972.4,356.6 L972.8,358.0 L973.1,357.7 L973.5,357.3 L973.8,355.1 L974.2,354.6 L974.5,356.1 L974.9,356.4 L975.2,357.2 L975.6,354.1 L975.9,356.0 L976.3,354.8 L976.6,355.8 L977.0,356.9 L977.3,358.3 L977.7,357.0 L978.0,356.8 L978.4,357.0 L978.7,358.3 L979.1,359.1 L979.4,354.7 L979.8,355.8 L980.1,355.7 L980.5,357.6 L980.8,357.2 L981.2,358.6 L981.5,356.2 L981.9,357.2 L982.2,356.5 L982.6,355.5 L982.9,356.0 L983.3,354.7 L983.6,357.8 L984.0,356.0 L984.3,354.6 L984.7,355.1 L985.0,357.6 L985.4,355.5 L985.7,356.7 L986.1,356.6 L986.4,357.0 L986.8,356.5 L987.1,355.8 L987.5,355.6 L987.8,354.8 L988.2,356.9 L988.5,357.3 L988.9,357.0 L989.2,357.2 L989.6,355.9 L989.9,359.1 L990.3,356.2 L990.6,355.4 L991.0,355.7 L991.3,356.0 L991.7,356.8 L992.0,353.7 L992.4,356.8 L992.7,355.9 L993.1,356.5 L993.4,357.9 L993.8,357.8 L993.9,356.4"/>
<path stroke="#F73838" d="M845.0,468.5 L845.4,467.2 L845.7,466.9 L846.1,466.0 L846.4,468.4 L846.8,470.0 L847.1,469.3 L847.5,470.0 L847.8,470.6 L848.2,469.1 L848.5,471.9 L848.9,469.0 L849.2,469.8 L849.6,471.5 L849.9,469.1 L850.3,469.2 L850.6,468.8 L851.0,469.6 L851.3,467.7 L851.7,469.0 L852.0,470.8 L852.4,469.5 L852.7,468.9 L853.1,469.2 L853.4,469.0 L853.8,468.7 L854.1,468.9 L854.5,467.0 L854.8,468.7 L855.2,467.6 L855.5,468.7 L855.9,468.1 L856.2,467.4 L856.6,468.3 L856.9,467.6 L857.3,469.2 L857.6,468.3 L858.0,468.9 L858.3,467.1 L858.7,469.1 L859.0,467.5 L859.4,468.8 L859.7,468.5 L860.1,467.1 L860.4,468.5 L860.8,468.0 L861.1,469.0 L861.5,470.0 L861.8,469.5 L862.2,469.9 L862.5,468.2 L862.9,469.2 L863.2,469.3 L863.6,469.7 L863.9,468.2 L864.3,469.0 L864.6,468.7 L865.0,467.0 L865.3,467.2 L865.7,468.2 L866.0,466.7 L866.4,466.5 L866.7,468.0 L867.1,467.4 L867.4,466.9 L867.8,467.1 L868.1,466.8 L868.5,466.8 L868.8,467.1 L869.2,468.0 L869.5,468.9 L869.9,467.5 L870.2,467.8 L870.6,467.6 L870.9,466.6 L871.3,467.7 L871.6,468.1 L872.0,466.7 L872.3,468.0 L872.7,466.9 L873.0,468.2 L873.4,468.2 L873.7,466.8 L874.1,465.4 L874.4,466.4 L874.8,465.3 L875.1,465.1 L875.5,465.8 L875.8,467.1 L876.2,466.1 L876.5,466.2 L876.9,465.3 L877.2,466.7 L877.6,466.4 L877.9,468.2 L878.3,467.6 L878.6,468.1 L879.0,468.1 L879.3,467.8 L879.7,468.6 L880.0,468.1 L880.4,467.4 L880.7,467.7 L881.1,467.9 L881.4,468.5 L881.8,467.5 L882.1,468.4 L882.5,466.6 L882.8,466.7 L883.2,465.5 L883.5,467.2 L883.9,465.6 L884.2,465.5 L884.6,467.0 L884.9,466.0 L885.3,465.9 L885.6,467.4 L886.0,466.6 L886.3,467.5 L886.7,466.3 L887.0,466.9 L887.4,466.9 L887.7,465.8 L888.1,466.9 L888.4,464.9 L888.8,465.0 L889.1,465.2 L889.5,465.9 L889.8,465.0 L890.2,465.1 L890.5,465.8 L890.9,466.9 L891.2,465.8 L891.6,465.3 L891.9,466.3 L892.3,467.1 L892.6,466.4 L893.0,467.2 L893.3,465.8 L893.7,467.5 L894.0,467.6 L894.4,467.9 L894.7,467.3 L895.1,467.3 L895.4,465.5 L895.8,466.5 L896.1,464.5 L896.5,465.2 L896.8,466.4 L897.2,466.1 L897.5,463.8 L897.9,465.6 L898.2,464.5 L898.6,464.0 L898.9,464.5 L899.3,464.2 L899.6,465.0 L900.0,462.5 L900.3,463.2 L900.7,463.4 L901.0,461.9 L901.4,464.2 L901.7,464.6 L902.1,462.5 L902.4,463.3 L902.8,462.7 L903.1,463.1 L903.5,462.3 L903.8,463.4 L904.2,461.6 L904.5,463.5 L904.9,462.4 L905.2,463.8 L905.6,460.4 L905.9,461.5 L906.3,460.6 L906.6,461.5 L907.0,462.1 L907.3,461.1 L907.7,461.0 L908.0,461.0 L908.4,462.9 L908.7,464.1 L909.1,464.3 L909.4,463.5 L909.8,461.7 L910.1,460.6 L910.5,457.9 L910.8,456.0 L911.2,456.1 L911.5,451.6 L911.9,448.4 L912.2,444.3 L912.6,440.2 L912.9,432.3 L913.3,423.0 L913.6,416.5 L914.0,409.8 L914.3,407.9 L914.7,404.4 L915.0,399.6 L915.4,398.2 L915.7,393.4 L916.1,389.8 L916.4,386.6 L916.8,385.6 L917.1,383.5 L917.5,380.2 L917.8,378.4 L918.2,379.0 L918.5,378.8 L918.9,380.4 L919.2,381.9 L919.6,382.0 L919.9,383.5 L920.3,386.7 L920.6,389.1 L921.0,392.7 L921.3,392.9 L921.7,394.4 L922.0,398.8 L922.4,402.2 L922.7,405.0 L923.1,409.2 L923.4,412.5 L923.8,415.6 L924.1,416.5 L924.5,419.0 L924.8,422.0 L925.2,424.1 L925.5,427.8 L925.9,429.6 L926.2,431.2 L926.6,434.5 L926.9,435.7 L927.3,438.2 L927.6,440.1 L928.0,441.5 L928.3,443.8 L928.7,446.6 L929.0,448.4 L929.4,451.6 L929.7,455.1 L930.1,457.0 L930.4,458.2 L930.8,462.9 L931.1,462.2 L931.5,465.5 L931.8,467.7 L932.2,469.3 L932.5,467.6 L932.9,468.4 L933.2,468.3 L933.6,469.5 L933.9,469.0 L934.3,469.3 L934.6,469.8 L935.0,471.4 L935.3,470.7 L935.7,471.3 L936.0,470.2 L936.4,471.8 L936.7,470.3 L937.1,471.9 L937.4,471.0 L937.8,469.7 L938.1,469.0 L938.5,469.5 L938.8,469.4 L939.2,468.8 L939.5,469.1 L939.9,469.3 L940.2,469.4 L940.6,469.9 L940.9,470.4 L941.3,471.2 L941.6,470.6 L942.0,469.6 L942.3,471.2 L942.7,470.7 L943.0,469.5 L943.4,470.5 L943.7,469.2 L944.1,468.9 L944.4,468.9 L944.8,470.6 L945.1,469.3 L945.5,469.2 L945.8,468.8 L946.2,468.2 L946.5,468.7 L946.9,468.8 L947.2,469.7 L947.6,467.3 L947.9,469.2 L948.3,468.4 L948.6,466.4 L949.0,468.5 L949.3,469.0 L949.7,468.4 L950.0,467.5 L950.4,467.4 L950.7,465.7 L951.1,467.5 L951.4,467.5 L951.8,466.7 L952.1,467.8 L952.5,467.2 L952.8,469.7 L953.2,467.1 L953.5,467.4 L953.9,466.4 L954.2,467.8 L954.6,468.1 L954.9,467.8 L955.3,467.0 L955.6,468.1 L956.0,467.5 L956.3,468.3 L956.7,467.4 L957.0,466.1 L957.4,467.5 L957.7,466.8 L958.1,468.2 L958.4,467.0 L958.8,467.3 L959.1,467.5 L959.5,466.3 L959.8,467.2 L960.2,468.2 L960.5,466.9 L960.9,467.0 L961.2,467.1 L961.6,466.3 L961.9,466.5 L962.3,467.0 L962.6,466.4 L963.0,467.0 L963.3,467.1 L963.7,466.7 L964.0,466.9 L964.4,469.9 L964.7,469.6 L965.1,468.6 L965.4,469.4 L965.8,469.3 L966.1,469.0 L966.5,467.7 L966.8,466.6 L967.2,466.5 L967.5,467.2 L967.9,468.5 L968.2,468.7 L968.6,467.4 L968.9,467.4 L969.3,468.7 L969.6,469.4 L970.0,467.0 L970.3,468.0 L970.7,467.7 L971.0,467.3 L971.4,467.4 L971.7,467.4 L972.1,467.6 L972.4,466.3 L972.8,467.3 L973.1,467.6 L973.5,467.3 L973.8,467.0 L974.2,466.4 L974.5,466.1 L974.9,467.5 L975.2,465.9 L975.6,466.3 L975.9,467.5 L976.3,466.8 L976.6,466.0 L977.0,466.9 L977.3,467.1 L977.7,467.5 L978.0,467.3 L978.4,468.4 L978.7,468.0 L979.1,467.8 L979.4,467.0 L979.8,468.2 L980.1,468.3 L980.5,469.3 L980.8,467.2 L981.2,467.5 L981.5,468.6 L981.9,466.4 L982.2,467.4 L982.6,467.2 L982.9,467.1 L983.3,466.4 L983.6,467.2 L984.0,466.1 L984.3,468.4 L984.7,467.1 L985.0,467.8 L985.4,467.7 L985.7,468.0 L986.1,468.0 L986.4,468.3 L986.8,467.6 L987.1,468.0 L987.5,467.1 L987.8,467.1 L988.2,467.4 L988.5,467.4 L988.9,467.3 L989.2,468.0 L989.6,469.0 L989.9,468.8 L990.3,468.0 L990.6,468.4 L991.0,468.2 L991.3,469.9 L991.7,466.4 L992.0,467.8 L992.4,466.6 L992.7,468.7 L993.1,467.7 L993.4,468.4 L993.8,468.4 L993.9,468.9"/>
<path stroke="#424242" d="M845.0,581.8 L845.4,582.0 L845.7,582.5 L846.1,582.1 L846.4,582.6 L846.8,582.8 L847.1,582.0 L847.5,583.0 L847.8,582.4 L848.2,583.5 L848.5,582.9 L848.9,582.3 L849.2,582.6 L849.6,582.5 L849.9,582.6 L850.3,583.0 L850.6,582.8 L851.0,583.2 L851.3,582.8 L851.7,582.5 L852.0,581.9 L852.4,581.7 L852.7,582.3 L853.1,582.5 L853.4,582.8 L853.8,582.1 L854.1,582.5 L854.5,582.3 L854.8,582.6 L855.2,582.0 L855.5,583.3 L855.9,582.7 L856.2,583.0 L856.6,583.1 L856.9,583.0 L857.3,582.3 L857.6,583.5 L858.0,583.1 L858.3,583.0 L858.7,582.5 L859.0,582.0 L859.4,581.8 L859.7,582.2 L860.1,582.1 L860.4,581.6 L860.8,582.5 L861.1,581.8 L861.5,582.1 L861.8,582.1 L862.2,581.5 L862.5,582.6 L862.9,582.6 L863.2,582.2 L863.6,583.2 L863.9,583.6 L864.3,583.6 L864.6,583.7 L865.0,582.6 L865.3,583.0 L865.7,582.7 L866.0,582.8 L866.4,582.6 L866.7,582.9 L867.1,582.7 L867.4,581.9 L867.8,582.6 L868.1,582.8 L868.5,582.3 L868.8,581.5 L869.2,581.9 L869.5,582.2 L869.9,581.6 L870.2,582.2 L870.6,581.7 L870.9,582.4 L871.3,582.2 L871.6,581.7 L872.0,581.1 L872.3,581.5 L872.7,581.0 L873.0,580.8 L873.4,581.3 L873.7,580.3 L874.1,579.8 L874.4,580.4 L874.8,580.6 L875.1,580.4 L875.5,579.9 L875.8,580.4 L876.2,579.5 L876.5,580.5 L876.9,580.5 L877.2,579.6 L877.6,579.9 L877.9,579.4 L878.3,579.6 L878.6,580.3 L879.0,579.7 L879.3,580.4 L879.7,580.6 L880.0,580.5 L880.4,580.8 L880.7,581.2 L881.1,580.5 L881.4,580.8 L881.8,580.9 L882.1,580.1 L882.5,580.0 L882.8,579.3 L883.2,580.5 L883.5,580.8 L883.9,580.7 L884.2,581.4 L884.6,581.2 L884.9,580.9 L885.3,580.5 L885.6,580.1 L886.0,580.3 L886.3,580.4 L886.7,580.0 L887.0,579.8 L887.4,579.6 L887.7,580.0 L888.1,579.0 L888.4,579.6 L888.8,579.8 L889.1,580.1 L889.5,580.1 L889.8,579.7 L890.2,579.5 L890.5,579.2 L890.9,580.1 L891.2,579.8 L891.6,579.6 L891.9,579.2 L892.3,579.1 L892.6,580.0 L893.0,579.7 L893.3,580.0 L893.7,580.6 L894.0,579.3 L894.4,579.7 L894.7,580.1 L895.1,580.2 L895.4,579.5 L895.8,579.8 L896.1,579.5 L896.5,579.5 L896.8,579.8 L897.2,579.7 L897.5,580.1 L897.9,579.8 L898.2,580.2 L898.6,579.2 L898.9,579.7 L899.3,578.9 L899.6,578.7 L900.0,578.8 L900.3,579.6 L900.7,579.3 L901.0,578.6 L901.4,579.8 L901.7,579.6 L902.1,579.1 L902.4,579.0 L902.8,578.9 L903.1,578.4 L903.5,579.7 L903.8,578.4 L904.2,578.5 L904.5,578.3 L904.9,578.0 L905.2,577.7 L905.6,577.9 L905.9,576.9 L906.3,576.6 L906.6,576.3 L907.0,576.5 L907.3,575.5 L907.7,575.2 L908.0,575.5 L908.4,574.7 L908.7,574.9 L909.1,575.2 L909.4,574.8 L909.8,574.6 L910.1,575.1 L910.5,574.3 L910.8,574.2 L911.2,573.7 L911.5,574.4 L911.9,574.5 L912.2,573.8 L912.6,574.6 L912.9,573.9 L913.3,573.5 L913.6,572.3 L914.0,572.5 L914.3,572.1 L914.7,570.7 L915.0,571.0 L915.4,570.4 L915.7,569.1 L916.1,569.4 L916.4,569.3 L916.8,568.0 L917.1,566.6 L917.5,565.9 L917.8,565.5 L918.2,563.7 L918.5,563.2 L918.9,561.9 L919.2,560.7 L919.6,560.0 L919.9,557.1 L920.3,556.2 L920.6,553.5 L921.0,550.8 L921.3,547.5 L921.7,545.4 L922.0,541.8 L922.4,537.2 L922.7,534.2 L923.1,530.6 L923.4,527.0 L923.8,523.4 L924.1,519.6 L924.5,517.0 L924.8,512.9 L925.2,508.5 L925.5,505.7 L925.9,503.9 L926.2,501.8 L926.6,500.0 L926.9,500.1 L927.3,500.6 L927.6,500.2 L928.0,501.6 L928.3,503.2 L928.7,504.4 L929.0,505.7 L929.4,507.2 L929.7,508.9 L930.1,510.9 L930.4,513.9 L930.8,516.4 L931.1,518.9 L931.5,522.5 L931.8,527.2 L932.2,531.1 L932.5,534.0 L932.9,537.3 L933.2,541.7 L933.6,545.4 L933.9,548.6 L934.3,551.4 L934.6,553.2 L935.0,556.3 L935.3,558.2 L935.7,559.9 L936.0,562.9 L936.4,563.3 L936.7,564.7 L937.1,565.5 L937.4,566.6 L937.8,567.5 L938.1,567.5 L938.5,568.1 L938.8,568.4 L939.2,568.7 L939.5,569.5 L939.9,570.2 L940.2,570.6 L940.6,571.0 L940.9,570.9 L941.3,572.4 L941.6,572.9 L942.0,574.0 L942.3,573.6 L942.7,573.8 L943.0,573.9 L943.4,574.7 L943.7,575.1 L944.1,575.4 L944.4,574.8 L944.8,575.4 L945.1,576.3 L945.5,576.3 L945.8,576.5 L946.2,576.8 L946.5,576.7 L946.9,577.1 L947.2,577.7 L947.6,578.6 L947.9,578.7 L948.3,578.2 L948.6,578.6 L949.0,578.5 L949.3,578.9 L949.7,578.2 L950.0,578.7 L950.4,579.1 L950.7,578.3 L951.1,578.9 L951.4,579.2 L951.8,579.4 L952.1,579.6 L952.5,579.8 L952.8,580.1 L953.2,580.5 L953.5,580.3 L953.9,581.2 L954.2,580.3 L954.6,580.6 L954.9,580.9 L955.3,580.5 L955.6,580.2 L956.0,580.2 L956.3,581.1 L956.7,580.3 L957.0,580.0 L957.4,581.3 L957.7,580.7 L958.1,580.6 L958.4,580.2 L958.8,580.8 L959.1,580.5 L959.5,580.8 L959.8,580.6 L960.2,580.5 L960.5,580.6 L960.9,580.0 L961.2,580.1 L961.6,580.0 L961.9,580.4 L962.3,580.6 L962.6,580.7 L963.0,579.7 L963.3,581.2 L963.7,580.4 L964.0,580.4 L964.4,580.4 L964.7,580.4 L965.1,580.9 L965.4,580.5 L965.8,580.6 L966.1,580.9 L966.5,581.1 L966.8,580.3 L967.2,580.4 L967.5,580.2 L967.9,580.3 L968.2,581.3 L968.6,581.3 L968.9,581.2 L969.3,581.3 L969.6,581.2 L970.0,581.4 L970.3,581.6 L970.7,580.5 L971.0,581.5 L971.4,581.4 L971.7,580.7 L972.1,581.2 L972.4,581.0 L972.8,580.4 L973.1,581.1 L973.5,580.5 L973.8,581.2 L974.2,580.8 L974.5,581.2 L974.9,581.8 L975.2,581.6 L975.6,581.3 L975.9,581.7 L976.3,581.9 L976.6,581.9 L977.0,581.2 L977.3,581.9 L977.7,581.3 L978.0,581.1 L978.4,581.7 L978.7,581.4 L979.1,581.4 L979.4,581.2 L979.8,580.4 L980.1,581.4 L980.5,581.6 L980.8,581.5 L981.2,582.4 L981.5,581.9 L981.9,582.6 L982.2,582.5 L982.6,581.7 L982.9,581.6 L983.3,581.7 L983.6,581.7 L984.0,581.9 L984.3,581.3 L984.7,581.1 L985.0,582.2 L985.4,581.3 L985.7,581.3 L986.1,581.9 L986.4,581.2 L986.8,580.3 L987.1,581.5 L987.5,581.1 L987.8,581.8 L988.2,580.7 L988.5,581.6 L988.9,581.8 L989.2,582.1 L989.6,581.9 L989.9,581.9 L990.3,581.5 L990.6,581.4 L991.0,581.0 L991.3,581.6 L991.7,581.7 L992.0,581.1 L992.4,580.4 L992.7,580.1 L993.1,580.5 L993.4,581.4 L993.8,580.9 L993.9,580.6"/>
</g>
<path d="M927.6,499.2 L921.2,435.7" stroke="#DBA30F" stroke-width="1.9" stroke-dasharray="7,7" stroke-dashoffset="0" fill="none"/>
<path d="M919.9,422.8 L925.9,437.3 L916.9,438.2 Z" fill="#DBA30F"/>
<path d="M915.3,411.5 L929.0,310.8" stroke="#DBA30F" stroke-width="1.9" stroke-dasharray="7,7" stroke-dashoffset="10.5" fill="none"/>
<path d="M930.8,297.9 L933.2,313.4 L924.3,312.2 Z" fill="#DBA30F"/>
<path d="M930.0,268.5 L918.8,207.8" stroke="#DBA30F" stroke-width="1.9" stroke-dasharray="7,7" stroke-dashoffset="0" fill="none"/>
<path d="M916.5,195.0 L923.6,208.9 L914.8,210.6 Z" fill="#DBA30F"/>
<path d="M920.2,158.5 L928.3,106.2" stroke="#DBA30F" stroke-width="1.9" stroke-dasharray="7,7" stroke-dashoffset="0" fill="none"/>
<path d="M930.3,93.4 L932.4,108.9 L923.6,107.5 Z" fill="#DBA30F"/>
<g style="font-family:'Liberation Serif',serif;font-size:35.3px" fill="#000" text-anchor="middle">
<text transform="translate(102.2,654.8) scale(1,1.025)">10</text>
<text transform="translate(201.9,654.8) scale(1,1.025)">20</text>
<text transform="translate(301.6,654.8) scale(1,1.025)">30</text>
<text transform="translate(401.3,654.8) scale(1,1.025)">40</text>
<text transform="translate(501.0,654.8) scale(1,1.025)">50</text>
<text transform="translate(600.6,654.8) scale(1,1.025)">60</text>
<text transform="translate(700.3,654.8) scale(1,1.025)">70</text>
<text transform="translate(800.0,654.8) scale(1,1.025)">80</text>
<text transform="translate(845.0,653.6) scale(1,1.01)">19</text>
<text transform="translate(904.6,653.6) scale(1,1.01)">20</text>
<text transform="translate(964.1,653.6) scale(1,1.01)">21</text>
</g>
<text x="425.5" y="689" text-anchor="middle" style="font-family:'Liberation Serif',serif;font-size:34.3px">2 Theta (degree)</text>
<text transform="translate(24.9,297.2) rotate(-90) scale(1,1.06)" text-anchor="middle" style="font-family:'Liberation Serif',serif;font-size:34.2px">Intensity (a.u.)</text>
<text x="205.9" y="48.6" text-anchor="middle" style="font-family:'Liberation Serif',serif;font-size:32.2px">(001)</text>
<text x="927.2" y="56.2" text-anchor="middle" style="font-family:'Liberation Serif',serif;font-size:34.8px">(001)</text>
<text transform="translate(526.5,132.6) scale(1,1.07)" fill="#B46BE0" style="font-family:'Liberation Serif',serif;font-size:34.3px">2nd cha 1.4 V</text>
<text transform="translate(535.8,240.3) scale(1,1.07)" fill="#2EAE6A" style="font-family:'Liberation Serif',serif;font-size:34.3px">2nd dis 0.3 V</text>
<text transform="translate(539.7,345.9) scale(1,1.07)" fill="#1B66E0" style="font-family:'Liberation Serif',serif;font-size:34.3px">1st cha 1.4 V</text>
<text transform="translate(543.7,459.3) scale(1,1.07)" fill="#F73838" style="font-family:'Liberation Serif',serif;font-size:34.3px">1st dis 0.3 V</text>
<text transform="translate(577.0,572.7) scale(1,1.07)" fill="#3C3C3C" style="font-family:'Liberation Serif',serif;font-size:34.3px">Pristine</text>
</svg></body></html>
